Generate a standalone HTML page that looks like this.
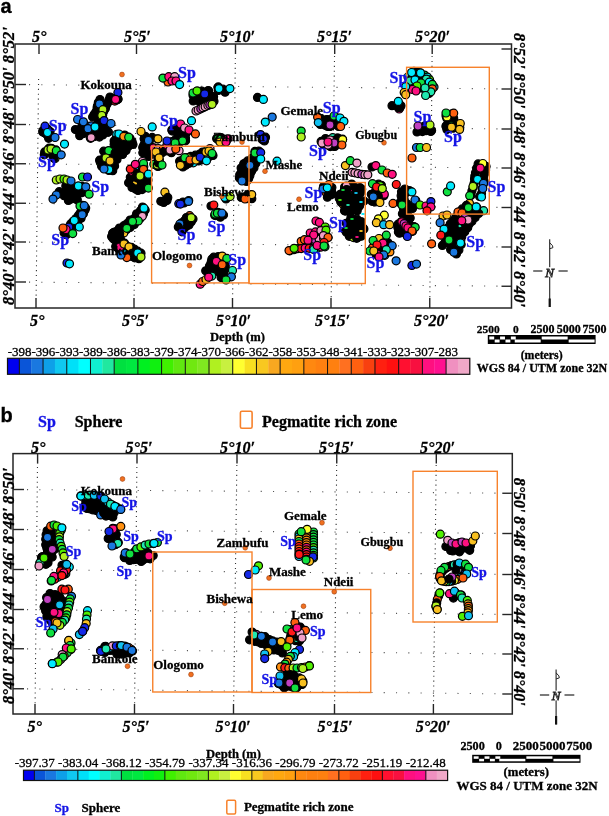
<!DOCTYPE html><html><head><meta charset="utf-8"><style>html,body{margin:0;padding:0;background:#fff;width:609px;height:816px;overflow:hidden}svg{display:block;filter:blur(0.35px)}</style></head><body><svg width="609" height="816" viewBox="0 0 609 816">
<rect width="609" height="816" fill="#fff"/>
<text x="0.5" y="13" font-family="'Liberation Sans', sans-serif" font-size="20" font-weight="bold" font-style="normal" fill="#000" stroke="#000" stroke-width="0.3" text-anchor="start" >a</text>
<line x1="38.60" y1="79" x2="36.11" y2="298" stroke="#333" stroke-width="1.1" stroke-dasharray="1.1 3.8"/>
<line x1="136.17" y1="79" x2="134.09" y2="298" stroke="#333" stroke-width="1.1" stroke-dasharray="1.1 3.8"/>
<line x1="235.34" y1="58" x2="232.61" y2="298" stroke="#333" stroke-width="1.1" stroke-dasharray="1.1 3.8"/>
<line x1="334.53" y1="56" x2="331.14" y2="298" stroke="#333" stroke-width="1.1" stroke-dasharray="1.1 3.8"/>
<line x1="432.09" y1="56" x2="429.84" y2="298" stroke="#333" stroke-width="1.1" stroke-dasharray="1.1 3.8"/>
<line x1="29" y1="84.63" x2="499.5" y2="88.89" stroke="#555" stroke-width="1.1" stroke-dasharray="1.1 11.2"/>
<line x1="29" y1="124.63" x2="499.5" y2="128.89" stroke="#555" stroke-width="1.1" stroke-dasharray="1.1 11.2"/>
<line x1="29" y1="163.87" x2="499.5" y2="167.90" stroke="#555" stroke-width="1.1" stroke-dasharray="1.1 11.2"/>
<line x1="29" y1="203.37" x2="499.5" y2="207.40" stroke="#555" stroke-width="1.1" stroke-dasharray="1.1 11.2"/>
<line x1="29" y1="242.14" x2="499.5" y2="246.88" stroke="#555" stroke-width="1.1" stroke-dasharray="1.1 11.2"/>
<line x1="29" y1="282.12" x2="499.5" y2="286.15" stroke="#555" stroke-width="1.1" stroke-dasharray="1.1 11.2"/>
<circle cx="113.0" cy="99.4" r="4.0" fill="#000000" stroke="#000" stroke-width="1.2"/>
<circle cx="117.9" cy="99.3" r="4.0" fill="#000000" stroke="#000" stroke-width="1.2"/>
<circle cx="118.0" cy="99.0" r="4.0" fill="#000000" stroke="#000" stroke-width="1.2"/>
<circle cx="112.6" cy="98.4" r="4.0" fill="#000000" stroke="#000" stroke-width="1.2"/>
<circle cx="109.1" cy="99.7" r="4.0" fill="#000000" stroke="#000" stroke-width="1.2"/>
<circle cx="114.8" cy="101.1" r="4.0" fill="#ff1818" stroke="#000" stroke-width="1.2"/>
<circle cx="116.7" cy="98.6" r="4.0" fill="#000000" stroke="#000" stroke-width="1.2"/>
<circle cx="116.6" cy="99.9" r="4.0" fill="#000000" stroke="#000" stroke-width="1.2"/>
<circle cx="107.8" cy="102.7" r="4.0" fill="#000000" stroke="#000" stroke-width="1.2"/>
<circle cx="106.5" cy="104.9" r="4.0" fill="#000000" stroke="#000" stroke-width="1.2"/>
<circle cx="105.4" cy="108.4" r="4.0" fill="#000000" stroke="#000" stroke-width="1.2"/>
<circle cx="103.8" cy="111.3" r="4.0" fill="#000000" stroke="#000" stroke-width="1.2"/>
<circle cx="102.7" cy="115.0" r="4.0" fill="#000000" stroke="#000" stroke-width="1.2"/>
<circle cx="101.3" cy="116.9" r="4.0" fill="#000000" stroke="#000" stroke-width="1.2"/>
<circle cx="100.1" cy="120.1" r="4.0" fill="#000000" stroke="#000" stroke-width="1.2"/>
<circle cx="100.0" cy="99.5" r="4.0" fill="#000000" stroke="#000" stroke-width="1.2"/>
<circle cx="98.3" cy="102.5" r="4.0" fill="#000000" stroke="#000" stroke-width="1.2"/>
<circle cx="97.4" cy="106.1" r="4.0" fill="#000000" stroke="#000" stroke-width="1.2"/>
<circle cx="97.1" cy="107.7" r="4.0" fill="#000000" stroke="#000" stroke-width="1.2"/>
<circle cx="95.8" cy="111.9" r="4.0" fill="#000000" stroke="#000" stroke-width="1.2"/>
<circle cx="94.1" cy="114.5" r="4.0" fill="#000000" stroke="#000" stroke-width="1.2"/>
<circle cx="92.6" cy="116.9" r="4.0" fill="#000000" stroke="#000" stroke-width="1.2"/>
<circle cx="90.2" cy="137.6" r="4.0" fill="#000000" stroke="#000" stroke-width="1.2"/>
<circle cx="90.9" cy="126.6" r="4.0" fill="#000000" stroke="#000" stroke-width="1.2"/>
<circle cx="87.2" cy="126.2" r="4.0" fill="#000000" stroke="#000" stroke-width="1.2"/>
<circle cx="99.6" cy="127.9" r="4.0" fill="#ff6010" stroke="#000" stroke-width="1.2"/>
<circle cx="94.9" cy="133.4" r="4.0" fill="#000000" stroke="#000" stroke-width="1.2"/>
<circle cx="92.7" cy="128.1" r="4.0" fill="#000000" stroke="#000" stroke-width="1.2"/>
<circle cx="79.7" cy="135.7" r="4.0" fill="#000000" stroke="#000" stroke-width="1.2"/>
<circle cx="80.0" cy="132.9" r="4.0" fill="#000000" stroke="#000" stroke-width="1.2"/>
<circle cx="98.7" cy="124.3" r="4.0" fill="#000000" stroke="#000" stroke-width="1.2"/>
<circle cx="83.2" cy="133.4" r="4.0" fill="#000000" stroke="#000" stroke-width="1.2"/>
<circle cx="98.4" cy="130.2" r="4.0" fill="#000000" stroke="#000" stroke-width="1.2"/>
<circle cx="92.9" cy="134.8" r="4.0" fill="#000000" stroke="#000" stroke-width="1.2"/>
<circle cx="84.6" cy="128.8" r="4.0" fill="#000000" stroke="#000" stroke-width="1.2"/>
<circle cx="83.0" cy="133.4" r="4.0" fill="#000000" stroke="#000" stroke-width="1.2"/>
<circle cx="105.5" cy="129.1" r="4.0" fill="#000000" stroke="#000" stroke-width="1.2"/>
<circle cx="81.7" cy="126.6" r="4.0" fill="#000000" stroke="#000" stroke-width="1.2"/>
<circle cx="104.1" cy="126.8" r="4.0" fill="#000000" stroke="#000" stroke-width="1.2"/>
<circle cx="95.2" cy="126.2" r="4.0" fill="#000000" stroke="#000" stroke-width="1.2"/>
<circle cx="102.8" cy="134.9" r="4.0" fill="#000000" stroke="#000" stroke-width="1.2"/>
<circle cx="99.1" cy="132.5" r="4.0" fill="#000000" stroke="#000" stroke-width="1.2"/>
<circle cx="89.9" cy="132.5" r="4.0" fill="#000000" stroke="#000" stroke-width="1.2"/>
<circle cx="95.1" cy="133.1" r="4.0" fill="#000000" stroke="#000" stroke-width="1.2"/>
<circle cx="107.7" cy="132.2" r="4.0" fill="#000000" stroke="#000" stroke-width="1.2"/>
<circle cx="97.1" cy="134.2" r="4.0" fill="#000000" stroke="#000" stroke-width="1.2"/>
<circle cx="88.1" cy="133.1" r="4.0" fill="#000000" stroke="#000" stroke-width="1.2"/>
<circle cx="103.6" cy="130.8" r="4.0" fill="#000000" stroke="#000" stroke-width="1.2"/>
<circle cx="96.7" cy="132.3" r="4.0" fill="#000000" stroke="#000" stroke-width="1.2"/>
<circle cx="90.6" cy="138.3" r="4.0" fill="#000000" stroke="#000" stroke-width="1.2"/>
<circle cx="108.4" cy="132.1" r="4.0" fill="#000000" stroke="#000" stroke-width="1.2"/>
<circle cx="99.6" cy="135.7" r="4.0" fill="#000000" stroke="#000" stroke-width="1.2"/>
<circle cx="75.4" cy="129.6" r="4.0" fill="#000000" stroke="#000" stroke-width="1.2"/>
<circle cx="89.1" cy="127.1" r="4.0" fill="#000000" stroke="#000" stroke-width="1.2"/>
<circle cx="99.4" cy="137.1" r="4.0" fill="#000000" stroke="#000" stroke-width="1.2"/>
<circle cx="93.8" cy="126.5" r="4.0" fill="#000000" stroke="#000" stroke-width="1.2"/>
<circle cx="98.4" cy="123.6" r="4.0" fill="#000000" stroke="#000" stroke-width="1.2"/>
<circle cx="97.3" cy="124.2" r="4.0" fill="#000000" stroke="#000" stroke-width="1.2"/>
<circle cx="93.8" cy="136.7" r="4.0" fill="#000000" stroke="#000" stroke-width="1.2"/>
<circle cx="94.8" cy="131.2" r="4.0" fill="#000000" stroke="#000" stroke-width="1.2"/>
<circle cx="91.2" cy="137.6" r="4.0" fill="#f0a0c8" stroke="#000" stroke-width="1.2"/>
<circle cx="97.2" cy="124.7" r="4.0" fill="#000000" stroke="#000" stroke-width="1.2"/>
<circle cx="96.8" cy="130.6" r="4.0" fill="#000000" stroke="#000" stroke-width="1.2"/>
<circle cx="82.3" cy="131.9" r="4.0" fill="#000000" stroke="#000" stroke-width="1.2"/>
<circle cx="110.0" cy="97.0" r="4.0" fill="#000000" stroke="#000" stroke-width="1.2"/>
<circle cx="117.9" cy="92.5" r="4.0" fill="#1428e8" stroke="#000" stroke-width="1.2"/>
<circle cx="115.6" cy="99.4" r="4.0" fill="#ff1080" stroke="#000" stroke-width="1.2"/>
<circle cx="99.5" cy="104.0" r="4.0" fill="#1a78e0" stroke="#000" stroke-width="1.2"/>
<circle cx="102.9" cy="109.7" r="4.0" fill="#b0f020" stroke="#000" stroke-width="1.2"/>
<circle cx="101.8" cy="115.5" r="4.0" fill="#b0f020" stroke="#000" stroke-width="1.2"/>
<circle cx="77.6" cy="119.5" r="4.0" fill="#1a78e0" stroke="#000" stroke-width="1.2"/>
<circle cx="83.4" cy="121.8" r="4.0" fill="#1a78e0" stroke="#000" stroke-width="1.2"/>
<circle cx="91.4" cy="125.8" r="4.0" fill="#1a78e0" stroke="#000" stroke-width="1.2"/>
<circle cx="88.0" cy="128.7" r="4.0" fill="#1a78e0" stroke="#000" stroke-width="1.2"/>
<circle cx="104.1" cy="120.6" r="4.0" fill="#1428e8" stroke="#000" stroke-width="1.2"/>
<circle cx="111.0" cy="123.5" r="4.0" fill="#1a78e0" stroke="#000" stroke-width="1.2"/>
<circle cx="95.0" cy="127.0" r="4.0" fill="#00eaff" stroke="#000" stroke-width="1.2"/>
<circle cx="129.8" cy="139.6" r="4.0" fill="#000000" stroke="#000" stroke-width="1.2"/>
<circle cx="126.9" cy="138.1" r="4.0" fill="#000000" stroke="#000" stroke-width="1.2"/>
<circle cx="123.8" cy="138.2" r="4.0" fill="#000000" stroke="#000" stroke-width="1.2"/>
<circle cx="120.9" cy="137.4" r="4.0" fill="#000000" stroke="#000" stroke-width="1.2"/>
<circle cx="114.7" cy="141.9" r="4.0" fill="#000000" stroke="#000" stroke-width="1.2"/>
<circle cx="130.0" cy="138.3" r="4.0" fill="#000000" stroke="#000" stroke-width="1.2"/>
<circle cx="121.9" cy="138.3" r="4.0" fill="#000000" stroke="#000" stroke-width="1.2"/>
<circle cx="123.7" cy="140.0" r="4.0" fill="#000000" stroke="#000" stroke-width="1.2"/>
<circle cx="114.1" cy="141.0" r="4.0" fill="#000000" stroke="#000" stroke-width="1.2"/>
<circle cx="116.3" cy="137.7" r="4.0" fill="#000000" stroke="#000" stroke-width="1.2"/>
<circle cx="126.1" cy="143.7" r="4.0" fill="#000000" stroke="#000" stroke-width="1.2"/>
<circle cx="124.6" cy="135.1" r="4.0" fill="#000000" stroke="#000" stroke-width="1.2"/>
<circle cx="122.0" cy="137.8" r="4.0" fill="#50f000" stroke="#000" stroke-width="1.2"/>
<circle cx="124.1" cy="137.6" r="4.0" fill="#000000" stroke="#000" stroke-width="1.2"/>
<circle cx="120.7" cy="142.8" r="4.0" fill="#000000" stroke="#000" stroke-width="1.2"/>
<circle cx="121.6" cy="143.9" r="4.0" fill="#000000" stroke="#000" stroke-width="1.2"/>
<circle cx="116.7" cy="134.4" r="4.0" fill="#00eaff" stroke="#000" stroke-width="1.2"/>
<circle cx="120.0" cy="135.5" r="4.0" fill="#10e040" stroke="#000" stroke-width="1.2"/>
<circle cx="123.6" cy="136.7" r="4.0" fill="#ff9010" stroke="#000" stroke-width="1.2"/>
<circle cx="128.2" cy="137.3" r="4.0" fill="#10e040" stroke="#000" stroke-width="1.2"/>
<circle cx="49.5" cy="131.8" r="4.0" fill="#000000" stroke="#000" stroke-width="1.2"/>
<circle cx="42.9" cy="130.7" r="4.0" fill="#000000" stroke="#000" stroke-width="1.2"/>
<circle cx="50.1" cy="131.5" r="4.0" fill="#000000" stroke="#000" stroke-width="1.2"/>
<circle cx="46.3" cy="133.9" r="4.0" fill="#000000" stroke="#000" stroke-width="1.2"/>
<circle cx="47.1" cy="134.4" r="4.0" fill="#000000" stroke="#000" stroke-width="1.2"/>
<circle cx="48.6" cy="138.3" r="4.0" fill="#000000" stroke="#000" stroke-width="1.2"/>
<circle cx="44.3" cy="132.6" r="4.0" fill="#000000" stroke="#000" stroke-width="1.2"/>
<circle cx="42.8" cy="131.9" r="4.0" fill="#000000" stroke="#000" stroke-width="1.2"/>
<circle cx="44.7" cy="132.7" r="4.0" fill="#000000" stroke="#000" stroke-width="1.2"/>
<circle cx="47.5" cy="129.1" r="4.0" fill="#000000" stroke="#000" stroke-width="1.2"/>
<circle cx="45.0" cy="126.2" r="4.0" fill="#1428e8" stroke="#000" stroke-width="1.2"/>
<circle cx="47.5" cy="132.5" r="4.0" fill="#00eaff" stroke="#000" stroke-width="1.2"/>
<circle cx="55.0" cy="137.5" r="4.0" fill="#1a78e0" stroke="#000" stroke-width="1.2"/>
<circle cx="64.5" cy="144.1" r="4.0" fill="#00eaff" stroke="#000" stroke-width="1.2"/>
<circle cx="51.4" cy="148.3" r="4.0" fill="#000000" stroke="#000" stroke-width="1.2"/>
<circle cx="47.2" cy="151.2" r="4.0" fill="#000000" stroke="#000" stroke-width="1.2"/>
<circle cx="49.3" cy="150.2" r="4.0" fill="#000000" stroke="#000" stroke-width="1.2"/>
<circle cx="44.3" cy="154.8" r="4.0" fill="#000000" stroke="#000" stroke-width="1.2"/>
<circle cx="55.9" cy="149.9" r="4.0" fill="#000000" stroke="#000" stroke-width="1.2"/>
<circle cx="44.7" cy="151.9" r="4.0" fill="#000000" stroke="#000" stroke-width="1.2"/>
<circle cx="52.6" cy="155.6" r="4.0" fill="#000000" stroke="#000" stroke-width="1.2"/>
<circle cx="54.1" cy="155.3" r="4.0" fill="#000000" stroke="#000" stroke-width="1.2"/>
<circle cx="48.0" cy="149.4" r="4.0" fill="#000000" stroke="#000" stroke-width="1.2"/>
<circle cx="54.3" cy="158.2" r="4.0" fill="#000000" stroke="#000" stroke-width="1.2"/>
<circle cx="55.1" cy="158.4" r="4.0" fill="#b0f020" stroke="#000" stroke-width="1.2"/>
<circle cx="51.0" cy="152.2" r="4.0" fill="#000000" stroke="#000" stroke-width="1.2"/>
<circle cx="54.0" cy="158.2" r="4.0" fill="#000000" stroke="#000" stroke-width="1.2"/>
<circle cx="49.1" cy="148.2" r="4.0" fill="#000000" stroke="#000" stroke-width="1.2"/>
<circle cx="48.0" cy="150.0" r="4.0" fill="#b0f020" stroke="#000" stroke-width="1.2"/>
<circle cx="51.0" cy="149.0" r="4.0" fill="#b0f020" stroke="#000" stroke-width="1.2"/>
<circle cx="56.3" cy="150.7" r="4.0" fill="#10e040" stroke="#000" stroke-width="1.2"/>
<circle cx="61.2" cy="154.8" r="4.0" fill="#1a78e0" stroke="#000" stroke-width="1.2"/>
<circle cx="65.2" cy="194.6" r="4.0" fill="#000000" stroke="#000" stroke-width="1.2"/>
<circle cx="67.0" cy="195.9" r="4.0" fill="#000000" stroke="#000" stroke-width="1.2"/>
<circle cx="69.7" cy="186.7" r="4.0" fill="#000000" stroke="#000" stroke-width="1.2"/>
<circle cx="68.4" cy="200.5" r="4.0" fill="#000000" stroke="#000" stroke-width="1.2"/>
<circle cx="77.4" cy="189.9" r="4.0" fill="#000000" stroke="#000" stroke-width="1.2"/>
<circle cx="77.9" cy="194.4" r="4.0" fill="#000000" stroke="#000" stroke-width="1.2"/>
<circle cx="76.7" cy="199.1" r="4.0" fill="#000000" stroke="#000" stroke-width="1.2"/>
<circle cx="78.3" cy="186.0" r="4.0" fill="#000000" stroke="#000" stroke-width="1.2"/>
<circle cx="64.1" cy="195.7" r="4.0" fill="#000000" stroke="#000" stroke-width="1.2"/>
<circle cx="64.6" cy="192.2" r="4.0" fill="#000000" stroke="#000" stroke-width="1.2"/>
<circle cx="73.7" cy="188.3" r="4.0" fill="#000000" stroke="#000" stroke-width="1.2"/>
<circle cx="71.8" cy="193.2" r="4.0" fill="#000000" stroke="#000" stroke-width="1.2"/>
<circle cx="71.3" cy="199.0" r="4.0" fill="#000000" stroke="#000" stroke-width="1.2"/>
<circle cx="71.6" cy="195.1" r="4.0" fill="#000000" stroke="#000" stroke-width="1.2"/>
<circle cx="80.4" cy="191.8" r="4.0" fill="#000000" stroke="#000" stroke-width="1.2"/>
<circle cx="70.1" cy="190.7" r="4.0" fill="#000000" stroke="#000" stroke-width="1.2"/>
<circle cx="83.8" cy="188.6" r="4.0" fill="#000000" stroke="#000" stroke-width="1.2"/>
<circle cx="77.3" cy="199.9" r="4.0" fill="#000000" stroke="#000" stroke-width="1.2"/>
<circle cx="66.2" cy="191.2" r="4.0" fill="#000000" stroke="#000" stroke-width="1.2"/>
<circle cx="68.8" cy="187.9" r="4.0" fill="#000000" stroke="#000" stroke-width="1.2"/>
<circle cx="74.5" cy="191.9" r="4.0" fill="#000000" stroke="#000" stroke-width="1.2"/>
<circle cx="59.2" cy="191.7" r="4.0" fill="#000000" stroke="#000" stroke-width="1.2"/>
<circle cx="72.2" cy="198.0" r="4.0" fill="#000000" stroke="#000" stroke-width="1.2"/>
<circle cx="65.8" cy="186.1" r="4.0" fill="#000000" stroke="#000" stroke-width="1.2"/>
<circle cx="81.8" cy="186.3" r="4.0" fill="#000000" stroke="#000" stroke-width="1.2"/>
<circle cx="73.4" cy="196.2" r="4.0" fill="#000000" stroke="#000" stroke-width="1.2"/>
<circle cx="80.2" cy="186.8" r="4.0" fill="#000000" stroke="#000" stroke-width="1.2"/>
<circle cx="84.9" cy="191.4" r="4.0" fill="#000000" stroke="#000" stroke-width="1.2"/>
<circle cx="82.2" cy="192.6" r="4.0" fill="#000000" stroke="#000" stroke-width="1.2"/>
<circle cx="69.2" cy="192.9" r="4.0" fill="#000000" stroke="#000" stroke-width="1.2"/>
<circle cx="56.3" cy="180.0" r="4.0" fill="#b0f020" stroke="#000" stroke-width="1.2"/>
<circle cx="60.0" cy="179.0" r="4.0" fill="#b0f020" stroke="#000" stroke-width="1.2"/>
<circle cx="64.0" cy="179.0" r="4.0" fill="#50f000" stroke="#000" stroke-width="1.2"/>
<circle cx="67.0" cy="180.0" r="4.0" fill="#b0f020" stroke="#000" stroke-width="1.2"/>
<circle cx="71.0" cy="181.0" r="4.0" fill="#1a78e0" stroke="#000" stroke-width="1.2"/>
<circle cx="78.4" cy="186.0" r="4.0" fill="#00eaff" stroke="#000" stroke-width="1.2"/>
<circle cx="82.5" cy="177.0" r="4.0" fill="#10e040" stroke="#000" stroke-width="1.2"/>
<circle cx="87.5" cy="177.0" r="4.0" fill="#1428e8" stroke="#000" stroke-width="1.2"/>
<circle cx="85.8" cy="186.8" r="4.0" fill="#1a78e0" stroke="#000" stroke-width="1.2"/>
<circle cx="89.1" cy="194.2" r="4.0" fill="#10e040" stroke="#000" stroke-width="1.2"/>
<circle cx="56.3" cy="195.0" r="4.0" fill="#1a78e0" stroke="#000" stroke-width="1.2"/>
<circle cx="53.0" cy="199.1" r="4.0" fill="#1a78e0" stroke="#000" stroke-width="1.2"/>
<circle cx="85.7" cy="207.9" r="4.0" fill="#000000" stroke="#000" stroke-width="1.2"/>
<circle cx="85.0" cy="210.1" r="4.0" fill="#000000" stroke="#000" stroke-width="1.2"/>
<circle cx="83.4" cy="213.8" r="4.0" fill="#000000" stroke="#000" stroke-width="1.2"/>
<circle cx="81.1" cy="218.2" r="4.0" fill="#000000" stroke="#000" stroke-width="1.2"/>
<circle cx="77.9" cy="220.8" r="4.0" fill="#000000" stroke="#000" stroke-width="1.2"/>
<circle cx="75.7" cy="222.8" r="4.0" fill="#000000" stroke="#000" stroke-width="1.2"/>
<circle cx="73.5" cy="226.4" r="4.0" fill="#000000" stroke="#000" stroke-width="1.2"/>
<circle cx="72.0" cy="228.6" r="4.0" fill="#000000" stroke="#000" stroke-width="1.2"/>
<circle cx="69.0" cy="231.4" r="4.0" fill="#20e8b0" stroke="#000" stroke-width="1.2"/>
<circle cx="66.3" cy="234.7" r="4.0" fill="#000000" stroke="#000" stroke-width="1.2"/>
<circle cx="82.4" cy="205.3" r="4.0" fill="#000000" stroke="#000" stroke-width="1.2"/>
<circle cx="81.8" cy="209.2" r="4.0" fill="#000000" stroke="#000" stroke-width="1.2"/>
<circle cx="80.2" cy="213.1" r="4.0" fill="#000000" stroke="#000" stroke-width="1.2"/>
<circle cx="78.4" cy="215.4" r="4.0" fill="#000000" stroke="#000" stroke-width="1.2"/>
<circle cx="75.9" cy="218.5" r="4.0" fill="#000000" stroke="#000" stroke-width="1.2"/>
<circle cx="73.2" cy="221.3" r="4.0" fill="#000000" stroke="#000" stroke-width="1.2"/>
<circle cx="70.6" cy="223.9" r="4.0" fill="#000000" stroke="#000" stroke-width="1.2"/>
<circle cx="68.8" cy="227.1" r="4.0" fill="#1428e8" stroke="#000" stroke-width="1.2"/>
<circle cx="65.1" cy="229.2" r="4.0" fill="#b0f020" stroke="#000" stroke-width="1.2"/>
<circle cx="64.1" cy="232.7" r="4.0" fill="#000000" stroke="#000" stroke-width="1.2"/>
<circle cx="80.0" cy="206.0" r="4.0" fill="#10e040" stroke="#000" stroke-width="1.2"/>
<circle cx="84.2" cy="205.7" r="4.0" fill="#1a78e0" stroke="#000" stroke-width="1.2"/>
<circle cx="82.2" cy="214.7" r="4.0" fill="#1a78e0" stroke="#000" stroke-width="1.2"/>
<circle cx="74.3" cy="220.5" r="4.0" fill="#00eaff" stroke="#000" stroke-width="1.2"/>
<circle cx="79.3" cy="227.0" r="4.0" fill="#00eaff" stroke="#000" stroke-width="1.2"/>
<circle cx="66.1" cy="229.5" r="4.0" fill="#ff1080" stroke="#000" stroke-width="1.2"/>
<circle cx="63.0" cy="228.0" r="4.0" fill="#ff6010" stroke="#000" stroke-width="1.2"/>
<circle cx="72.7" cy="233.6" r="4.0" fill="#10e040" stroke="#000" stroke-width="1.2"/>
<circle cx="106.1" cy="160.9" r="4.0" fill="#000000" stroke="#000" stroke-width="1.2"/>
<circle cx="103.6" cy="158.7" r="4.0" fill="#000000" stroke="#000" stroke-width="1.2"/>
<circle cx="105.7" cy="160.9" r="4.0" fill="#000000" stroke="#000" stroke-width="1.2"/>
<circle cx="110.2" cy="157.6" r="4.0" fill="#000000" stroke="#000" stroke-width="1.2"/>
<circle cx="107.8" cy="151.1" r="4.0" fill="#000000" stroke="#000" stroke-width="1.2"/>
<circle cx="110.5" cy="154.8" r="4.0" fill="#000000" stroke="#000" stroke-width="1.2"/>
<circle cx="108.9" cy="170.4" r="4.0" fill="#000000" stroke="#000" stroke-width="1.2"/>
<circle cx="109.4" cy="157.0" r="4.0" fill="#000000" stroke="#000" stroke-width="1.2"/>
<circle cx="107.5" cy="162.7" r="4.0" fill="#000000" stroke="#000" stroke-width="1.2"/>
<circle cx="110.2" cy="169.5" r="4.0" fill="#000000" stroke="#000" stroke-width="1.2"/>
<circle cx="103.7" cy="151.2" r="4.0" fill="#000000" stroke="#000" stroke-width="1.2"/>
<circle cx="112.2" cy="166.7" r="4.0" fill="#000000" stroke="#000" stroke-width="1.2"/>
<circle cx="110.8" cy="159.3" r="4.0" fill="#000000" stroke="#000" stroke-width="1.2"/>
<circle cx="100.4" cy="160.7" r="4.0" fill="#000000" stroke="#000" stroke-width="1.2"/>
<circle cx="100.3" cy="162.4" r="4.0" fill="#50f000" stroke="#000" stroke-width="1.2"/>
<circle cx="107.0" cy="163.5" r="4.0" fill="#000000" stroke="#000" stroke-width="1.2"/>
<circle cx="107.4" cy="163.5" r="4.0" fill="#000000" stroke="#000" stroke-width="1.2"/>
<circle cx="117.0" cy="159.6" r="4.0" fill="#000000" stroke="#000" stroke-width="1.2"/>
<circle cx="115.5" cy="153.7" r="4.0" fill="#000000" stroke="#000" stroke-width="1.2"/>
<circle cx="114.6" cy="166.0" r="4.0" fill="#000000" stroke="#000" stroke-width="1.2"/>
<circle cx="103.6" cy="167.8" r="4.0" fill="#000000" stroke="#000" stroke-width="1.2"/>
<circle cx="107.4" cy="164.3" r="4.0" fill="#000000" stroke="#000" stroke-width="1.2"/>
<circle cx="99.6" cy="160.2" r="4.0" fill="#000000" stroke="#000" stroke-width="1.2"/>
<circle cx="112.7" cy="170.7" r="4.0" fill="#000000" stroke="#000" stroke-width="1.2"/>
<circle cx="101.6" cy="166.2" r="4.0" fill="#000000" stroke="#000" stroke-width="1.2"/>
<circle cx="105.8" cy="163.2" r="4.0" fill="#000000" stroke="#000" stroke-width="1.2"/>
<circle cx="105.6" cy="166.7" r="4.0" fill="#000000" stroke="#000" stroke-width="1.2"/>
<circle cx="111.7" cy="157.9" r="4.0" fill="#000000" stroke="#000" stroke-width="1.2"/>
<circle cx="108.8" cy="150.7" r="4.0" fill="#10e040" stroke="#000" stroke-width="1.2"/>
<circle cx="106.0" cy="158.0" r="4.0" fill="#b0f020" stroke="#000" stroke-width="1.2"/>
<circle cx="110.0" cy="161.0" r="4.0" fill="#f8c020" stroke="#000" stroke-width="1.2"/>
<circle cx="108.8" cy="169.6" r="4.0" fill="#00eaff" stroke="#000" stroke-width="1.2"/>
<circle cx="104.0" cy="169.0" r="4.0" fill="#1a78e0" stroke="#000" stroke-width="1.2"/>
<circle cx="122.6" cy="142.0" r="4.0" fill="#000000" stroke="#000" stroke-width="1.2"/>
<circle cx="115.1" cy="152.9" r="4.0" fill="#000000" stroke="#000" stroke-width="1.2"/>
<circle cx="131.5" cy="143.1" r="4.0" fill="#000000" stroke="#000" stroke-width="1.2"/>
<circle cx="122.5" cy="149.2" r="4.0" fill="#000000" stroke="#000" stroke-width="1.2"/>
<circle cx="120.2" cy="144.1" r="4.0" fill="#ff1080" stroke="#000" stroke-width="1.2"/>
<circle cx="118.2" cy="146.7" r="4.0" fill="#000000" stroke="#000" stroke-width="1.2"/>
<circle cx="133.0" cy="144.4" r="4.0" fill="#000000" stroke="#000" stroke-width="1.2"/>
<circle cx="115.8" cy="140.0" r="4.0" fill="#000000" stroke="#000" stroke-width="1.2"/>
<circle cx="114.1" cy="144.4" r="4.0" fill="#000000" stroke="#000" stroke-width="1.2"/>
<circle cx="122.2" cy="140.3" r="4.0" fill="#000000" stroke="#000" stroke-width="1.2"/>
<circle cx="119.4" cy="142.8" r="4.0" fill="#000000" stroke="#000" stroke-width="1.2"/>
<circle cx="126.5" cy="145.4" r="4.0" fill="#000000" stroke="#000" stroke-width="1.2"/>
<circle cx="119.7" cy="151.5" r="4.0" fill="#000000" stroke="#000" stroke-width="1.2"/>
<circle cx="128.5" cy="146.2" r="4.0" fill="#000000" stroke="#000" stroke-width="1.2"/>
<circle cx="120.4" cy="154.1" r="4.0" fill="#000000" stroke="#000" stroke-width="1.2"/>
<circle cx="125.2" cy="150.5" r="4.0" fill="#000000" stroke="#000" stroke-width="1.2"/>
<circle cx="129.4" cy="143.1" r="4.0" fill="#000000" stroke="#000" stroke-width="1.2"/>
<circle cx="132.1" cy="141.5" r="4.0" fill="#000000" stroke="#000" stroke-width="1.2"/>
<circle cx="126.1" cy="150.4" r="4.0" fill="#000000" stroke="#000" stroke-width="1.2"/>
<circle cx="121.2" cy="149.5" r="4.0" fill="#000000" stroke="#000" stroke-width="1.2"/>
<circle cx="122.6" cy="154.5" r="4.0" fill="#000000" stroke="#000" stroke-width="1.2"/>
<circle cx="123.0" cy="140.6" r="4.0" fill="#000000" stroke="#000" stroke-width="1.2"/>
<circle cx="118.9" cy="134.0" r="4.0" fill="#00eaff" stroke="#000" stroke-width="1.2"/>
<circle cx="123.8" cy="136.4" r="4.0" fill="#ff9010" stroke="#000" stroke-width="1.2"/>
<circle cx="128.7" cy="137.2" r="4.0" fill="#10e040" stroke="#000" stroke-width="1.2"/>
<circle cx="143.8" cy="145.0" r="4.0" fill="#000000" stroke="#000" stroke-width="1.2"/>
<circle cx="151.4" cy="148.2" r="4.0" fill="#20e8b0" stroke="#000" stroke-width="1.2"/>
<circle cx="146.0" cy="138.6" r="4.0" fill="#000000" stroke="#000" stroke-width="1.2"/>
<circle cx="149.2" cy="143.3" r="4.0" fill="#000000" stroke="#000" stroke-width="1.2"/>
<circle cx="143.8" cy="151.9" r="4.0" fill="#000000" stroke="#000" stroke-width="1.2"/>
<circle cx="145.6" cy="155.2" r="4.0" fill="#20e8b0" stroke="#000" stroke-width="1.2"/>
<circle cx="153.8" cy="147.9" r="4.0" fill="#000000" stroke="#000" stroke-width="1.2"/>
<circle cx="142.7" cy="147.4" r="4.0" fill="#000000" stroke="#000" stroke-width="1.2"/>
<circle cx="142.8" cy="152.7" r="4.0" fill="#000000" stroke="#000" stroke-width="1.2"/>
<circle cx="152.2" cy="137.4" r="4.0" fill="#000000" stroke="#000" stroke-width="1.2"/>
<circle cx="150.1" cy="148.7" r="4.0" fill="#000000" stroke="#000" stroke-width="1.2"/>
<circle cx="145.2" cy="136.3" r="4.0" fill="#000000" stroke="#000" stroke-width="1.2"/>
<circle cx="144.3" cy="138.3" r="4.0" fill="#000000" stroke="#000" stroke-width="1.2"/>
<circle cx="146.7" cy="145.3" r="4.0" fill="#000000" stroke="#000" stroke-width="1.2"/>
<circle cx="148.7" cy="156.5" r="4.0" fill="#000000" stroke="#000" stroke-width="1.2"/>
<circle cx="147.2" cy="149.7" r="4.0" fill="#000000" stroke="#000" stroke-width="1.2"/>
<circle cx="144.2" cy="139.1" r="4.0" fill="#000000" stroke="#000" stroke-width="1.2"/>
<circle cx="152.6" cy="149.4" r="4.0" fill="#000000" stroke="#000" stroke-width="1.2"/>
<circle cx="141.0" cy="131.5" r="4.0" fill="#f8c020" stroke="#000" stroke-width="1.2"/>
<circle cx="152.2" cy="126.9" r="4.0" fill="#00eaff" stroke="#000" stroke-width="1.2"/>
<circle cx="157.5" cy="138.9" r="4.0" fill="#f8c020" stroke="#000" stroke-width="1.2"/>
<circle cx="148.4" cy="140.5" r="4.0" fill="#1a78e0" stroke="#000" stroke-width="1.2"/>
<circle cx="135.0" cy="184.8" r="4.0" fill="#000000" stroke="#000" stroke-width="1.2"/>
<circle cx="145.0" cy="182.3" r="4.0" fill="#000000" stroke="#000" stroke-width="1.2"/>
<circle cx="147.5" cy="180.2" r="4.0" fill="#000000" stroke="#000" stroke-width="1.2"/>
<circle cx="133.7" cy="182.7" r="4.0" fill="#000000" stroke="#000" stroke-width="1.2"/>
<circle cx="148.0" cy="180.1" r="4.0" fill="#000000" stroke="#000" stroke-width="1.2"/>
<circle cx="146.7" cy="182.9" r="4.0" fill="#000000" stroke="#000" stroke-width="1.2"/>
<circle cx="134.1" cy="184.2" r="4.0" fill="#000000" stroke="#000" stroke-width="1.2"/>
<circle cx="143.7" cy="180.1" r="4.0" fill="#000000" stroke="#000" stroke-width="1.2"/>
<circle cx="135.3" cy="187.0" r="4.0" fill="#000000" stroke="#000" stroke-width="1.2"/>
<circle cx="142.1" cy="189.6" r="4.0" fill="#000000" stroke="#000" stroke-width="1.2"/>
<circle cx="134.0" cy="181.9" r="4.0" fill="#f8c020" stroke="#000" stroke-width="1.2"/>
<circle cx="139.5" cy="178.1" r="4.0" fill="#000000" stroke="#000" stroke-width="1.2"/>
<circle cx="138.0" cy="190.4" r="4.0" fill="#000000" stroke="#000" stroke-width="1.2"/>
<circle cx="132.9" cy="177.1" r="4.0" fill="#000000" stroke="#000" stroke-width="1.2"/>
<circle cx="128.6" cy="182.8" r="4.0" fill="#000000" stroke="#000" stroke-width="1.2"/>
<circle cx="130.3" cy="177.2" r="4.0" fill="#000000" stroke="#000" stroke-width="1.2"/>
<circle cx="147.4" cy="183.0" r="4.0" fill="#000000" stroke="#000" stroke-width="1.2"/>
<circle cx="137.8" cy="178.3" r="4.0" fill="#000000" stroke="#000" stroke-width="1.2"/>
<circle cx="137.5" cy="177.1" r="4.0" fill="#000000" stroke="#000" stroke-width="1.2"/>
<circle cx="142.9" cy="183.8" r="4.0" fill="#000000" stroke="#000" stroke-width="1.2"/>
<circle cx="134.4" cy="176.7" r="4.0" fill="#000000" stroke="#000" stroke-width="1.2"/>
<circle cx="135.5" cy="189.1" r="4.0" fill="#000000" stroke="#000" stroke-width="1.2"/>
<circle cx="146.3" cy="181.4" r="4.0" fill="#000000" stroke="#000" stroke-width="1.2"/>
<circle cx="141.8" cy="183.2" r="4.0" fill="#000000" stroke="#000" stroke-width="1.2"/>
<circle cx="145.2" cy="177.5" r="4.0" fill="#000000" stroke="#000" stroke-width="1.2"/>
<circle cx="132.0" cy="187.4" r="4.0" fill="#000000" stroke="#000" stroke-width="1.2"/>
<circle cx="141.0" cy="166.0" r="4.0" fill="#f0a0c8" stroke="#000" stroke-width="1.2"/>
<circle cx="133.3" cy="172.8" r="4.0" fill="#000000" stroke="#000" stroke-width="1.2"/>
<circle cx="133.8" cy="173.0" r="4.0" fill="#000000" stroke="#000" stroke-width="1.2"/>
<circle cx="132.4" cy="171.4" r="4.0" fill="#ff1080" stroke="#000" stroke-width="1.2"/>
<circle cx="135.2" cy="171.4" r="4.0" fill="#ff1080" stroke="#000" stroke-width="1.2"/>
<circle cx="139.6" cy="174.0" r="4.0" fill="#ff6010" stroke="#000" stroke-width="1.2"/>
<circle cx="136.2" cy="171.1" r="4.0" fill="#ff1080" stroke="#000" stroke-width="1.2"/>
<circle cx="139.4" cy="173.9" r="4.0" fill="#000000" stroke="#000" stroke-width="1.2"/>
<circle cx="139.9" cy="168.4" r="4.0" fill="#00eaff" stroke="#000" stroke-width="1.2"/>
<circle cx="142.4" cy="167.4" r="4.0" fill="#ff1080" stroke="#000" stroke-width="1.2"/>
<circle cx="130.3" cy="169.1" r="4.0" fill="#ff1818" stroke="#000" stroke-width="1.2"/>
<circle cx="142.4" cy="161.5" r="4.0" fill="#f0a0c8" stroke="#000" stroke-width="1.2"/>
<circle cx="143.8" cy="166.7" r="4.0" fill="#00eaff" stroke="#000" stroke-width="1.2"/>
<circle cx="137.3" cy="173.5" r="4.0" fill="#000000" stroke="#000" stroke-width="1.2"/>
<circle cx="135.3" cy="164.3" r="4.0" fill="#ff1080" stroke="#000" stroke-width="1.2"/>
<circle cx="143.5" cy="163.5" r="4.0" fill="#10e040" stroke="#000" stroke-width="1.2"/>
<circle cx="143.5" cy="169.3" r="4.0" fill="#ff6010" stroke="#000" stroke-width="1.2"/>
<circle cx="148.4" cy="174.2" r="4.0" fill="#00eaff" stroke="#000" stroke-width="1.2"/>
<circle cx="140.0" cy="176.0" r="4.0" fill="#b0f020" stroke="#000" stroke-width="1.2"/>
<circle cx="148.4" cy="188.1" r="4.0" fill="#10e040" stroke="#000" stroke-width="1.2"/>
<circle cx="153.4" cy="148.0" r="4.0" fill="#ff1080" stroke="#000" stroke-width="1.2"/>
<circle cx="158.3" cy="148.6" r="4.0" fill="#f0a0c8" stroke="#000" stroke-width="1.2"/>
<circle cx="163.1" cy="149.1" r="4.0" fill="#ff6010" stroke="#000" stroke-width="1.2"/>
<circle cx="168.6" cy="149.8" r="4.0" fill="#ff1080" stroke="#000" stroke-width="1.2"/>
<circle cx="173.7" cy="150.0" r="4.0" fill="#ff1080" stroke="#000" stroke-width="1.2"/>
<circle cx="179.1" cy="150.7" r="4.0" fill="#f0a0c8" stroke="#000" stroke-width="1.2"/>
<circle cx="153.8" cy="164.3" r="4.0" fill="#10e040" stroke="#000" stroke-width="1.2"/>
<circle cx="159.4" cy="165.8" r="4.0" fill="#000000" stroke="#000" stroke-width="1.2"/>
<circle cx="156.6" cy="153.1" r="4.0" fill="#000000" stroke="#000" stroke-width="1.2"/>
<circle cx="157.9" cy="157.3" r="4.0" fill="#000000" stroke="#000" stroke-width="1.2"/>
<circle cx="157.8" cy="166.5" r="4.0" fill="#000000" stroke="#000" stroke-width="1.2"/>
<circle cx="158.8" cy="156.0" r="4.0" fill="#000000" stroke="#000" stroke-width="1.2"/>
<circle cx="159.1" cy="163.5" r="4.0" fill="#50f000" stroke="#000" stroke-width="1.2"/>
<circle cx="157.3" cy="165.0" r="4.0" fill="#b0f020" stroke="#000" stroke-width="1.2"/>
<circle cx="157.9" cy="157.7" r="4.0" fill="#000000" stroke="#000" stroke-width="1.2"/>
<circle cx="159.4" cy="160.1" r="4.0" fill="#b0f020" stroke="#000" stroke-width="1.2"/>
<circle cx="162.1" cy="152.7" r="4.0" fill="#000000" stroke="#000" stroke-width="1.2"/>
<circle cx="158.4" cy="163.0" r="4.0" fill="#000000" stroke="#000" stroke-width="1.2"/>
<circle cx="156.0" cy="152.0" r="4.0" fill="#f8c020" stroke="#000" stroke-width="1.2"/>
<circle cx="159.1" cy="157.8" r="4.0" fill="#f8c020" stroke="#000" stroke-width="1.2"/>
<circle cx="162.0" cy="165.0" r="4.0" fill="#10e040" stroke="#000" stroke-width="1.2"/>
<circle cx="164.9" cy="192.2" r="4.0" fill="#f8c020" stroke="#000" stroke-width="1.2"/>
<circle cx="167.8" cy="197.4" r="4.0" fill="#000000" stroke="#000" stroke-width="1.2"/>
<circle cx="160.8" cy="201.3" r="4.0" fill="#000000" stroke="#000" stroke-width="1.2"/>
<circle cx="163.7" cy="202.4" r="4.0" fill="#000000" stroke="#000" stroke-width="1.2"/>
<circle cx="167.0" cy="200.4" r="4.0" fill="#000000" stroke="#000" stroke-width="1.2"/>
<circle cx="164.6" cy="201.0" r="4.0" fill="#000000" stroke="#000" stroke-width="1.2"/>
<circle cx="164.7" cy="200.4" r="4.0" fill="#000000" stroke="#000" stroke-width="1.2"/>
<circle cx="178.8" cy="203.7" r="4.0" fill="#1428e8" stroke="#000" stroke-width="1.2"/>
<circle cx="183.0" cy="202.0" r="4.0" fill="#000000" stroke="#000" stroke-width="1.2"/>
<circle cx="188.7" cy="200.5" r="4.0" fill="#10c0f0" stroke="#000" stroke-width="1.2"/>
<circle cx="145.2" cy="210.1" r="4.0" fill="#000000" stroke="#000" stroke-width="1.2"/>
<circle cx="143.4" cy="214.0" r="4.0" fill="#000000" stroke="#000" stroke-width="1.2"/>
<circle cx="140.1" cy="218.6" r="4.0" fill="#000000" stroke="#000" stroke-width="1.2"/>
<circle cx="137.0" cy="221.0" r="4.0" fill="#000000" stroke="#000" stroke-width="1.2"/>
<circle cx="134.3" cy="224.6" r="4.0" fill="#000000" stroke="#000" stroke-width="1.2"/>
<circle cx="130.1" cy="227.4" r="4.0" fill="#000000" stroke="#000" stroke-width="1.2"/>
<circle cx="126.7" cy="229.4" r="4.0" fill="#000000" stroke="#000" stroke-width="1.2"/>
<circle cx="123.8" cy="232.9" r="4.0" fill="#f8c020" stroke="#000" stroke-width="1.2"/>
<circle cx="118.9" cy="235.3" r="4.0" fill="#000000" stroke="#000" stroke-width="1.2"/>
<circle cx="142.5" cy="207.0" r="4.0" fill="#000000" stroke="#000" stroke-width="1.2"/>
<circle cx="140.4" cy="210.7" r="4.0" fill="#000000" stroke="#000" stroke-width="1.2"/>
<circle cx="136.6" cy="213.8" r="4.0" fill="#000000" stroke="#000" stroke-width="1.2"/>
<circle cx="134.1" cy="218.4" r="4.0" fill="#000000" stroke="#000" stroke-width="1.2"/>
<circle cx="130.1" cy="220.1" r="4.0" fill="#000000" stroke="#000" stroke-width="1.2"/>
<circle cx="127.1" cy="223.5" r="4.0" fill="#000000" stroke="#000" stroke-width="1.2"/>
<circle cx="124.0" cy="225.5" r="4.0" fill="#000000" stroke="#000" stroke-width="1.2"/>
<circle cx="119.4" cy="228.1" r="4.0" fill="#000000" stroke="#000" stroke-width="1.2"/>
<circle cx="116.1" cy="231.6" r="4.0" fill="#000000" stroke="#000" stroke-width="1.2"/>
<circle cx="117.4" cy="231.7" r="4.0" fill="#000000" stroke="#000" stroke-width="1.2"/>
<circle cx="116.7" cy="235.1" r="4.0" fill="#000000" stroke="#000" stroke-width="1.2"/>
<circle cx="114.2" cy="239.6" r="4.0" fill="#000000" stroke="#000" stroke-width="1.2"/>
<circle cx="120.3" cy="238.2" r="4.0" fill="#000000" stroke="#000" stroke-width="1.2"/>
<circle cx="119.7" cy="233.5" r="4.0" fill="#000000" stroke="#000" stroke-width="1.2"/>
<circle cx="112.6" cy="233.3" r="4.0" fill="#000000" stroke="#000" stroke-width="1.2"/>
<circle cx="111.6" cy="236.6" r="4.0" fill="#000000" stroke="#000" stroke-width="1.2"/>
<circle cx="118.2" cy="235.3" r="4.0" fill="#000000" stroke="#000" stroke-width="1.2"/>
<circle cx="119.5" cy="240.0" r="4.0" fill="#000000" stroke="#000" stroke-width="1.2"/>
<circle cx="118.0" cy="240.4" r="4.0" fill="#000000" stroke="#000" stroke-width="1.2"/>
<circle cx="113.7" cy="232.4" r="4.0" fill="#000000" stroke="#000" stroke-width="1.2"/>
<circle cx="112.9" cy="238.2" r="4.0" fill="#000000" stroke="#000" stroke-width="1.2"/>
<circle cx="144.0" cy="208.2" r="4.0" fill="#00eaff" stroke="#000" stroke-width="1.2"/>
<circle cx="142.3" cy="216.3" r="4.0" fill="#f0a0c8" stroke="#000" stroke-width="1.2"/>
<circle cx="138.3" cy="220.9" r="4.0" fill="#10e040" stroke="#000" stroke-width="1.2"/>
<circle cx="132.5" cy="221.4" r="4.0" fill="#10e040" stroke="#000" stroke-width="1.2"/>
<circle cx="126.8" cy="228.3" r="4.0" fill="#10e040" stroke="#000" stroke-width="1.2"/>
<circle cx="119.0" cy="239.6" r="4.0" fill="#000000" stroke="#000" stroke-width="1.2"/>
<circle cx="121.7" cy="241.8" r="4.0" fill="#000000" stroke="#000" stroke-width="1.2"/>
<circle cx="124.6" cy="243.2" r="4.0" fill="#000000" stroke="#000" stroke-width="1.2"/>
<circle cx="127.9" cy="246.5" r="4.0" fill="#f0a0c8" stroke="#000" stroke-width="1.2"/>
<circle cx="131.5" cy="247.4" r="4.0" fill="#000000" stroke="#000" stroke-width="1.2"/>
<circle cx="134.3" cy="249.0" r="4.0" fill="#000000" stroke="#000" stroke-width="1.2"/>
<circle cx="137.7" cy="251.2" r="4.0" fill="#000000" stroke="#000" stroke-width="1.2"/>
<circle cx="141.0" cy="253.2" r="4.0" fill="#000000" stroke="#000" stroke-width="1.2"/>
<circle cx="115.7" cy="246.5" r="4.0" fill="#000000" stroke="#000" stroke-width="1.2"/>
<circle cx="117.8" cy="248.1" r="4.0" fill="#000000" stroke="#000" stroke-width="1.2"/>
<circle cx="122.4" cy="249.5" r="4.0" fill="#000000" stroke="#000" stroke-width="1.2"/>
<circle cx="124.4" cy="252.9" r="4.0" fill="#00eaff" stroke="#000" stroke-width="1.2"/>
<circle cx="128.9" cy="254.6" r="4.0" fill="#000000" stroke="#000" stroke-width="1.2"/>
<circle cx="132.0" cy="256.4" r="4.0" fill="#000000" stroke="#000" stroke-width="1.2"/>
<circle cx="134.7" cy="257.8" r="4.0" fill="#000000" stroke="#000" stroke-width="1.2"/>
<circle cx="138.9" cy="258.7" r="4.0" fill="#000000" stroke="#000" stroke-width="1.2"/>
<circle cx="120.0" cy="247.0" r="4.0" fill="#ff1080" stroke="#000" stroke-width="1.2"/>
<circle cx="124.0" cy="244.0" r="4.0" fill="#f8c020" stroke="#000" stroke-width="1.2"/>
<circle cx="129.0" cy="247.0" r="4.0" fill="#f8c020" stroke="#000" stroke-width="1.2"/>
<circle cx="126.8" cy="257.6" r="4.0" fill="#ff6010" stroke="#000" stroke-width="1.2"/>
<circle cx="121.0" cy="255.0" r="4.0" fill="#1a78e0" stroke="#000" stroke-width="1.2"/>
<circle cx="137.7" cy="253.0" r="4.0" fill="#00eaff" stroke="#000" stroke-width="1.2"/>
<circle cx="141.0" cy="257.0" r="4.0" fill="#b0f020" stroke="#000" stroke-width="1.2"/>
<circle cx="67.0" cy="263.0" r="4.0" fill="#1428e8" stroke="#000" stroke-width="1.2"/>
<circle cx="69.5" cy="263.8" r="4.0" fill="#00eaff" stroke="#000" stroke-width="1.2"/>
<circle cx="168.0" cy="82.0" r="4.0" fill="#ff6010" stroke="#000" stroke-width="1.2"/>
<circle cx="162.9" cy="78.1" r="4.0" fill="#10e040" stroke="#000" stroke-width="1.2"/>
<circle cx="168.8" cy="76.7" r="4.0" fill="#ff1080" stroke="#000" stroke-width="1.2"/>
<circle cx="174.7" cy="76.7" r="4.0" fill="#f0a0c8" stroke="#000" stroke-width="1.2"/>
<circle cx="172.0" cy="81.0" r="4.0" fill="#ff1080" stroke="#000" stroke-width="1.2"/>
<circle cx="176.0" cy="81.0" r="4.0" fill="#ff1080" stroke="#000" stroke-width="1.2"/>
<circle cx="179.6" cy="84.6" r="4.0" fill="#00eaff" stroke="#000" stroke-width="1.2"/>
<circle cx="205.1" cy="94.6" r="4.0" fill="#000000" stroke="#000" stroke-width="1.2"/>
<circle cx="208.6" cy="95.5" r="4.0" fill="#000000" stroke="#000" stroke-width="1.2"/>
<circle cx="195.1" cy="96.9" r="4.0" fill="#000000" stroke="#000" stroke-width="1.2"/>
<circle cx="205.3" cy="99.6" r="4.0" fill="#000000" stroke="#000" stroke-width="1.2"/>
<circle cx="197.3" cy="91.0" r="4.0" fill="#000000" stroke="#000" stroke-width="1.2"/>
<circle cx="204.0" cy="94.7" r="4.0" fill="#000000" stroke="#000" stroke-width="1.2"/>
<circle cx="197.5" cy="93.8" r="4.0" fill="#000000" stroke="#000" stroke-width="1.2"/>
<circle cx="193.0" cy="95.2" r="4.0" fill="#000000" stroke="#000" stroke-width="1.2"/>
<circle cx="214.0" cy="101.3" r="4.0" fill="#000000" stroke="#000" stroke-width="1.2"/>
<circle cx="193.2" cy="100.9" r="4.0" fill="#000000" stroke="#000" stroke-width="1.2"/>
<circle cx="213.6" cy="96.7" r="4.0" fill="#000000" stroke="#000" stroke-width="1.2"/>
<circle cx="203.9" cy="92.4" r="4.0" fill="#000000" stroke="#000" stroke-width="1.2"/>
<circle cx="202.9" cy="95.5" r="4.0" fill="#000000" stroke="#000" stroke-width="1.2"/>
<circle cx="202.7" cy="102.6" r="4.0" fill="#ff9010" stroke="#000" stroke-width="1.2"/>
<circle cx="201.7" cy="91.0" r="4.0" fill="#000000" stroke="#000" stroke-width="1.2"/>
<circle cx="200.2" cy="102.4" r="4.0" fill="#000000" stroke="#000" stroke-width="1.2"/>
<circle cx="201.0" cy="98.2" r="4.0" fill="#000000" stroke="#000" stroke-width="1.2"/>
<circle cx="200.7" cy="96.0" r="4.0" fill="#000000" stroke="#000" stroke-width="1.2"/>
<circle cx="196.0" cy="95.4" r="4.0" fill="#000000" stroke="#000" stroke-width="1.2"/>
<circle cx="194.2" cy="96.0" r="4.0" fill="#000000" stroke="#000" stroke-width="1.2"/>
<circle cx="208.7" cy="100.2" r="4.0" fill="#000000" stroke="#000" stroke-width="1.2"/>
<circle cx="203.9" cy="97.7" r="4.0" fill="#000000" stroke="#000" stroke-width="1.2"/>
<circle cx="200.5" cy="92.5" r="4.0" fill="#000000" stroke="#000" stroke-width="1.2"/>
<circle cx="210.0" cy="101.5" r="4.0" fill="#000000" stroke="#000" stroke-width="1.2"/>
<circle cx="208.2" cy="90.6" r="4.0" fill="#000000" stroke="#000" stroke-width="1.2"/>
<circle cx="208.7" cy="91.0" r="4.0" fill="#000000" stroke="#000" stroke-width="1.2"/>
<circle cx="217.9" cy="87.5" r="4.0" fill="#000000" stroke="#000" stroke-width="1.2"/>
<circle cx="219.6" cy="89.1" r="4.0" fill="#000000" stroke="#000" stroke-width="1.2"/>
<circle cx="222.9" cy="89.2" r="4.0" fill="#000000" stroke="#000" stroke-width="1.2"/>
<circle cx="225.1" cy="92.2" r="4.0" fill="#000000" stroke="#000" stroke-width="1.2"/>
<circle cx="218.3" cy="86.9" r="4.0" fill="#000000" stroke="#000" stroke-width="1.2"/>
<circle cx="218.3" cy="90.5" r="4.0" fill="#000000" stroke="#000" stroke-width="1.2"/>
<circle cx="193.0" cy="93.0" r="4.0" fill="#10e040" stroke="#000" stroke-width="1.2"/>
<circle cx="197.0" cy="91.0" r="4.0" fill="#50f000" stroke="#000" stroke-width="1.2"/>
<circle cx="204.7" cy="93.9" r="4.0" fill="#1428e8" stroke="#000" stroke-width="1.2"/>
<circle cx="219.0" cy="88.6" r="4.0" fill="#00eaff" stroke="#000" stroke-width="1.2"/>
<circle cx="229.9" cy="88.6" r="4.0" fill="#00eaff" stroke="#000" stroke-width="1.2"/>
<circle cx="196.0" cy="111.0" r="4.0" fill="#f0a0c8" stroke="#000" stroke-width="1.2"/>
<circle cx="198.2" cy="110.0" r="4.0" fill="#f0a0c8" stroke="#000" stroke-width="1.2"/>
<circle cx="200.8" cy="108.8" r="4.0" fill="#c040c0" stroke="#000" stroke-width="1.2"/>
<circle cx="203.0" cy="107.7" r="4.0" fill="#f0a0c8" stroke="#000" stroke-width="1.2"/>
<circle cx="205.2" cy="106.7" r="4.0" fill="#f0a0c8" stroke="#000" stroke-width="1.2"/>
<circle cx="207.9" cy="105.5" r="4.0" fill="#f0a0c8" stroke="#000" stroke-width="1.2"/>
<circle cx="209.8" cy="104.7" r="4.0" fill="#c040c0" stroke="#000" stroke-width="1.2"/>
<circle cx="212.1" cy="104.3" r="4.0" fill="#b0f020" stroke="#000" stroke-width="1.2"/>
<circle cx="257.5" cy="97.4" r="4.0" fill="#000000" stroke="#000" stroke-width="1.2"/>
<circle cx="263.4" cy="99.4" r="4.0" fill="#00eaff" stroke="#000" stroke-width="1.2"/>
<circle cx="272.2" cy="117.1" r="4.0" fill="#1a78e0" stroke="#000" stroke-width="1.2"/>
<circle cx="265.3" cy="122.1" r="4.0" fill="#00eaff" stroke="#000" stroke-width="1.2"/>
<circle cx="301.2" cy="131.1" r="4.0" fill="#10e040" stroke="#000" stroke-width="1.2"/>
<circle cx="301.2" cy="137.0" r="4.0" fill="#b0f020" stroke="#000" stroke-width="1.2"/>
<circle cx="186.7" cy="132.5" r="4.0" fill="#000000" stroke="#000" stroke-width="1.2"/>
<circle cx="185.5" cy="138.1" r="4.0" fill="#000000" stroke="#000" stroke-width="1.2"/>
<circle cx="174.2" cy="129.0" r="4.0" fill="#f8c020" stroke="#000" stroke-width="1.2"/>
<circle cx="171.8" cy="129.9" r="4.0" fill="#000000" stroke="#000" stroke-width="1.2"/>
<circle cx="178.9" cy="135.3" r="4.0" fill="#000000" stroke="#000" stroke-width="1.2"/>
<circle cx="178.8" cy="142.9" r="4.0" fill="#000000" stroke="#000" stroke-width="1.2"/>
<circle cx="177.9" cy="131.4" r="4.0" fill="#000000" stroke="#000" stroke-width="1.2"/>
<circle cx="175.7" cy="139.4" r="4.0" fill="#000000" stroke="#000" stroke-width="1.2"/>
<circle cx="172.3" cy="131.1" r="4.0" fill="#000000" stroke="#000" stroke-width="1.2"/>
<circle cx="184.8" cy="135.3" r="4.0" fill="#000000" stroke="#000" stroke-width="1.2"/>
<circle cx="175.0" cy="129.0" r="4.0" fill="#000000" stroke="#000" stroke-width="1.2"/>
<circle cx="176.8" cy="130.0" r="4.0" fill="#000000" stroke="#000" stroke-width="1.2"/>
<circle cx="179.9" cy="142.1" r="4.0" fill="#000000" stroke="#000" stroke-width="1.2"/>
<circle cx="181.2" cy="134.4" r="4.0" fill="#000000" stroke="#000" stroke-width="1.2"/>
<circle cx="185.6" cy="140.8" r="4.0" fill="#000000" stroke="#000" stroke-width="1.2"/>
<circle cx="179.1" cy="137.1" r="4.0" fill="#000000" stroke="#000" stroke-width="1.2"/>
<circle cx="175.2" cy="130.0" r="4.0" fill="#000000" stroke="#000" stroke-width="1.2"/>
<circle cx="177.8" cy="134.0" r="4.0" fill="#000000" stroke="#000" stroke-width="1.2"/>
<circle cx="172.1" cy="141.5" r="4.0" fill="#000000" stroke="#000" stroke-width="1.2"/>
<circle cx="180.0" cy="134.7" r="4.0" fill="#000000" stroke="#000" stroke-width="1.2"/>
<circle cx="186.3" cy="132.0" r="4.0" fill="#000000" stroke="#000" stroke-width="1.2"/>
<circle cx="178.9" cy="138.6" r="4.0" fill="#000000" stroke="#000" stroke-width="1.2"/>
<circle cx="183.2" cy="130.1" r="4.0" fill="#000000" stroke="#000" stroke-width="1.2"/>
<circle cx="181.6" cy="130.3" r="4.0" fill="#000000" stroke="#000" stroke-width="1.2"/>
<circle cx="180.5" cy="137.5" r="4.0" fill="#000000" stroke="#000" stroke-width="1.2"/>
<circle cx="179.6" cy="140.3" r="4.0" fill="#000000" stroke="#000" stroke-width="1.2"/>
<circle cx="191.5" cy="120.7" r="4.0" fill="#00eaff" stroke="#000" stroke-width="1.2"/>
<circle cx="180.6" cy="124.0" r="4.0" fill="#ff1080" stroke="#000" stroke-width="1.2"/>
<circle cx="184.6" cy="128.0" r="4.0" fill="#f0a0c8" stroke="#000" stroke-width="1.2"/>
<circle cx="189.0" cy="130.0" r="4.0" fill="#ff1080" stroke="#000" stroke-width="1.2"/>
<circle cx="195.4" cy="133.9" r="4.0" fill="#ff6010" stroke="#000" stroke-width="1.2"/>
<circle cx="182.6" cy="140.8" r="4.0" fill="#10e040" stroke="#000" stroke-width="1.2"/>
<circle cx="168.8" cy="142.8" r="4.0" fill="#1428e8" stroke="#000" stroke-width="1.2"/>
<circle cx="158.0" cy="138.8" r="4.0" fill="#f8c020" stroke="#000" stroke-width="1.2"/>
<circle cx="225.5" cy="140.3" r="4.0" fill="#000000" stroke="#000" stroke-width="1.2"/>
<circle cx="221.1" cy="137.6" r="4.0" fill="#000000" stroke="#000" stroke-width="1.2"/>
<circle cx="226.8" cy="139.4" r="4.0" fill="#1428e8" stroke="#000" stroke-width="1.2"/>
<circle cx="222.3" cy="139.3" r="4.0" fill="#000000" stroke="#000" stroke-width="1.2"/>
<circle cx="225.9" cy="141.6" r="4.0" fill="#000000" stroke="#000" stroke-width="1.2"/>
<circle cx="216.6" cy="138.6" r="4.0" fill="#000000" stroke="#000" stroke-width="1.2"/>
<circle cx="218.7" cy="139.0" r="4.0" fill="#000000" stroke="#000" stroke-width="1.2"/>
<circle cx="218.3" cy="139.7" r="4.0" fill="#000000" stroke="#000" stroke-width="1.2"/>
<circle cx="218.0" cy="138.8" r="4.0" fill="#10e040" stroke="#000" stroke-width="1.2"/>
<circle cx="224.0" cy="141.0" r="4.0" fill="#50f000" stroke="#000" stroke-width="1.2"/>
<circle cx="227.9" cy="138.8" r="4.0" fill="#ff1080" stroke="#000" stroke-width="1.2"/>
<circle cx="264.8" cy="138.8" r="4.0" fill="#000000" stroke="#000" stroke-width="1.2"/>
<circle cx="260.5" cy="134.6" r="4.0" fill="#1428e8" stroke="#000" stroke-width="1.2"/>
<circle cx="265.5" cy="137.2" r="4.0" fill="#000000" stroke="#000" stroke-width="1.2"/>
<circle cx="264.4" cy="141.0" r="4.0" fill="#000000" stroke="#000" stroke-width="1.2"/>
<circle cx="262.2" cy="139.6" r="4.0" fill="#000000" stroke="#000" stroke-width="1.2"/>
<circle cx="263.4" cy="138.8" r="4.0" fill="#1428e8" stroke="#000" stroke-width="1.2"/>
<circle cx="172.5" cy="142.8" r="4.0" fill="#00eaff" stroke="#000" stroke-width="1.2"/>
<circle cx="169.1" cy="144.4" r="4.0" fill="#000000" stroke="#000" stroke-width="1.2"/>
<circle cx="166.8" cy="150.5" r="4.0" fill="#000000" stroke="#000" stroke-width="1.2"/>
<circle cx="172.8" cy="146.4" r="4.0" fill="#000000" stroke="#000" stroke-width="1.2"/>
<circle cx="171.4" cy="152.7" r="4.0" fill="#000000" stroke="#000" stroke-width="1.2"/>
<circle cx="167.2" cy="150.9" r="4.0" fill="#000000" stroke="#000" stroke-width="1.2"/>
<circle cx="167.0" cy="148.1" r="4.0" fill="#1a78e0" stroke="#000" stroke-width="1.2"/>
<circle cx="169.7" cy="149.8" r="4.0" fill="#000000" stroke="#000" stroke-width="1.2"/>
<circle cx="175.1" cy="142.9" r="4.0" fill="#10e040" stroke="#000" stroke-width="1.2"/>
<circle cx="166.3" cy="148.1" r="4.0" fill="#000000" stroke="#000" stroke-width="1.2"/>
<circle cx="167.0" cy="145.0" r="4.0" fill="#ff1080" stroke="#000" stroke-width="1.2"/>
<circle cx="170.0" cy="150.0" r="4.0" fill="#f0a0c8" stroke="#000" stroke-width="1.2"/>
<circle cx="175.8" cy="149.0" r="4.0" fill="#ff6010" stroke="#000" stroke-width="1.2"/>
<circle cx="167.0" cy="141.0" r="4.0" fill="#1428e8" stroke="#000" stroke-width="1.2"/>
<circle cx="220.0" cy="142.0" r="4.0" fill="#f8c020" stroke="#000" stroke-width="1.2"/>
<circle cx="226.0" cy="142.0" r="4.0" fill="#ff1080" stroke="#000" stroke-width="1.2"/>
<circle cx="213.0" cy="155.5" r="4.0" fill="#000000" stroke="#000" stroke-width="1.2"/>
<circle cx="209.4" cy="156.5" r="4.0" fill="#000000" stroke="#000" stroke-width="1.2"/>
<circle cx="205.9" cy="159.2" r="4.0" fill="#20e8b0" stroke="#000" stroke-width="1.2"/>
<circle cx="201.9" cy="159.8" r="4.0" fill="#000000" stroke="#000" stroke-width="1.2"/>
<circle cx="198.5" cy="160.9" r="4.0" fill="#000000" stroke="#000" stroke-width="1.2"/>
<circle cx="193.3" cy="162.8" r="4.0" fill="#00eaff" stroke="#000" stroke-width="1.2"/>
<circle cx="189.3" cy="163.3" r="4.0" fill="#000000" stroke="#000" stroke-width="1.2"/>
<circle cx="185.7" cy="165.2" r="4.0" fill="#000000" stroke="#000" stroke-width="1.2"/>
<circle cx="182.9" cy="166.9" r="4.0" fill="#000000" stroke="#000" stroke-width="1.2"/>
<circle cx="210.0" cy="148.6" r="4.0" fill="#f0a0c8" stroke="#000" stroke-width="1.2"/>
<circle cx="206.9" cy="150.5" r="4.0" fill="#b0f020" stroke="#000" stroke-width="1.2"/>
<circle cx="202.5" cy="152.1" r="4.0" fill="#000000" stroke="#000" stroke-width="1.2"/>
<circle cx="199.6" cy="154.2" r="4.0" fill="#000000" stroke="#000" stroke-width="1.2"/>
<circle cx="195.4" cy="155.2" r="4.0" fill="#000000" stroke="#000" stroke-width="1.2"/>
<circle cx="190.8" cy="156.3" r="4.0" fill="#000000" stroke="#000" stroke-width="1.2"/>
<circle cx="187.6" cy="157.6" r="4.0" fill="#b0f020" stroke="#000" stroke-width="1.2"/>
<circle cx="183.2" cy="159.3" r="4.0" fill="#000000" stroke="#000" stroke-width="1.2"/>
<circle cx="179.6" cy="161.2" r="4.0" fill="#000000" stroke="#000" stroke-width="1.2"/>
<circle cx="184.9" cy="157.7" r="4.0" fill="#10e040" stroke="#000" stroke-width="1.2"/>
<circle cx="180.4" cy="165.3" r="4.0" fill="#f8c020" stroke="#000" stroke-width="1.2"/>
<circle cx="190.0" cy="160.0" r="4.0" fill="#ff6010" stroke="#000" stroke-width="1.2"/>
<circle cx="196.0" cy="160.0" r="4.0" fill="#f8c020" stroke="#000" stroke-width="1.2"/>
<circle cx="200.2" cy="157.2" r="4.0" fill="#1428e8" stroke="#000" stroke-width="1.2"/>
<circle cx="206.5" cy="160.8" r="4.0" fill="#00eaff" stroke="#000" stroke-width="1.2"/>
<circle cx="206.0" cy="152.0" r="4.0" fill="#f8c020" stroke="#000" stroke-width="1.2"/>
<circle cx="209.0" cy="151.0" r="4.0" fill="#f8c020" stroke="#000" stroke-width="1.2"/>
<circle cx="212.0" cy="153.5" r="4.0" fill="#10e040" stroke="#000" stroke-width="1.2"/>
<circle cx="254.9" cy="151.4" r="4.0" fill="#000000" stroke="#000" stroke-width="1.2"/>
<circle cx="252.4" cy="157.9" r="4.0" fill="#000000" stroke="#000" stroke-width="1.2"/>
<circle cx="251.8" cy="158.7" r="4.0" fill="#10e040" stroke="#000" stroke-width="1.2"/>
<circle cx="258.7" cy="153.9" r="4.0" fill="#000000" stroke="#000" stroke-width="1.2"/>
<circle cx="258.8" cy="151.0" r="4.0" fill="#000000" stroke="#000" stroke-width="1.2"/>
<circle cx="256.0" cy="158.8" r="4.0" fill="#000000" stroke="#000" stroke-width="1.2"/>
<circle cx="258.6" cy="155.2" r="4.0" fill="#000000" stroke="#000" stroke-width="1.2"/>
<circle cx="258.3" cy="152.7" r="4.0" fill="#000000" stroke="#000" stroke-width="1.2"/>
<circle cx="255.2" cy="156.1" r="4.0" fill="#000000" stroke="#000" stroke-width="1.2"/>
<circle cx="253.6" cy="158.6" r="4.0" fill="#000000" stroke="#000" stroke-width="1.2"/>
<circle cx="255.9" cy="163.3" r="4.0" fill="#000000" stroke="#000" stroke-width="1.2"/>
<circle cx="254.0" cy="167.7" r="4.0" fill="#000000" stroke="#000" stroke-width="1.2"/>
<circle cx="251.8" cy="170.5" r="4.0" fill="#000000" stroke="#000" stroke-width="1.2"/>
<circle cx="249.2" cy="173.8" r="4.0" fill="#000000" stroke="#000" stroke-width="1.2"/>
<circle cx="248.7" cy="178.4" r="4.0" fill="#000000" stroke="#000" stroke-width="1.2"/>
<circle cx="246.5" cy="181.5" r="4.0" fill="#000000" stroke="#000" stroke-width="1.2"/>
<circle cx="247.6" cy="160.9" r="4.0" fill="#000000" stroke="#000" stroke-width="1.2"/>
<circle cx="245.1" cy="163.2" r="4.0" fill="#ff1818" stroke="#000" stroke-width="1.2"/>
<circle cx="242.7" cy="167.7" r="4.0" fill="#000000" stroke="#000" stroke-width="1.2"/>
<circle cx="241.9" cy="171.1" r="4.0" fill="#000000" stroke="#000" stroke-width="1.2"/>
<circle cx="239.7" cy="174.7" r="4.0" fill="#000000" stroke="#000" stroke-width="1.2"/>
<circle cx="239.4" cy="178.0" r="4.0" fill="#000000" stroke="#000" stroke-width="1.2"/>
<circle cx="251.2" cy="171.8" r="4.0" fill="#000000" stroke="#000" stroke-width="1.2"/>
<circle cx="246.8" cy="165.9" r="4.0" fill="#000000" stroke="#000" stroke-width="1.2"/>
<circle cx="246.6" cy="179.5" r="4.0" fill="#000000" stroke="#000" stroke-width="1.2"/>
<circle cx="250.9" cy="171.2" r="4.0" fill="#000000" stroke="#000" stroke-width="1.2"/>
<circle cx="247.8" cy="164.4" r="4.0" fill="#000000" stroke="#000" stroke-width="1.2"/>
<circle cx="244.1" cy="167.8" r="4.0" fill="#000000" stroke="#000" stroke-width="1.2"/>
<circle cx="244.7" cy="170.2" r="4.0" fill="#000000" stroke="#000" stroke-width="1.2"/>
<circle cx="247.9" cy="176.1" r="4.0" fill="#000000" stroke="#000" stroke-width="1.2"/>
<circle cx="249.9" cy="175.5" r="4.0" fill="#000000" stroke="#000" stroke-width="1.2"/>
<circle cx="250.1" cy="169.7" r="4.0" fill="#000000" stroke="#000" stroke-width="1.2"/>
<circle cx="241.8" cy="168.4" r="4.0" fill="#000000" stroke="#000" stroke-width="1.2"/>
<circle cx="248.9" cy="174.1" r="4.0" fill="#000000" stroke="#000" stroke-width="1.2"/>
<circle cx="241.1" cy="168.1" r="4.0" fill="#000000" stroke="#000" stroke-width="1.2"/>
<circle cx="240.9" cy="174.4" r="4.0" fill="#000000" stroke="#000" stroke-width="1.2"/>
<circle cx="242.4" cy="175.8" r="4.0" fill="#000000" stroke="#000" stroke-width="1.2"/>
<circle cx="243.7" cy="163.8" r="4.0" fill="#000000" stroke="#000" stroke-width="1.2"/>
<circle cx="249.6" cy="168.1" r="4.0" fill="#000000" stroke="#000" stroke-width="1.2"/>
<circle cx="244.8" cy="178.1" r="4.0" fill="#000000" stroke="#000" stroke-width="1.2"/>
<circle cx="255.0" cy="153.0" r="4.0" fill="#10e040" stroke="#000" stroke-width="1.2"/>
<circle cx="260.7" cy="152.6" r="4.0" fill="#1428e8" stroke="#000" stroke-width="1.2"/>
<circle cx="260.7" cy="159.0" r="4.0" fill="#00eaff" stroke="#000" stroke-width="1.2"/>
<circle cx="249.9" cy="165.3" r="4.0" fill="#1a78e0" stroke="#000" stroke-width="1.2"/>
<circle cx="242.0" cy="181.0" r="4.0" fill="#1a78e0" stroke="#000" stroke-width="1.2"/>
<circle cx="277.0" cy="161.2" r="4.0" fill="#00eaff" stroke="#000" stroke-width="1.2"/>
<circle cx="226.0" cy="199.0" r="4.0" fill="#000000" stroke="#000" stroke-width="1.2"/>
<circle cx="224.8" cy="197.3" r="4.0" fill="#00eaff" stroke="#000" stroke-width="1.2"/>
<circle cx="230.1" cy="196.5" r="4.0" fill="#b0f020" stroke="#000" stroke-width="1.2"/>
<circle cx="251.8" cy="198.7" r="4.0" fill="#000000" stroke="#000" stroke-width="1.2"/>
<circle cx="248.5" cy="197.9" r="4.0" fill="#000000" stroke="#000" stroke-width="1.2"/>
<circle cx="248.9" cy="194.6" r="4.0" fill="#000000" stroke="#000" stroke-width="1.2"/>
<circle cx="241.3" cy="197.4" r="4.0" fill="#000000" stroke="#000" stroke-width="1.2"/>
<circle cx="247.1" cy="198.6" r="4.0" fill="#000000" stroke="#000" stroke-width="1.2"/>
<circle cx="246.8" cy="195.4" r="4.0" fill="#000000" stroke="#000" stroke-width="1.2"/>
<circle cx="245.0" cy="199.0" r="4.0" fill="#ff6010" stroke="#000" stroke-width="1.2"/>
<circle cx="251.7" cy="194.6" r="4.0" fill="#f8c020" stroke="#000" stroke-width="1.2"/>
<circle cx="184.0" cy="203.0" r="4.0" fill="#000000" stroke="#000" stroke-width="1.2"/>
<circle cx="180.4" cy="204.1" r="4.0" fill="#1428e8" stroke="#000" stroke-width="1.2"/>
<circle cx="188.5" cy="201.4" r="4.0" fill="#1a78e0" stroke="#000" stroke-width="1.2"/>
<circle cx="211.0" cy="206.0" r="4.0" fill="#000000" stroke="#000" stroke-width="1.2"/>
<circle cx="213.8" cy="205.0" r="4.0" fill="#ff1818" stroke="#000" stroke-width="1.2"/>
<circle cx="217.8" cy="212.3" r="4.0" fill="#000000" stroke="#000" stroke-width="1.2"/>
<circle cx="215.8" cy="215.6" r="4.0" fill="#10c0f0" stroke="#000" stroke-width="1.2"/>
<circle cx="220.3" cy="217.2" r="4.0" fill="#000000" stroke="#000" stroke-width="1.2"/>
<circle cx="220.1" cy="215.1" r="4.0" fill="#000000" stroke="#000" stroke-width="1.2"/>
<circle cx="223.5" cy="215.0" r="4.0" fill="#000000" stroke="#000" stroke-width="1.2"/>
<circle cx="214.7" cy="215.3" r="4.0" fill="#000000" stroke="#000" stroke-width="1.2"/>
<circle cx="215.0" cy="214.0" r="4.0" fill="#10e040" stroke="#000" stroke-width="1.2"/>
<circle cx="217.4" cy="213.2" r="4.0" fill="#10e040" stroke="#000" stroke-width="1.2"/>
<circle cx="221.9" cy="213.2" r="4.0" fill="#1a78e0" stroke="#000" stroke-width="1.2"/>
<circle cx="193.0" cy="219.0" r="4.0" fill="#000000" stroke="#000" stroke-width="1.2"/>
<circle cx="191.3" cy="221.7" r="4.0" fill="#000000" stroke="#000" stroke-width="1.2"/>
<circle cx="189.0" cy="224.9" r="4.0" fill="#000000" stroke="#000" stroke-width="1.2"/>
<circle cx="186.4" cy="226.2" r="4.0" fill="#000000" stroke="#000" stroke-width="1.2"/>
<circle cx="184.1" cy="228.6" r="4.0" fill="#000000" stroke="#000" stroke-width="1.2"/>
<circle cx="181.9" cy="231.8" r="4.0" fill="#000000" stroke="#000" stroke-width="1.2"/>
<circle cx="189.6" cy="215.7" r="4.0" fill="#ff6010" stroke="#000" stroke-width="1.2"/>
<circle cx="186.4" cy="217.5" r="4.0" fill="#000000" stroke="#000" stroke-width="1.2"/>
<circle cx="184.7" cy="220.4" r="4.0" fill="#000000" stroke="#000" stroke-width="1.2"/>
<circle cx="181.6" cy="222.8" r="4.0" fill="#000000" stroke="#000" stroke-width="1.2"/>
<circle cx="179.9" cy="224.0" r="4.0" fill="#1a78e0" stroke="#000" stroke-width="1.2"/>
<circle cx="178.3" cy="226.9" r="4.0" fill="#000000" stroke="#000" stroke-width="1.2"/>
<circle cx="191.2" cy="217.7" r="4.0" fill="#b0f020" stroke="#000" stroke-width="1.2"/>
<circle cx="216.3" cy="265.1" r="4.0" fill="#000000" stroke="#000" stroke-width="1.2"/>
<circle cx="209.5" cy="266.0" r="4.0" fill="#000000" stroke="#000" stroke-width="1.2"/>
<circle cx="211.8" cy="259.2" r="4.0" fill="#000000" stroke="#000" stroke-width="1.2"/>
<circle cx="217.9" cy="269.2" r="4.0" fill="#000000" stroke="#000" stroke-width="1.2"/>
<circle cx="212.8" cy="264.5" r="4.0" fill="#000000" stroke="#000" stroke-width="1.2"/>
<circle cx="220.9" cy="262.3" r="4.0" fill="#000000" stroke="#000" stroke-width="1.2"/>
<circle cx="217.2" cy="267.4" r="4.0" fill="#000000" stroke="#000" stroke-width="1.2"/>
<circle cx="219.9" cy="273.1" r="4.0" fill="#000000" stroke="#000" stroke-width="1.2"/>
<circle cx="219.1" cy="264.1" r="4.0" fill="#000000" stroke="#000" stroke-width="1.2"/>
<circle cx="224.2" cy="269.2" r="4.0" fill="#000000" stroke="#000" stroke-width="1.2"/>
<circle cx="222.7" cy="263.6" r="4.0" fill="#000000" stroke="#000" stroke-width="1.2"/>
<circle cx="220.4" cy="258.6" r="4.0" fill="#000000" stroke="#000" stroke-width="1.2"/>
<circle cx="213.7" cy="260.8" r="4.0" fill="#000000" stroke="#000" stroke-width="1.2"/>
<circle cx="212.4" cy="259.6" r="4.0" fill="#20e8b0" stroke="#000" stroke-width="1.2"/>
<circle cx="209.0" cy="269.2" r="4.0" fill="#000000" stroke="#000" stroke-width="1.2"/>
<circle cx="212.9" cy="263.6" r="4.0" fill="#000000" stroke="#000" stroke-width="1.2"/>
<circle cx="216.8" cy="268.1" r="4.0" fill="#000000" stroke="#000" stroke-width="1.2"/>
<circle cx="223.8" cy="276.2" r="4.0" fill="#000000" stroke="#000" stroke-width="1.2"/>
<circle cx="218.7" cy="264.9" r="4.0" fill="#000000" stroke="#000" stroke-width="1.2"/>
<circle cx="215.0" cy="262.2" r="4.0" fill="#000000" stroke="#000" stroke-width="1.2"/>
<circle cx="216.9" cy="270.5" r="4.0" fill="#000000" stroke="#000" stroke-width="1.2"/>
<circle cx="213.7" cy="257.2" r="4.0" fill="#000000" stroke="#000" stroke-width="1.2"/>
<circle cx="223.5" cy="272.8" r="4.0" fill="#000000" stroke="#000" stroke-width="1.2"/>
<circle cx="205.7" cy="270.8" r="4.0" fill="#000000" stroke="#000" stroke-width="1.2"/>
<circle cx="225.1" cy="265.7" r="4.0" fill="#000000" stroke="#000" stroke-width="1.2"/>
<circle cx="224.8" cy="268.9" r="4.0" fill="#000000" stroke="#000" stroke-width="1.2"/>
<circle cx="221.4" cy="271.2" r="4.0" fill="#000000" stroke="#000" stroke-width="1.2"/>
<circle cx="221.1" cy="277.6" r="4.0" fill="#000000" stroke="#000" stroke-width="1.2"/>
<circle cx="222.2" cy="270.7" r="4.0" fill="#000000" stroke="#000" stroke-width="1.2"/>
<circle cx="207.6" cy="271.7" r="4.0" fill="#000000" stroke="#000" stroke-width="1.2"/>
<circle cx="217.9" cy="261.1" r="4.0" fill="#000000" stroke="#000" stroke-width="1.2"/>
<circle cx="211.1" cy="262.4" r="4.0" fill="#000000" stroke="#000" stroke-width="1.2"/>
<circle cx="218.4" cy="256.6" r="4.0" fill="#000000" stroke="#000" stroke-width="1.2"/>
<circle cx="210.6" cy="265.4" r="4.0" fill="#000000" stroke="#000" stroke-width="1.2"/>
<circle cx="225.1" cy="266.4" r="4.0" fill="#000000" stroke="#000" stroke-width="1.2"/>
<circle cx="211.8" cy="276.1" r="4.0" fill="#20e8b0" stroke="#000" stroke-width="1.2"/>
<circle cx="211.1" cy="264.0" r="4.0" fill="#000000" stroke="#000" stroke-width="1.2"/>
<circle cx="221.2" cy="263.2" r="4.0" fill="#000000" stroke="#000" stroke-width="1.2"/>
<circle cx="200.2" cy="284.2" r="4.0" fill="#ff1080" stroke="#000" stroke-width="1.2"/>
<circle cx="202.7" cy="281.5" r="4.0" fill="#ff6010" stroke="#000" stroke-width="1.2"/>
<circle cx="206.0" cy="279.5" r="4.0" fill="#f8c020" stroke="#000" stroke-width="1.2"/>
<circle cx="208.7" cy="277.2" r="4.0" fill="#ff1080" stroke="#000" stroke-width="1.2"/>
<circle cx="222.2" cy="256.1" r="4.0" fill="#f8c020" stroke="#000" stroke-width="1.2"/>
<circle cx="226.8" cy="258.4" r="4.0" fill="#10e040" stroke="#000" stroke-width="1.2"/>
<circle cx="216.4" cy="261.3" r="4.0" fill="#ff1080" stroke="#000" stroke-width="1.2"/>
<circle cx="222.2" cy="264.7" r="4.0" fill="#ff6010" stroke="#000" stroke-width="1.2"/>
<circle cx="232.5" cy="270.5" r="4.0" fill="#20e8b0" stroke="#000" stroke-width="1.2"/>
<circle cx="231.4" cy="276.8" r="4.0" fill="#1a78e0" stroke="#000" stroke-width="1.2"/>
<circle cx="226.0" cy="280.0" r="4.0" fill="#10e040" stroke="#000" stroke-width="1.2"/>
<circle cx="316.0" cy="221.0" r="4.0" fill="#ff1080" stroke="#000" stroke-width="1.2"/>
<circle cx="319.4" cy="222.4" r="4.0" fill="#ff1080" stroke="#000" stroke-width="1.2"/>
<circle cx="325.2" cy="227.0" r="4.0" fill="#50f000" stroke="#000" stroke-width="1.2"/>
<circle cx="310.2" cy="233.0" r="4.0" fill="#ff1080" stroke="#000" stroke-width="1.2"/>
<circle cx="315.5" cy="231.9" r="4.0" fill="#ff1080" stroke="#000" stroke-width="1.2"/>
<circle cx="320.9" cy="230.6" r="4.0" fill="#f0a0c8" stroke="#000" stroke-width="1.2"/>
<circle cx="326.0" cy="230.2" r="4.0" fill="#50f000" stroke="#000" stroke-width="1.2"/>
<circle cx="301.2" cy="241.3" r="4.0" fill="#ff6010" stroke="#000" stroke-width="1.2"/>
<circle cx="305.6" cy="240.6" r="4.0" fill="#ff1080" stroke="#000" stroke-width="1.2"/>
<circle cx="309.9" cy="239.8" r="4.0" fill="#ff1080" stroke="#000" stroke-width="1.2"/>
<circle cx="314.7" cy="239.5" r="4.0" fill="#c040c0" stroke="#000" stroke-width="1.2"/>
<circle cx="319.2" cy="239.2" r="4.0" fill="#f0a0c8" stroke="#000" stroke-width="1.2"/>
<circle cx="323.6" cy="238.4" r="4.0" fill="#ff6010" stroke="#000" stroke-width="1.2"/>
<circle cx="328.0" cy="237.4" r="4.0" fill="#ff6010" stroke="#000" stroke-width="1.2"/>
<circle cx="313.7" cy="235.0" r="4.0" fill="#ff1080" stroke="#000" stroke-width="1.2"/>
<circle cx="323.4" cy="235.6" r="4.0" fill="#f0a0c8" stroke="#000" stroke-width="1.2"/>
<circle cx="328.0" cy="237.4" r="4.0" fill="#ff6010" stroke="#000" stroke-width="1.2"/>
<circle cx="324.0" cy="242.5" r="4.0" fill="#ff1818" stroke="#000" stroke-width="1.2"/>
<circle cx="289.8" cy="250.8" r="4.0" fill="#ff6010" stroke="#000" stroke-width="1.2"/>
<circle cx="293.9" cy="249.7" r="4.0" fill="#50f000" stroke="#000" stroke-width="1.2"/>
<circle cx="297.5" cy="248.7" r="4.0" fill="#ff1080" stroke="#000" stroke-width="1.2"/>
<circle cx="301.2" cy="248.6" r="4.0" fill="#ff1818" stroke="#000" stroke-width="1.2"/>
<circle cx="305.2" cy="248.1" r="4.0" fill="#ff1080" stroke="#000" stroke-width="1.2"/>
<circle cx="309.2" cy="248.3" r="4.0" fill="#ff1818" stroke="#000" stroke-width="1.2"/>
<circle cx="313.3" cy="248.2" r="4.0" fill="#ff1080" stroke="#000" stroke-width="1.2"/>
<circle cx="317.5" cy="248.1" r="4.0" fill="#20e8b0" stroke="#000" stroke-width="1.2"/>
<circle cx="321.1" cy="247.1" r="4.0" fill="#ff1080" stroke="#000" stroke-width="1.2"/>
<circle cx="325.0" cy="246.8" r="4.0" fill="#10e040" stroke="#000" stroke-width="1.2"/>
<circle cx="289.0" cy="250.6" r="4.0" fill="#ff6010" stroke="#000" stroke-width="1.2"/>
<circle cx="294.1" cy="248.3" r="4.0" fill="#50f000" stroke="#000" stroke-width="1.2"/>
<circle cx="304.5" cy="239.7" r="4.0" fill="#ff6010" stroke="#000" stroke-width="1.2"/>
<circle cx="308.0" cy="240.2" r="4.0" fill="#ff1080" stroke="#000" stroke-width="1.2"/>
<circle cx="313.7" cy="249.4" r="4.0" fill="#20e8b0" stroke="#000" stroke-width="1.2"/>
<circle cx="317.1" cy="245.4" r="4.0" fill="#ff1080" stroke="#000" stroke-width="1.2"/>
<circle cx="324.0" cy="246.0" r="4.0" fill="#10e040" stroke="#000" stroke-width="1.2"/>
<circle cx="413.9" cy="71.4" r="4.0" fill="#00eaff" stroke="#000" stroke-width="1.2"/>
<circle cx="416.6" cy="71.7" r="4.0" fill="#000000" stroke="#000" stroke-width="1.2"/>
<circle cx="420.3" cy="72.8" r="4.0" fill="#000000" stroke="#000" stroke-width="1.2"/>
<circle cx="424.5" cy="75.1" r="4.0" fill="#10e040" stroke="#000" stroke-width="1.2"/>
<circle cx="427.4" cy="77.1" r="4.0" fill="#00eaff" stroke="#000" stroke-width="1.2"/>
<circle cx="429.6" cy="79.8" r="4.0" fill="#50f000" stroke="#000" stroke-width="1.2"/>
<circle cx="431.3" cy="83.6" r="4.0" fill="#00eaff" stroke="#000" stroke-width="1.2"/>
<circle cx="434.0" cy="87.1" r="4.0" fill="#10c0f0" stroke="#000" stroke-width="1.2"/>
<circle cx="410.9" cy="73.6" r="4.0" fill="#00eaff" stroke="#000" stroke-width="1.2"/>
<circle cx="415.2" cy="74.9" r="4.0" fill="#10c0f0" stroke="#000" stroke-width="1.2"/>
<circle cx="418.0" cy="76.2" r="4.0" fill="#000000" stroke="#000" stroke-width="1.2"/>
<circle cx="422.0" cy="78.7" r="4.0" fill="#10e040" stroke="#000" stroke-width="1.2"/>
<circle cx="424.8" cy="81.0" r="4.0" fill="#000000" stroke="#000" stroke-width="1.2"/>
<circle cx="427.8" cy="82.8" r="4.0" fill="#50f000" stroke="#000" stroke-width="1.2"/>
<circle cx="429.4" cy="87.2" r="4.0" fill="#000000" stroke="#000" stroke-width="1.2"/>
<circle cx="430.8" cy="90.1" r="4.0" fill="#10c0f0" stroke="#000" stroke-width="1.2"/>
<circle cx="408.0" cy="76.9" r="4.0" fill="#00eaff" stroke="#000" stroke-width="1.2"/>
<circle cx="411.7" cy="78.3" r="4.0" fill="#000000" stroke="#000" stroke-width="1.2"/>
<circle cx="415.4" cy="79.1" r="4.0" fill="#000000" stroke="#000" stroke-width="1.2"/>
<circle cx="418.4" cy="81.7" r="4.0" fill="#10e040" stroke="#000" stroke-width="1.2"/>
<circle cx="421.4" cy="84.4" r="4.0" fill="#000000" stroke="#000" stroke-width="1.2"/>
<circle cx="425.2" cy="86.9" r="4.0" fill="#000000" stroke="#000" stroke-width="1.2"/>
<circle cx="426.2" cy="89.7" r="4.0" fill="#00eaff" stroke="#000" stroke-width="1.2"/>
<circle cx="429.0" cy="93.5" r="4.0" fill="#000000" stroke="#000" stroke-width="1.2"/>
<circle cx="415.7" cy="82.1" r="4.0" fill="#000000" stroke="#000" stroke-width="1.2"/>
<circle cx="421.1" cy="81.3" r="4.0" fill="#20e8b0" stroke="#000" stroke-width="1.2"/>
<circle cx="416.0" cy="89.5" r="4.0" fill="#000000" stroke="#000" stroke-width="1.2"/>
<circle cx="412.7" cy="86.7" r="4.0" fill="#000000" stroke="#000" stroke-width="1.2"/>
<circle cx="421.7" cy="88.1" r="4.0" fill="#000000" stroke="#000" stroke-width="1.2"/>
<circle cx="424.2" cy="85.7" r="4.0" fill="#000000" stroke="#000" stroke-width="1.2"/>
<circle cx="420.2" cy="82.1" r="4.0" fill="#000000" stroke="#000" stroke-width="1.2"/>
<circle cx="414.3" cy="86.1" r="4.0" fill="#000000" stroke="#000" stroke-width="1.2"/>
<circle cx="411.6" cy="72.5" r="4.0" fill="#00eaff" stroke="#000" stroke-width="1.2"/>
<circle cx="420.5" cy="73.0" r="4.0" fill="#00eaff" stroke="#000" stroke-width="1.2"/>
<circle cx="426.4" cy="79.2" r="4.0" fill="#20e8b0" stroke="#000" stroke-width="1.2"/>
<circle cx="429.3" cy="82.2" r="4.0" fill="#00eaff" stroke="#000" stroke-width="1.2"/>
<circle cx="432.3" cy="84.4" r="4.0" fill="#10e040" stroke="#000" stroke-width="1.2"/>
<circle cx="432.3" cy="88.8" r="4.0" fill="#ff6010" stroke="#000" stroke-width="1.2"/>
<circle cx="430.8" cy="91.8" r="4.0" fill="#20e8b0" stroke="#000" stroke-width="1.2"/>
<circle cx="410.0" cy="81.0" r="4.0" fill="#20e8b0" stroke="#000" stroke-width="1.2"/>
<circle cx="415.0" cy="80.0" r="4.0" fill="#00eaff" stroke="#000" stroke-width="1.2"/>
<circle cx="421.0" cy="83.0" r="4.0" fill="#10e040" stroke="#000" stroke-width="1.2"/>
<circle cx="417.0" cy="86.0" r="4.0" fill="#50f000" stroke="#000" stroke-width="1.2"/>
<circle cx="425.0" cy="88.0" r="4.0" fill="#20e8b0" stroke="#000" stroke-width="1.2"/>
<circle cx="412.3" cy="89.5" r="4.0" fill="#ff1080" stroke="#000" stroke-width="1.2"/>
<circle cx="416.0" cy="91.0" r="4.0" fill="#ff1080" stroke="#000" stroke-width="1.2"/>
<circle cx="405.7" cy="86.6" r="4.0" fill="#00eaff" stroke="#000" stroke-width="1.2"/>
<circle cx="404.2" cy="92.5" r="4.0" fill="#f8c020" stroke="#000" stroke-width="1.2"/>
<circle cx="405.7" cy="94.7" r="4.0" fill="#f8c020" stroke="#000" stroke-width="1.2"/>
<circle cx="425.6" cy="95.5" r="4.0" fill="#20e8b0" stroke="#000" stroke-width="1.2"/>
<circle cx="392.0" cy="105.7" r="4.0" fill="#000000" stroke="#000" stroke-width="1.2"/>
<circle cx="399.3" cy="104.3" r="4.0" fill="#000000" stroke="#000" stroke-width="1.2"/>
<circle cx="399.2" cy="109.0" r="4.0" fill="#ff1080" stroke="#000" stroke-width="1.2"/>
<circle cx="401.0" cy="105.7" r="4.0" fill="#000000" stroke="#000" stroke-width="1.2"/>
<circle cx="398.2" cy="107.5" r="4.0" fill="#000000" stroke="#000" stroke-width="1.2"/>
<circle cx="400.0" cy="107.5" r="4.0" fill="#000000" stroke="#000" stroke-width="1.2"/>
<circle cx="398.3" cy="101.4" r="4.0" fill="#00eaff" stroke="#000" stroke-width="1.2"/>
<circle cx="425.0" cy="129.9" r="4.0" fill="#000000" stroke="#000" stroke-width="1.2"/>
<circle cx="422.4" cy="131.6" r="4.0" fill="#000000" stroke="#000" stroke-width="1.2"/>
<circle cx="426.9" cy="126.8" r="4.0" fill="#000000" stroke="#000" stroke-width="1.2"/>
<circle cx="417.0" cy="131.9" r="4.0" fill="#000000" stroke="#000" stroke-width="1.2"/>
<circle cx="421.3" cy="129.2" r="4.0" fill="#000000" stroke="#000" stroke-width="1.2"/>
<circle cx="424.9" cy="125.8" r="4.0" fill="#000000" stroke="#000" stroke-width="1.2"/>
<circle cx="426.1" cy="130.7" r="4.0" fill="#000000" stroke="#000" stroke-width="1.2"/>
<circle cx="419.8" cy="130.1" r="4.0" fill="#000000" stroke="#000" stroke-width="1.2"/>
<circle cx="418.9" cy="127.3" r="4.0" fill="#000000" stroke="#000" stroke-width="1.2"/>
<circle cx="420.9" cy="128.9" r="4.0" fill="#000000" stroke="#000" stroke-width="1.2"/>
<circle cx="423.4" cy="126.8" r="4.0" fill="#000000" stroke="#000" stroke-width="1.2"/>
<circle cx="430.8" cy="131.5" r="4.0" fill="#000000" stroke="#000" stroke-width="1.2"/>
<circle cx="428.1" cy="126.1" r="4.0" fill="#000000" stroke="#000" stroke-width="1.2"/>
<circle cx="431.6" cy="130.5" r="4.0" fill="#000000" stroke="#000" stroke-width="1.2"/>
<circle cx="418.0" cy="126.0" r="4.0" fill="#c040c0" stroke="#000" stroke-width="1.2"/>
<circle cx="430.0" cy="125.0" r="4.0" fill="#b0f020" stroke="#000" stroke-width="1.2"/>
<circle cx="452.1" cy="114.5" r="4.0" fill="#000000" stroke="#000" stroke-width="1.2"/>
<circle cx="451.8" cy="113.9" r="4.0" fill="#000000" stroke="#000" stroke-width="1.2"/>
<circle cx="446.8" cy="118.2" r="4.0" fill="#000000" stroke="#000" stroke-width="1.2"/>
<circle cx="446.0" cy="115.7" r="4.0" fill="#000000" stroke="#000" stroke-width="1.2"/>
<circle cx="453.7" cy="118.3" r="4.0" fill="#000000" stroke="#000" stroke-width="1.2"/>
<circle cx="452.3" cy="114.3" r="4.0" fill="#000000" stroke="#000" stroke-width="1.2"/>
<circle cx="447.0" cy="116.9" r="4.0" fill="#ffff30" stroke="#000" stroke-width="1.2"/>
<circle cx="453.7" cy="113.2" r="4.0" fill="#ff6010" stroke="#000" stroke-width="1.2"/>
<circle cx="446.0" cy="113.0" r="4.0" fill="#10e040" stroke="#000" stroke-width="1.2"/>
<circle cx="446.9" cy="129.4" r="4.0" fill="#000000" stroke="#000" stroke-width="1.2"/>
<circle cx="457.4" cy="124.2" r="4.0" fill="#000000" stroke="#000" stroke-width="1.2"/>
<circle cx="446.2" cy="126.8" r="4.0" fill="#000000" stroke="#000" stroke-width="1.2"/>
<circle cx="459.8" cy="127.5" r="4.0" fill="#000000" stroke="#000" stroke-width="1.2"/>
<circle cx="453.1" cy="128.2" r="4.0" fill="#000000" stroke="#000" stroke-width="1.2"/>
<circle cx="452.6" cy="126.4" r="4.0" fill="#000000" stroke="#000" stroke-width="1.2"/>
<circle cx="450.9" cy="125.3" r="4.0" fill="#000000" stroke="#000" stroke-width="1.2"/>
<circle cx="447.1" cy="125.2" r="4.0" fill="#000000" stroke="#000" stroke-width="1.2"/>
<circle cx="451.2" cy="125.8" r="4.0" fill="#10e040" stroke="#000" stroke-width="1.2"/>
<circle cx="454.7" cy="127.4" r="4.0" fill="#000000" stroke="#000" stroke-width="1.2"/>
<circle cx="446.0" cy="126.0" r="4.0" fill="#000000" stroke="#000" stroke-width="1.2"/>
<circle cx="451.5" cy="127.2" r="4.0" fill="#f8c020" stroke="#000" stroke-width="1.2"/>
<circle cx="460.3" cy="123.5" r="4.0" fill="#f8c020" stroke="#000" stroke-width="1.2"/>
<circle cx="459.6" cy="129.4" r="4.0" fill="#f8c020" stroke="#000" stroke-width="1.2"/>
<circle cx="324.7" cy="122.0" r="4.0" fill="#000000" stroke="#000" stroke-width="1.2"/>
<circle cx="327.3" cy="123.2" r="4.0" fill="#000000" stroke="#000" stroke-width="1.2"/>
<circle cx="334.0" cy="120.2" r="4.0" fill="#000000" stroke="#000" stroke-width="1.2"/>
<circle cx="330.9" cy="119.6" r="4.0" fill="#000000" stroke="#000" stroke-width="1.2"/>
<circle cx="337.9" cy="120.6" r="4.0" fill="#000000" stroke="#000" stroke-width="1.2"/>
<circle cx="335.6" cy="118.3" r="4.0" fill="#000000" stroke="#000" stroke-width="1.2"/>
<circle cx="340.9" cy="120.1" r="4.0" fill="#000000" stroke="#000" stroke-width="1.2"/>
<circle cx="331.4" cy="125.5" r="4.0" fill="#000000" stroke="#000" stroke-width="1.2"/>
<circle cx="341.7" cy="121.4" r="4.0" fill="#000000" stroke="#000" stroke-width="1.2"/>
<circle cx="335.4" cy="116.9" r="4.0" fill="#000000" stroke="#000" stroke-width="1.2"/>
<circle cx="319.3" cy="121.4" r="4.0" fill="#000000" stroke="#000" stroke-width="1.2"/>
<circle cx="331.0" cy="125.9" r="4.0" fill="#000000" stroke="#000" stroke-width="1.2"/>
<circle cx="325.2" cy="125.3" r="4.0" fill="#000000" stroke="#000" stroke-width="1.2"/>
<circle cx="323.2" cy="123.7" r="4.0" fill="#000000" stroke="#000" stroke-width="1.2"/>
<circle cx="338.6" cy="126.5" r="4.0" fill="#000000" stroke="#000" stroke-width="1.2"/>
<circle cx="339.8" cy="120.2" r="4.0" fill="#000000" stroke="#000" stroke-width="1.2"/>
<circle cx="339.4" cy="118.3" r="4.0" fill="#000000" stroke="#000" stroke-width="1.2"/>
<circle cx="327.1" cy="119.6" r="4.0" fill="#000000" stroke="#000" stroke-width="1.2"/>
<circle cx="329.7" cy="126.4" r="4.0" fill="#000000" stroke="#000" stroke-width="1.2"/>
<circle cx="326.7" cy="119.9" r="4.0" fill="#000000" stroke="#000" stroke-width="1.2"/>
<circle cx="320.3" cy="124.4" r="4.0" fill="#000000" stroke="#000" stroke-width="1.2"/>
<circle cx="327.7" cy="126.5" r="4.0" fill="#000000" stroke="#000" stroke-width="1.2"/>
<circle cx="321.3" cy="118.7" r="4.0" fill="#000000" stroke="#000" stroke-width="1.2"/>
<circle cx="330.1" cy="126.1" r="4.0" fill="#000000" stroke="#000" stroke-width="1.2"/>
<circle cx="333.5" cy="123.7" r="4.0" fill="#000000" stroke="#000" stroke-width="1.2"/>
<circle cx="328.9" cy="125.7" r="4.0" fill="#000000" stroke="#000" stroke-width="1.2"/>
<circle cx="317.6" cy="117.1" r="4.0" fill="#ff6010" stroke="#000" stroke-width="1.2"/>
<circle cx="318.3" cy="122.6" r="4.0" fill="#10c0f0" stroke="#000" stroke-width="1.2"/>
<circle cx="334.0" cy="116.0" r="4.0" fill="#10e040" stroke="#000" stroke-width="1.2"/>
<circle cx="340.0" cy="118.0" r="4.0" fill="#00eaff" stroke="#000" stroke-width="1.2"/>
<circle cx="343.9" cy="121.3" r="4.0" fill="#00eaff" stroke="#000" stroke-width="1.2"/>
<circle cx="330.0" cy="125.0" r="4.0" fill="#c040c0" stroke="#000" stroke-width="1.2"/>
<circle cx="340.6" cy="126.5" r="4.0" fill="#ff6010" stroke="#000" stroke-width="1.2"/>
<circle cx="332.1" cy="143.8" r="4.0" fill="#000000" stroke="#000" stroke-width="1.2"/>
<circle cx="337.0" cy="138.0" r="4.0" fill="#000000" stroke="#000" stroke-width="1.2"/>
<circle cx="328.8" cy="139.8" r="4.0" fill="#000000" stroke="#000" stroke-width="1.2"/>
<circle cx="323.4" cy="143.1" r="4.0" fill="#000000" stroke="#000" stroke-width="1.2"/>
<circle cx="325.4" cy="142.6" r="4.0" fill="#000000" stroke="#000" stroke-width="1.2"/>
<circle cx="333.5" cy="146.2" r="4.0" fill="#000000" stroke="#000" stroke-width="1.2"/>
<circle cx="330.9" cy="141.7" r="4.0" fill="#000000" stroke="#000" stroke-width="1.2"/>
<circle cx="335.8" cy="139.8" r="4.0" fill="#000000" stroke="#000" stroke-width="1.2"/>
<circle cx="325.6" cy="142.2" r="4.0" fill="#f8c020" stroke="#000" stroke-width="1.2"/>
<circle cx="333.7" cy="142.3" r="4.0" fill="#000000" stroke="#000" stroke-width="1.2"/>
<circle cx="326.4" cy="139.8" r="4.0" fill="#000000" stroke="#000" stroke-width="1.2"/>
<circle cx="321.1" cy="141.4" r="4.0" fill="#000000" stroke="#000" stroke-width="1.2"/>
<circle cx="332.7" cy="137.7" r="4.0" fill="#20e8b0" stroke="#000" stroke-width="1.2"/>
<circle cx="323.5" cy="144.5" r="4.0" fill="#000000" stroke="#000" stroke-width="1.2"/>
<circle cx="334.8" cy="146.5" r="4.0" fill="#000000" stroke="#000" stroke-width="1.2"/>
<circle cx="334.0" cy="140.4" r="4.0" fill="#000000" stroke="#000" stroke-width="1.2"/>
<circle cx="342.6" cy="139.2" r="4.0" fill="#000000" stroke="#000" stroke-width="1.2"/>
<circle cx="325.5" cy="138.5" r="4.0" fill="#000000" stroke="#000" stroke-width="1.2"/>
<circle cx="328.7" cy="143.0" r="4.0" fill="#000000" stroke="#000" stroke-width="1.2"/>
<circle cx="328.1" cy="141.4" r="4.0" fill="#000000" stroke="#000" stroke-width="1.2"/>
<circle cx="336.6" cy="141.9" r="4.0" fill="#000000" stroke="#000" stroke-width="1.2"/>
<circle cx="330.3" cy="146.6" r="4.0" fill="#000000" stroke="#000" stroke-width="1.2"/>
<circle cx="338.0" cy="138.0" r="4.0" fill="#000000" stroke="#000" stroke-width="1.2"/>
<circle cx="327.7" cy="144.8" r="4.0" fill="#000000" stroke="#000" stroke-width="1.2"/>
<circle cx="330.0" cy="140.0" r="4.0" fill="#f0a0c8" stroke="#000" stroke-width="1.2"/>
<circle cx="334.0" cy="143.0" r="4.0" fill="#c040c0" stroke="#000" stroke-width="1.2"/>
<circle cx="328.0" cy="145.0" r="4.0" fill="#f0a0c8" stroke="#000" stroke-width="1.2"/>
<circle cx="342.6" cy="139.7" r="4.0" fill="#ffff30" stroke="#000" stroke-width="1.2"/>
<circle cx="341.9" cy="145.0" r="4.0" fill="#ff6010" stroke="#000" stroke-width="1.2"/>
<circle cx="322.0" cy="143.0" r="4.0" fill="#f0a0c8" stroke="#000" stroke-width="1.2"/>
<circle cx="328.0" cy="142.0" r="4.0" fill="#ff1080" stroke="#000" stroke-width="1.2"/>
<circle cx="343.4" cy="192.2" r="4.0" fill="#000000" stroke="#000" stroke-width="1.2"/>
<circle cx="351.7" cy="184.1" r="4.0" fill="#000000" stroke="#000" stroke-width="1.2"/>
<circle cx="349.1" cy="209.5" r="4.0" fill="#000000" stroke="#000" stroke-width="1.2"/>
<circle cx="344.7" cy="202.6" r="4.0" fill="#000000" stroke="#000" stroke-width="1.2"/>
<circle cx="355.2" cy="191.2" r="4.0" fill="#b0f020" stroke="#000" stroke-width="1.2"/>
<circle cx="357.7" cy="197.3" r="4.0" fill="#000000" stroke="#000" stroke-width="1.2"/>
<circle cx="353.1" cy="198.2" r="4.0" fill="#000000" stroke="#000" stroke-width="1.2"/>
<circle cx="343.6" cy="194.8" r="4.0" fill="#000000" stroke="#000" stroke-width="1.2"/>
<circle cx="353.4" cy="188.1" r="4.0" fill="#ff1080" stroke="#000" stroke-width="1.2"/>
<circle cx="346.0" cy="204.7" r="4.0" fill="#000000" stroke="#000" stroke-width="1.2"/>
<circle cx="344.5" cy="210.8" r="4.0" fill="#000000" stroke="#000" stroke-width="1.2"/>
<circle cx="348.0" cy="198.3" r="4.0" fill="#000000" stroke="#000" stroke-width="1.2"/>
<circle cx="344.1" cy="205.6" r="4.0" fill="#000000" stroke="#000" stroke-width="1.2"/>
<circle cx="361.3" cy="188.9" r="4.0" fill="#000000" stroke="#000" stroke-width="1.2"/>
<circle cx="342.4" cy="203.4" r="4.0" fill="#ff9010" stroke="#000" stroke-width="1.2"/>
<circle cx="348.0" cy="186.9" r="4.0" fill="#000000" stroke="#000" stroke-width="1.2"/>
<circle cx="346.9" cy="205.9" r="4.0" fill="#000000" stroke="#000" stroke-width="1.2"/>
<circle cx="350.0" cy="204.8" r="4.0" fill="#000000" stroke="#000" stroke-width="1.2"/>
<circle cx="349.9" cy="207.4" r="4.0" fill="#000000" stroke="#000" stroke-width="1.2"/>
<circle cx="339.2" cy="198.2" r="4.0" fill="#000000" stroke="#000" stroke-width="1.2"/>
<circle cx="340.4" cy="197.0" r="4.0" fill="#000000" stroke="#000" stroke-width="1.2"/>
<circle cx="358.5" cy="193.0" r="4.0" fill="#000000" stroke="#000" stroke-width="1.2"/>
<circle cx="348.1" cy="197.1" r="4.0" fill="#000000" stroke="#000" stroke-width="1.2"/>
<circle cx="344.5" cy="189.6" r="4.0" fill="#000000" stroke="#000" stroke-width="1.2"/>
<circle cx="352.7" cy="199.1" r="4.0" fill="#000000" stroke="#000" stroke-width="1.2"/>
<circle cx="340.2" cy="194.3" r="4.0" fill="#000000" stroke="#000" stroke-width="1.2"/>
<circle cx="353.3" cy="200.1" r="4.0" fill="#000000" stroke="#000" stroke-width="1.2"/>
<circle cx="357.2" cy="210.7" r="4.0" fill="#000000" stroke="#000" stroke-width="1.2"/>
<circle cx="360.5" cy="188.7" r="4.0" fill="#000000" stroke="#000" stroke-width="1.2"/>
<circle cx="355.6" cy="204.2" r="4.0" fill="#000000" stroke="#000" stroke-width="1.2"/>
<circle cx="357.7" cy="207.5" r="4.0" fill="#000000" stroke="#000" stroke-width="1.2"/>
<circle cx="355.5" cy="199.8" r="4.0" fill="#000000" stroke="#000" stroke-width="1.2"/>
<circle cx="343.1" cy="199.6" r="4.0" fill="#000000" stroke="#000" stroke-width="1.2"/>
<circle cx="355.3" cy="187.5" r="4.0" fill="#000000" stroke="#000" stroke-width="1.2"/>
<circle cx="347.7" cy="196.3" r="4.0" fill="#000000" stroke="#000" stroke-width="1.2"/>
<circle cx="351.6" cy="201.7" r="4.0" fill="#000000" stroke="#000" stroke-width="1.2"/>
<circle cx="360.0" cy="187.7" r="4.0" fill="#000000" stroke="#000" stroke-width="1.2"/>
<circle cx="355.7" cy="210.1" r="4.0" fill="#000000" stroke="#000" stroke-width="1.2"/>
<circle cx="353.5" cy="208.3" r="4.0" fill="#000000" stroke="#000" stroke-width="1.2"/>
<circle cx="354.9" cy="200.0" r="4.0" fill="#000000" stroke="#000" stroke-width="1.2"/>
<circle cx="352.9" cy="204.9" r="4.0" fill="#000000" stroke="#000" stroke-width="1.2"/>
<circle cx="352.5" cy="200.0" r="4.0" fill="#000000" stroke="#000" stroke-width="1.2"/>
<circle cx="343.9" cy="201.7" r="4.0" fill="#000000" stroke="#000" stroke-width="1.2"/>
<circle cx="361.7" cy="189.3" r="4.0" fill="#000000" stroke="#000" stroke-width="1.2"/>
<circle cx="347.3" cy="187.9" r="4.0" fill="#000000" stroke="#000" stroke-width="1.2"/>
<circle cx="345.0" cy="203.9" r="4.0" fill="#000000" stroke="#000" stroke-width="1.2"/>
<circle cx="364.0" cy="201.0" r="4.0" fill="#000000" stroke="#000" stroke-width="1.2"/>
<circle cx="355.9" cy="207.1" r="4.0" fill="#000000" stroke="#000" stroke-width="1.2"/>
<circle cx="358.0" cy="192.6" r="4.0" fill="#000000" stroke="#000" stroke-width="1.2"/>
<circle cx="345.8" cy="211.1" r="4.0" fill="#000000" stroke="#000" stroke-width="1.2"/>
<circle cx="344.6" cy="187.0" r="4.0" fill="#000000" stroke="#000" stroke-width="1.2"/>
<circle cx="360.3" cy="193.2" r="4.0" fill="#000000" stroke="#000" stroke-width="1.2"/>
<circle cx="344.5" cy="200.8" r="4.0" fill="#000000" stroke="#000" stroke-width="1.2"/>
<circle cx="351.6" cy="201.3" r="4.0" fill="#000000" stroke="#000" stroke-width="1.2"/>
<circle cx="352.2" cy="204.4" r="4.0" fill="#000000" stroke="#000" stroke-width="1.2"/>
<circle cx="340.9" cy="195.3" r="4.0" fill="#000000" stroke="#000" stroke-width="1.2"/>
<circle cx="340.7" cy="201.7" r="4.0" fill="#000000" stroke="#000" stroke-width="1.2"/>
<circle cx="347.9" cy="204.1" r="4.0" fill="#000000" stroke="#000" stroke-width="1.2"/>
<circle cx="345.2" cy="190.7" r="4.0" fill="#000000" stroke="#000" stroke-width="1.2"/>
<circle cx="346.2" cy="200.0" r="4.0" fill="#000000" stroke="#000" stroke-width="1.2"/>
<circle cx="346.3" cy="186.0" r="4.0" fill="#f0a0c8" stroke="#000" stroke-width="1.2"/>
<circle cx="345.3" cy="194.2" r="4.0" fill="#000000" stroke="#000" stroke-width="1.2"/>
<circle cx="347.3" cy="194.7" r="4.0" fill="#000000" stroke="#000" stroke-width="1.2"/>
<circle cx="358.7" cy="206.5" r="4.0" fill="#000000" stroke="#000" stroke-width="1.2"/>
<circle cx="350.5" cy="212.1" r="4.0" fill="#000000" stroke="#000" stroke-width="1.2"/>
<circle cx="346.6" cy="189.6" r="4.0" fill="#000000" stroke="#000" stroke-width="1.2"/>
<circle cx="349.1" cy="201.8" r="4.0" fill="#000000" stroke="#000" stroke-width="1.2"/>
<circle cx="356.4" cy="192.2" r="4.0" fill="#000000" stroke="#000" stroke-width="1.2"/>
<circle cx="359.5" cy="206.1" r="4.0" fill="#000000" stroke="#000" stroke-width="1.2"/>
<circle cx="344.9" cy="199.0" r="4.0" fill="#000000" stroke="#000" stroke-width="1.2"/>
<circle cx="352.2" cy="233.7" r="4.0" fill="#000000" stroke="#000" stroke-width="1.2"/>
<circle cx="352.9" cy="221.2" r="4.0" fill="#000000" stroke="#000" stroke-width="1.2"/>
<circle cx="361.4" cy="221.8" r="4.0" fill="#000000" stroke="#000" stroke-width="1.2"/>
<circle cx="356.3" cy="224.4" r="4.0" fill="#000000" stroke="#000" stroke-width="1.2"/>
<circle cx="362.1" cy="230.0" r="4.0" fill="#000000" stroke="#000" stroke-width="1.2"/>
<circle cx="350.2" cy="234.7" r="4.0" fill="#000000" stroke="#000" stroke-width="1.2"/>
<circle cx="352.4" cy="221.8" r="4.0" fill="#000000" stroke="#000" stroke-width="1.2"/>
<circle cx="349.3" cy="236.3" r="4.0" fill="#000000" stroke="#000" stroke-width="1.2"/>
<circle cx="361.2" cy="236.2" r="4.0" fill="#000000" stroke="#000" stroke-width="1.2"/>
<circle cx="353.5" cy="225.5" r="4.0" fill="#000000" stroke="#000" stroke-width="1.2"/>
<circle cx="356.3" cy="232.9" r="4.0" fill="#000000" stroke="#000" stroke-width="1.2"/>
<circle cx="352.5" cy="229.8" r="4.0" fill="#000000" stroke="#000" stroke-width="1.2"/>
<circle cx="351.3" cy="223.8" r="4.0" fill="#000000" stroke="#000" stroke-width="1.2"/>
<circle cx="346.3" cy="223.3" r="4.0" fill="#000000" stroke="#000" stroke-width="1.2"/>
<circle cx="346.4" cy="232.3" r="4.0" fill="#000000" stroke="#000" stroke-width="1.2"/>
<circle cx="363.1" cy="228.1" r="4.0" fill="#000000" stroke="#000" stroke-width="1.2"/>
<circle cx="353.5" cy="230.6" r="4.0" fill="#000000" stroke="#000" stroke-width="1.2"/>
<circle cx="352.3" cy="226.2" r="4.0" fill="#000000" stroke="#000" stroke-width="1.2"/>
<circle cx="360.8" cy="235.4" r="4.0" fill="#000000" stroke="#000" stroke-width="1.2"/>
<circle cx="361.4" cy="222.2" r="4.0" fill="#000000" stroke="#000" stroke-width="1.2"/>
<circle cx="351.9" cy="220.3" r="4.0" fill="#000000" stroke="#000" stroke-width="1.2"/>
<circle cx="356.5" cy="221.9" r="4.0" fill="#000000" stroke="#000" stroke-width="1.2"/>
<circle cx="360.1" cy="225.2" r="4.0" fill="#000000" stroke="#000" stroke-width="1.2"/>
<circle cx="350.9" cy="217.6" r="4.0" fill="#000000" stroke="#000" stroke-width="1.2"/>
<circle cx="349.3" cy="221.7" r="4.0" fill="#000000" stroke="#000" stroke-width="1.2"/>
<circle cx="351.9" cy="219.9" r="4.0" fill="#000000" stroke="#000" stroke-width="1.2"/>
<circle cx="357.2" cy="226.0" r="4.0" fill="#000000" stroke="#000" stroke-width="1.2"/>
<circle cx="362.1" cy="231.0" r="4.0" fill="#000000" stroke="#000" stroke-width="1.2"/>
<circle cx="353.5" cy="237.6" r="4.0" fill="#b0f020" stroke="#000" stroke-width="1.2"/>
<circle cx="349.2" cy="226.2" r="4.0" fill="#000000" stroke="#000" stroke-width="1.2"/>
<circle cx="350.0" cy="234.5" r="4.0" fill="#000000" stroke="#000" stroke-width="1.2"/>
<circle cx="352.6" cy="232.5" r="4.0" fill="#000000" stroke="#000" stroke-width="1.2"/>
<circle cx="351.7" cy="222.4" r="4.0" fill="#000000" stroke="#000" stroke-width="1.2"/>
<circle cx="347.4" cy="227.2" r="4.0" fill="#000000" stroke="#000" stroke-width="1.2"/>
<circle cx="350.7" cy="233.7" r="4.0" fill="#000000" stroke="#000" stroke-width="1.2"/>
<circle cx="358.7" cy="235.6" r="4.0" fill="#000000" stroke="#000" stroke-width="1.2"/>
<circle cx="357.0" cy="219.2" r="4.0" fill="#000000" stroke="#000" stroke-width="1.2"/>
<circle cx="358.0" cy="237.3" r="4.0" fill="#000000" stroke="#000" stroke-width="1.2"/>
<circle cx="345.5" cy="230.7" r="4.0" fill="#000000" stroke="#000" stroke-width="1.2"/>
<circle cx="358.0" cy="232.6" r="4.0" fill="#000000" stroke="#000" stroke-width="1.2"/>
<circle cx="354.7" cy="231.1" r="4.0" fill="#000000" stroke="#000" stroke-width="1.2"/>
<circle cx="356.7" cy="238.3" r="4.0" fill="#000000" stroke="#000" stroke-width="1.2"/>
<circle cx="358.3" cy="232.8" r="4.0" fill="#000000" stroke="#000" stroke-width="1.2"/>
<circle cx="351.3" cy="232.0" r="4.0" fill="#000000" stroke="#000" stroke-width="1.2"/>
<circle cx="363.9" cy="228.9" r="4.0" fill="#000000" stroke="#000" stroke-width="1.2"/>
<ellipse cx="343" cy="190" rx="1.9" ry="1.0" fill="#10e040"/>
<ellipse cx="348" cy="205" rx="1.9" ry="1.0" fill="#20e8b0"/>
<ellipse cx="361" cy="202" rx="1.9" ry="1.0" fill="#00eaff"/>
<ellipse cx="363" cy="214" rx="1.9" ry="1.0" fill="#00eaff"/>
<ellipse cx="346" cy="228" rx="1.9" ry="1.0" fill="#10e040"/>
<ellipse cx="357" cy="237" rx="1.9" ry="1.0" fill="#ff1080"/>
<ellipse cx="361" cy="231" rx="1.9" ry="1.0" fill="#f8c020"/>
<ellipse cx="352" cy="219" rx="1.9" ry="1.0" fill="#10e040"/>
<ellipse cx="340" cy="200" rx="1.9" ry="1.0" fill="#50f000"/>
<ellipse cx="356" cy="193" rx="1.9" ry="1.0" fill="#10c0f0"/>
<circle cx="352.1" cy="172.3" r="4.0" fill="#f0a0c8" stroke="#000" stroke-width="1.2"/>
<circle cx="354.9" cy="172.8" r="4.0" fill="#f0a0c8" stroke="#000" stroke-width="1.2"/>
<circle cx="358.1" cy="173.6" r="4.0" fill="#f0a0c8" stroke="#000" stroke-width="1.2"/>
<circle cx="361.8" cy="174.3" r="4.0" fill="#c040c0" stroke="#000" stroke-width="1.2"/>
<circle cx="365.0" cy="174.7" r="4.0" fill="#f0a0c8" stroke="#000" stroke-width="1.2"/>
<circle cx="367.8" cy="174.8" r="4.0" fill="#f0a0c8" stroke="#000" stroke-width="1.2"/>
<circle cx="345.4" cy="165.6" r="4.0" fill="#f8c020" stroke="#000" stroke-width="1.2"/>
<circle cx="350.3" cy="160.7" r="4.0" fill="#10e040" stroke="#000" stroke-width="1.2"/>
<circle cx="356.9" cy="163.1" r="4.0" fill="#f0a0c8" stroke="#000" stroke-width="1.2"/>
<circle cx="372.0" cy="167.0" r="4.0" fill="#000000" stroke="#000" stroke-width="1.2"/>
<circle cx="375.8" cy="165.6" r="4.0" fill="#ff1080" stroke="#000" stroke-width="1.2"/>
<circle cx="382.0" cy="170.0" r="4.0" fill="#10e040" stroke="#000" stroke-width="1.2"/>
<circle cx="387.2" cy="173.0" r="4.0" fill="#ff6010" stroke="#000" stroke-width="1.2"/>
<circle cx="392.2" cy="174.3" r="4.0" fill="#ff1080" stroke="#000" stroke-width="1.2"/>
<circle cx="383.9" cy="195.7" r="4.0" fill="#000000" stroke="#000" stroke-width="1.2"/>
<circle cx="376.0" cy="198.5" r="4.0" fill="#000000" stroke="#000" stroke-width="1.2"/>
<circle cx="381.4" cy="185.3" r="4.0" fill="#000000" stroke="#000" stroke-width="1.2"/>
<circle cx="378.6" cy="184.2" r="4.0" fill="#000000" stroke="#000" stroke-width="1.2"/>
<circle cx="375.4" cy="198.2" r="4.0" fill="#000000" stroke="#000" stroke-width="1.2"/>
<circle cx="374.9" cy="200.0" r="4.0" fill="#000000" stroke="#000" stroke-width="1.2"/>
<circle cx="372.0" cy="201.3" r="4.0" fill="#000000" stroke="#000" stroke-width="1.2"/>
<circle cx="382.8" cy="196.1" r="4.0" fill="#000000" stroke="#000" stroke-width="1.2"/>
<circle cx="379.9" cy="185.6" r="4.0" fill="#50f000" stroke="#000" stroke-width="1.2"/>
<circle cx="371.3" cy="194.3" r="4.0" fill="#000000" stroke="#000" stroke-width="1.2"/>
<circle cx="375.1" cy="202.0" r="4.0" fill="#000000" stroke="#000" stroke-width="1.2"/>
<circle cx="375.8" cy="189.9" r="4.0" fill="#000000" stroke="#000" stroke-width="1.2"/>
<circle cx="379.4" cy="193.4" r="4.0" fill="#000000" stroke="#000" stroke-width="1.2"/>
<circle cx="373.8" cy="195.8" r="4.0" fill="#000000" stroke="#000" stroke-width="1.2"/>
<circle cx="384.3" cy="194.2" r="4.0" fill="#ff1080" stroke="#000" stroke-width="1.2"/>
<circle cx="378.3" cy="196.3" r="4.0" fill="#000000" stroke="#000" stroke-width="1.2"/>
<circle cx="372.5" cy="183.7" r="4.0" fill="#10e040" stroke="#000" stroke-width="1.2"/>
<circle cx="376.6" cy="187.0" r="4.0" fill="#ff1818" stroke="#000" stroke-width="1.2"/>
<circle cx="382.3" cy="188.6" r="4.0" fill="#b0f020" stroke="#000" stroke-width="1.2"/>
<circle cx="373.3" cy="196.8" r="4.0" fill="#1a78e0" stroke="#000" stroke-width="1.2"/>
<circle cx="379.9" cy="202.5" r="4.0" fill="#f8c020" stroke="#000" stroke-width="1.2"/>
<circle cx="396.3" cy="184.5" r="4.0" fill="#ff1818" stroke="#000" stroke-width="1.2"/>
<circle cx="393.0" cy="203.4" r="4.0" fill="#ff6010" stroke="#000" stroke-width="1.2"/>
<circle cx="404.9" cy="189.0" r="4.0" fill="#000000" stroke="#000" stroke-width="1.2"/>
<circle cx="415.8" cy="200.6" r="4.0" fill="#000000" stroke="#000" stroke-width="1.2"/>
<circle cx="406.1" cy="192.7" r="4.0" fill="#000000" stroke="#000" stroke-width="1.2"/>
<circle cx="409.5" cy="190.7" r="4.0" fill="#000000" stroke="#000" stroke-width="1.2"/>
<circle cx="400.5" cy="201.7" r="4.0" fill="#000000" stroke="#000" stroke-width="1.2"/>
<circle cx="401.1" cy="203.8" r="4.0" fill="#000000" stroke="#000" stroke-width="1.2"/>
<circle cx="410.2" cy="206.3" r="4.0" fill="#000000" stroke="#000" stroke-width="1.2"/>
<circle cx="414.1" cy="205.3" r="4.0" fill="#000000" stroke="#000" stroke-width="1.2"/>
<circle cx="403.4" cy="208.5" r="4.0" fill="#000000" stroke="#000" stroke-width="1.2"/>
<circle cx="402.2" cy="203.5" r="4.0" fill="#000000" stroke="#000" stroke-width="1.2"/>
<circle cx="412.5" cy="208.5" r="4.0" fill="#000000" stroke="#000" stroke-width="1.2"/>
<circle cx="401.5" cy="191.8" r="4.0" fill="#000000" stroke="#000" stroke-width="1.2"/>
<circle cx="406.5" cy="190.0" r="4.0" fill="#000000" stroke="#000" stroke-width="1.2"/>
<circle cx="401.1" cy="195.7" r="4.0" fill="#000000" stroke="#000" stroke-width="1.2"/>
<circle cx="404.2" cy="204.5" r="4.0" fill="#000000" stroke="#000" stroke-width="1.2"/>
<circle cx="406.7" cy="205.7" r="4.0" fill="#50f000" stroke="#000" stroke-width="1.2"/>
<circle cx="404.1" cy="198.8" r="4.0" fill="#000000" stroke="#000" stroke-width="1.2"/>
<circle cx="406.9" cy="203.7" r="4.0" fill="#000000" stroke="#000" stroke-width="1.2"/>
<circle cx="406.9" cy="208.4" r="4.0" fill="#000000" stroke="#000" stroke-width="1.2"/>
<circle cx="408.0" cy="209.0" r="4.0" fill="#000000" stroke="#000" stroke-width="1.2"/>
<circle cx="402.0" cy="205.0" r="4.0" fill="#10e040" stroke="#000" stroke-width="1.2"/>
<circle cx="411.9" cy="191.9" r="4.0" fill="#00eaff" stroke="#000" stroke-width="1.2"/>
<circle cx="415.0" cy="200.0" r="4.0" fill="#1a78e0" stroke="#000" stroke-width="1.2"/>
<circle cx="420.0" cy="205.0" r="4.0" fill="#50f000" stroke="#000" stroke-width="1.2"/>
<circle cx="426.0" cy="206.0" r="4.0" fill="#ff1080" stroke="#000" stroke-width="1.2"/>
<circle cx="430.9" cy="201.6" r="4.0" fill="#1428e8" stroke="#000" stroke-width="1.2"/>
<circle cx="430.9" cy="206.9" r="4.0" fill="#ff1080" stroke="#000" stroke-width="1.2"/>
<circle cx="427.0" cy="210.8" r="4.0" fill="#ff1818" stroke="#000" stroke-width="1.2"/>
<circle cx="416.5" cy="147.5" r="4.0" fill="#1a78e0" stroke="#000" stroke-width="1.2"/>
<circle cx="420.2" cy="147.5" r="4.0" fill="#10e040" stroke="#000" stroke-width="1.2"/>
<circle cx="426.5" cy="147.5" r="4.0" fill="#f8c020" stroke="#000" stroke-width="1.2"/>
<circle cx="412.0" cy="158.0" r="4.0" fill="#ff6010" stroke="#000" stroke-width="1.2"/>
<circle cx="447.3" cy="191.8" r="4.0" fill="#10e040" stroke="#000" stroke-width="1.2"/>
<circle cx="450.6" cy="185.9" r="4.0" fill="#00eaff" stroke="#000" stroke-width="1.2"/>
<circle cx="384.3" cy="215.2" r="4.0" fill="#ffff30" stroke="#000" stroke-width="1.2"/>
<circle cx="378.4" cy="218.8" r="4.0" fill="#ffff30" stroke="#000" stroke-width="1.2"/>
<circle cx="376.4" cy="222.7" r="4.0" fill="#f8c020" stroke="#000" stroke-width="1.2"/>
<circle cx="383.7" cy="224.7" r="4.0" fill="#10c0f0" stroke="#000" stroke-width="1.2"/>
<circle cx="389.6" cy="224.7" r="4.0" fill="#f8c020" stroke="#000" stroke-width="1.2"/>
<circle cx="398.1" cy="224.2" r="4.0" fill="#000000" stroke="#000" stroke-width="1.2"/>
<circle cx="403.0" cy="226.8" r="4.0" fill="#000000" stroke="#000" stroke-width="1.2"/>
<circle cx="409.4" cy="218.3" r="4.0" fill="#000000" stroke="#000" stroke-width="1.2"/>
<circle cx="405.1" cy="220.9" r="4.0" fill="#00eaff" stroke="#000" stroke-width="1.2"/>
<circle cx="397.8" cy="227.5" r="4.0" fill="#000000" stroke="#000" stroke-width="1.2"/>
<circle cx="408.9" cy="223.9" r="4.0" fill="#000000" stroke="#000" stroke-width="1.2"/>
<circle cx="409.6" cy="229.0" r="4.0" fill="#000000" stroke="#000" stroke-width="1.2"/>
<circle cx="403.4" cy="226.5" r="4.0" fill="#000000" stroke="#000" stroke-width="1.2"/>
<circle cx="402.4" cy="213.8" r="4.0" fill="#000000" stroke="#000" stroke-width="1.2"/>
<circle cx="407.4" cy="228.0" r="4.0" fill="#000000" stroke="#000" stroke-width="1.2"/>
<circle cx="412.6" cy="231.2" r="4.0" fill="#000000" stroke="#000" stroke-width="1.2"/>
<circle cx="410.8" cy="231.8" r="4.0" fill="#000000" stroke="#000" stroke-width="1.2"/>
<circle cx="399.5" cy="233.2" r="4.0" fill="#000000" stroke="#000" stroke-width="1.2"/>
<circle cx="404.9" cy="223.7" r="4.0" fill="#000000" stroke="#000" stroke-width="1.2"/>
<circle cx="405.4" cy="233.6" r="4.0" fill="#000000" stroke="#000" stroke-width="1.2"/>
<circle cx="401.1" cy="231.6" r="4.0" fill="#000000" stroke="#000" stroke-width="1.2"/>
<circle cx="401.8" cy="230.7" r="4.0" fill="#000000" stroke="#000" stroke-width="1.2"/>
<circle cx="403.7" cy="223.7" r="4.0" fill="#000000" stroke="#000" stroke-width="1.2"/>
<circle cx="405.3" cy="232.1" r="4.0" fill="#000000" stroke="#000" stroke-width="1.2"/>
<circle cx="413.9" cy="226.6" r="4.0" fill="#000000" stroke="#000" stroke-width="1.2"/>
<circle cx="406.6" cy="216.9" r="4.0" fill="#000000" stroke="#000" stroke-width="1.2"/>
<circle cx="404.8" cy="229.6" r="4.0" fill="#000000" stroke="#000" stroke-width="1.2"/>
<circle cx="410.2" cy="218.0" r="4.0" fill="#000000" stroke="#000" stroke-width="1.2"/>
<circle cx="401.2" cy="221.8" r="4.0" fill="#ffff30" stroke="#000" stroke-width="1.2"/>
<circle cx="406.0" cy="224.6" r="4.0" fill="#000000" stroke="#000" stroke-width="1.2"/>
<circle cx="408.7" cy="231.9" r="4.0" fill="#000000" stroke="#000" stroke-width="1.2"/>
<circle cx="405.5" cy="222.9" r="4.0" fill="#000000" stroke="#000" stroke-width="1.2"/>
<circle cx="408.1" cy="216.0" r="4.0" fill="#000000" stroke="#000" stroke-width="1.2"/>
<circle cx="401.5" cy="225.7" r="4.0" fill="#000000" stroke="#000" stroke-width="1.2"/>
<circle cx="398.4" cy="232.0" r="4.0" fill="#000000" stroke="#000" stroke-width="1.2"/>
<circle cx="401.9" cy="221.8" r="4.0" fill="#ff1080" stroke="#000" stroke-width="1.2"/>
<circle cx="404.1" cy="223.7" r="4.0" fill="#c040c0" stroke="#000" stroke-width="1.2"/>
<circle cx="405.9" cy="226.0" r="4.0" fill="#ff1080" stroke="#000" stroke-width="1.2"/>
<circle cx="407.9" cy="227.9" r="4.0" fill="#ff1080" stroke="#000" stroke-width="1.2"/>
<circle cx="415.2" cy="227.3" r="4.0" fill="#10e040" stroke="#000" stroke-width="1.2"/>
<circle cx="412.0" cy="231.0" r="4.0" fill="#ff6010" stroke="#000" stroke-width="1.2"/>
<circle cx="407.3" cy="236.5" r="4.0" fill="#1428e8" stroke="#000" stroke-width="1.2"/>
<circle cx="331.6" cy="191.2" r="4.0" fill="#000000" stroke="#000" stroke-width="1.2"/>
<circle cx="331.0" cy="191.6" r="4.0" fill="#1a78e0" stroke="#000" stroke-width="1.2"/>
<circle cx="323.5" cy="186.6" r="4.0" fill="#000000" stroke="#000" stroke-width="1.2"/>
<circle cx="325.9" cy="192.2" r="4.0" fill="#ff6010" stroke="#000" stroke-width="1.2"/>
<circle cx="323.0" cy="188.9" r="4.0" fill="#1a78e0" stroke="#000" stroke-width="1.2"/>
<circle cx="331.9" cy="187.6" r="4.0" fill="#000000" stroke="#000" stroke-width="1.2"/>
<circle cx="328.2" cy="195.3" r="4.0" fill="#000000" stroke="#000" stroke-width="1.2"/>
<circle cx="331.3" cy="194.6" r="4.0" fill="#000000" stroke="#000" stroke-width="1.2"/>
<circle cx="327.4" cy="197.2" r="4.0" fill="#000000" stroke="#000" stroke-width="1.2"/>
<circle cx="332.3" cy="194.0" r="4.0" fill="#000000" stroke="#000" stroke-width="1.2"/>
<circle cx="329.0" cy="184.5" r="4.0" fill="#ff6010" stroke="#000" stroke-width="1.2"/>
<circle cx="327.3" cy="187.8" r="4.0" fill="#00eaff" stroke="#000" stroke-width="1.2"/>
<circle cx="376.0" cy="254.3" r="4.0" fill="#000000" stroke="#000" stroke-width="1.2"/>
<circle cx="387.9" cy="242.5" r="4.0" fill="#000000" stroke="#000" stroke-width="1.2"/>
<circle cx="379.7" cy="240.9" r="4.0" fill="#c040c0" stroke="#000" stroke-width="1.2"/>
<circle cx="372.5" cy="247.8" r="4.0" fill="#ff6010" stroke="#000" stroke-width="1.2"/>
<circle cx="384.6" cy="251.3" r="4.0" fill="#f0a0c8" stroke="#000" stroke-width="1.2"/>
<circle cx="376.8" cy="251.2" r="4.0" fill="#10e040" stroke="#000" stroke-width="1.2"/>
<circle cx="378.8" cy="246.2" r="4.0" fill="#000000" stroke="#000" stroke-width="1.2"/>
<circle cx="381.9" cy="254.8" r="4.0" fill="#000000" stroke="#000" stroke-width="1.2"/>
<circle cx="384.6" cy="247.5" r="4.0" fill="#000000" stroke="#000" stroke-width="1.2"/>
<circle cx="388.8" cy="244.9" r="4.0" fill="#000000" stroke="#000" stroke-width="1.2"/>
<circle cx="377.9" cy="252.9" r="4.0" fill="#ff1080" stroke="#000" stroke-width="1.2"/>
<circle cx="380.3" cy="239.5" r="4.0" fill="#ff9010" stroke="#000" stroke-width="1.2"/>
<circle cx="386.2" cy="245.2" r="4.0" fill="#000000" stroke="#000" stroke-width="1.2"/>
<circle cx="386.0" cy="248.5" r="4.0" fill="#000000" stroke="#000" stroke-width="1.2"/>
<circle cx="380.7" cy="244.0" r="4.0" fill="#000000" stroke="#000" stroke-width="1.2"/>
<circle cx="384.4" cy="254.7" r="4.0" fill="#00eaff" stroke="#000" stroke-width="1.2"/>
<circle cx="384.8" cy="255.3" r="4.0" fill="#1a78e0" stroke="#000" stroke-width="1.2"/>
<circle cx="389.9" cy="251.9" r="4.0" fill="#ff9010" stroke="#000" stroke-width="1.2"/>
<circle cx="381.9" cy="247.4" r="4.0" fill="#000000" stroke="#000" stroke-width="1.2"/>
<circle cx="381.2" cy="247.1" r="4.0" fill="#000000" stroke="#000" stroke-width="1.2"/>
<circle cx="386.3" cy="235.2" r="4.0" fill="#10e040" stroke="#000" stroke-width="1.2"/>
<circle cx="379.0" cy="238.5" r="4.0" fill="#f8c020" stroke="#000" stroke-width="1.2"/>
<circle cx="373.1" cy="240.5" r="4.0" fill="#10e040" stroke="#000" stroke-width="1.2"/>
<circle cx="383.0" cy="243.1" r="4.0" fill="#ff1080" stroke="#000" stroke-width="1.2"/>
<circle cx="377.0" cy="245.0" r="4.0" fill="#ff1818" stroke="#000" stroke-width="1.2"/>
<circle cx="392.2" cy="245.7" r="4.0" fill="#1a78e0" stroke="#000" stroke-width="1.2"/>
<circle cx="369.9" cy="251.0" r="4.0" fill="#10e040" stroke="#000" stroke-width="1.2"/>
<circle cx="373.8" cy="251.0" r="4.0" fill="#f8c020" stroke="#000" stroke-width="1.2"/>
<circle cx="386.3" cy="249.7" r="4.0" fill="#20e8b0" stroke="#000" stroke-width="1.2"/>
<circle cx="383.7" cy="254.9" r="4.0" fill="#1a78e0" stroke="#000" stroke-width="1.2"/>
<circle cx="379.0" cy="256.9" r="4.0" fill="#ff1080" stroke="#000" stroke-width="1.2"/>
<circle cx="396.1" cy="260.8" r="4.0" fill="#1a78e0" stroke="#000" stroke-width="1.2"/>
<circle cx="411.9" cy="265.4" r="4.0" fill="#1428e8" stroke="#000" stroke-width="1.2"/>
<circle cx="416.5" cy="264.1" r="4.0" fill="#1a78e0" stroke="#000" stroke-width="1.2"/>
<circle cx="431.6" cy="243.8" r="4.0" fill="#ff6010" stroke="#000" stroke-width="1.2"/>
<circle cx="486.1" cy="166.4" r="4.0" fill="#000000" stroke="#000" stroke-width="1.2"/>
<circle cx="485.6" cy="169.9" r="4.0" fill="#000000" stroke="#000" stroke-width="1.2"/>
<circle cx="484.3" cy="174.2" r="4.0" fill="#000000" stroke="#000" stroke-width="1.2"/>
<circle cx="483.4" cy="177.6" r="4.0" fill="#000000" stroke="#000" stroke-width="1.2"/>
<circle cx="484.1" cy="181.2" r="4.0" fill="#000000" stroke="#000" stroke-width="1.2"/>
<circle cx="483.2" cy="184.5" r="4.0" fill="#000000" stroke="#000" stroke-width="1.2"/>
<circle cx="482.1" cy="188.8" r="4.0" fill="#000000" stroke="#000" stroke-width="1.2"/>
<circle cx="481.5" cy="193.5" r="4.0" fill="#000000" stroke="#000" stroke-width="1.2"/>
<circle cx="479.6" cy="196.4" r="4.0" fill="#000000" stroke="#000" stroke-width="1.2"/>
<circle cx="478.1" cy="163.9" r="4.0" fill="#000000" stroke="#000" stroke-width="1.2"/>
<circle cx="476.6" cy="168.3" r="4.0" fill="#000000" stroke="#000" stroke-width="1.2"/>
<circle cx="475.5" cy="172.7" r="4.0" fill="#000000" stroke="#000" stroke-width="1.2"/>
<circle cx="474.8" cy="175.9" r="4.0" fill="#000000" stroke="#000" stroke-width="1.2"/>
<circle cx="474.5" cy="178.9" r="4.0" fill="#000000" stroke="#000" stroke-width="1.2"/>
<circle cx="474.0" cy="183.6" r="4.0" fill="#000000" stroke="#000" stroke-width="1.2"/>
<circle cx="473.1" cy="187.2" r="4.0" fill="#000000" stroke="#000" stroke-width="1.2"/>
<circle cx="471.9" cy="190.9" r="4.0" fill="#000000" stroke="#000" stroke-width="1.2"/>
<circle cx="470.9" cy="195.6" r="4.0" fill="#000000" stroke="#000" stroke-width="1.2"/>
<circle cx="482.8" cy="163.5" r="4.0" fill="#ffff30" stroke="#000" stroke-width="1.2"/>
<circle cx="480.2" cy="168.1" r="4.0" fill="#ff1080" stroke="#000" stroke-width="1.2"/>
<circle cx="477.6" cy="179.3" r="4.0" fill="#00eaff" stroke="#000" stroke-width="1.2"/>
<circle cx="483.5" cy="183.3" r="4.0" fill="#1a78e0" stroke="#000" stroke-width="1.2"/>
<circle cx="482.8" cy="188.5" r="4.0" fill="#1a78e0" stroke="#000" stroke-width="1.2"/>
<circle cx="473.0" cy="186.5" r="4.0" fill="#b0f020" stroke="#000" stroke-width="1.2"/>
<circle cx="469.7" cy="195.7" r="4.0" fill="#10e040" stroke="#000" stroke-width="1.2"/>
<circle cx="481.5" cy="197.0" r="4.0" fill="#00eaff" stroke="#000" stroke-width="1.2"/>
<circle cx="483.6" cy="210.7" r="4.0" fill="#20e8b0" stroke="#000" stroke-width="1.2"/>
<circle cx="478.7" cy="213.5" r="4.0" fill="#000000" stroke="#000" stroke-width="1.2"/>
<circle cx="475.2" cy="217.4" r="4.0" fill="#000000" stroke="#000" stroke-width="1.2"/>
<circle cx="472.0" cy="221.3" r="4.0" fill="#000000" stroke="#000" stroke-width="1.2"/>
<circle cx="469.2" cy="223.9" r="4.0" fill="#000000" stroke="#000" stroke-width="1.2"/>
<circle cx="467.7" cy="227.7" r="4.0" fill="#000000" stroke="#000" stroke-width="1.2"/>
<circle cx="464.8" cy="231.7" r="4.0" fill="#000000" stroke="#000" stroke-width="1.2"/>
<circle cx="461.8" cy="236.8" r="4.0" fill="#c040c0" stroke="#000" stroke-width="1.2"/>
<circle cx="460.8" cy="240.4" r="4.0" fill="#ff1818" stroke="#000" stroke-width="1.2"/>
<circle cx="459.8" cy="244.4" r="4.0" fill="#00eaff" stroke="#000" stroke-width="1.2"/>
<circle cx="458.9" cy="249.9" r="4.0" fill="#000000" stroke="#000" stroke-width="1.2"/>
<circle cx="456.4" cy="253.9" r="4.0" fill="#000000" stroke="#000" stroke-width="1.2"/>
<circle cx="476.7" cy="207.2" r="4.0" fill="#ff1818" stroke="#000" stroke-width="1.2"/>
<circle cx="472.1" cy="209.8" r="4.0" fill="#000000" stroke="#000" stroke-width="1.2"/>
<circle cx="468.6" cy="212.8" r="4.0" fill="#000000" stroke="#000" stroke-width="1.2"/>
<circle cx="465.9" cy="216.2" r="4.0" fill="#000000" stroke="#000" stroke-width="1.2"/>
<circle cx="463.7" cy="220.8" r="4.0" fill="#50f000" stroke="#000" stroke-width="1.2"/>
<circle cx="460.9" cy="224.5" r="4.0" fill="#000000" stroke="#000" stroke-width="1.2"/>
<circle cx="458.0" cy="227.6" r="4.0" fill="#20e8b0" stroke="#000" stroke-width="1.2"/>
<circle cx="455.4" cy="232.7" r="4.0" fill="#000000" stroke="#000" stroke-width="1.2"/>
<circle cx="454.3" cy="236.7" r="4.0" fill="#000000" stroke="#000" stroke-width="1.2"/>
<circle cx="452.8" cy="241.6" r="4.0" fill="#000000" stroke="#000" stroke-width="1.2"/>
<circle cx="452.0" cy="245.3" r="4.0" fill="#000000" stroke="#000" stroke-width="1.2"/>
<circle cx="450.6" cy="249.5" r="4.0" fill="#000000" stroke="#000" stroke-width="1.2"/>
<circle cx="469.5" cy="203.3" r="4.0" fill="#f8c020" stroke="#000" stroke-width="1.2"/>
<circle cx="466.3" cy="205.4" r="4.0" fill="#000000" stroke="#000" stroke-width="1.2"/>
<circle cx="462.2" cy="208.9" r="4.0" fill="#000000" stroke="#000" stroke-width="1.2"/>
<circle cx="458.7" cy="212.2" r="4.0" fill="#000000" stroke="#000" stroke-width="1.2"/>
<circle cx="456.3" cy="216.4" r="4.0" fill="#000000" stroke="#000" stroke-width="1.2"/>
<circle cx="453.1" cy="220.6" r="4.0" fill="#000000" stroke="#000" stroke-width="1.2"/>
<circle cx="450.2" cy="224.0" r="4.0" fill="#000000" stroke="#000" stroke-width="1.2"/>
<circle cx="448.0" cy="228.1" r="4.0" fill="#000000" stroke="#000" stroke-width="1.2"/>
<circle cx="447.5" cy="232.8" r="4.0" fill="#000000" stroke="#000" stroke-width="1.2"/>
<circle cx="446.5" cy="236.2" r="4.0" fill="#000000" stroke="#000" stroke-width="1.2"/>
<circle cx="445.2" cy="242.1" r="4.0" fill="#000000" stroke="#000" stroke-width="1.2"/>
<circle cx="442.4" cy="245.4" r="4.0" fill="#000000" stroke="#000" stroke-width="1.2"/>
<circle cx="448.1" cy="233.2" r="4.0" fill="#000000" stroke="#000" stroke-width="1.2"/>
<circle cx="461.5" cy="235.6" r="4.0" fill="#000000" stroke="#000" stroke-width="1.2"/>
<circle cx="457.4" cy="235.0" r="4.0" fill="#b0f020" stroke="#000" stroke-width="1.2"/>
<circle cx="454.5" cy="228.7" r="4.0" fill="#000000" stroke="#000" stroke-width="1.2"/>
<circle cx="454.8" cy="239.7" r="4.0" fill="#000000" stroke="#000" stroke-width="1.2"/>
<circle cx="449.3" cy="235.5" r="4.0" fill="#000000" stroke="#000" stroke-width="1.2"/>
<circle cx="454.4" cy="237.1" r="4.0" fill="#000000" stroke="#000" stroke-width="1.2"/>
<circle cx="451.2" cy="227.5" r="4.0" fill="#000000" stroke="#000" stroke-width="1.2"/>
<circle cx="451.7" cy="223.1" r="4.0" fill="#000000" stroke="#000" stroke-width="1.2"/>
<circle cx="453.9" cy="227.3" r="4.0" fill="#000000" stroke="#000" stroke-width="1.2"/>
<circle cx="447.2" cy="242.7" r="4.0" fill="#000000" stroke="#000" stroke-width="1.2"/>
<circle cx="450.7" cy="241.9" r="4.0" fill="#000000" stroke="#000" stroke-width="1.2"/>
<circle cx="455.7" cy="236.0" r="4.0" fill="#000000" stroke="#000" stroke-width="1.2"/>
<circle cx="459.1" cy="232.8" r="4.0" fill="#000000" stroke="#000" stroke-width="1.2"/>
<circle cx="451.8" cy="240.8" r="4.0" fill="#000000" stroke="#000" stroke-width="1.2"/>
<circle cx="461.2" cy="244.6" r="4.0" fill="#000000" stroke="#000" stroke-width="1.2"/>
<circle cx="456.7" cy="234.3" r="4.0" fill="#000000" stroke="#000" stroke-width="1.2"/>
<circle cx="451.7" cy="246.0" r="4.0" fill="#000000" stroke="#000" stroke-width="1.2"/>
<circle cx="451.4" cy="248.6" r="4.0" fill="#000000" stroke="#000" stroke-width="1.2"/>
<circle cx="454.8" cy="223.1" r="4.0" fill="#000000" stroke="#000" stroke-width="1.2"/>
<circle cx="447.5" cy="228.3" r="4.0" fill="#000000" stroke="#000" stroke-width="1.2"/>
<circle cx="449.7" cy="227.2" r="4.0" fill="#000000" stroke="#000" stroke-width="1.2"/>
<circle cx="453.7" cy="227.5" r="4.0" fill="#000000" stroke="#000" stroke-width="1.2"/>
<circle cx="449.4" cy="228.5" r="4.0" fill="#000000" stroke="#000" stroke-width="1.2"/>
<circle cx="450.4" cy="228.5" r="4.0" fill="#000000" stroke="#000" stroke-width="1.2"/>
<circle cx="451.5" cy="231.3" r="4.0" fill="#000000" stroke="#000" stroke-width="1.2"/>
<circle cx="447.5" cy="238.0" r="4.0" fill="#000000" stroke="#000" stroke-width="1.2"/>
<circle cx="450.8" cy="237.0" r="4.0" fill="#000000" stroke="#000" stroke-width="1.2"/>
<circle cx="460.9" cy="231.5" r="4.0" fill="#000000" stroke="#000" stroke-width="1.2"/>
<circle cx="447.0" cy="233.8" r="4.0" fill="#000000" stroke="#000" stroke-width="1.2"/>
<circle cx="468.4" cy="207.6" r="4.0" fill="#10e040" stroke="#000" stroke-width="1.2"/>
<circle cx="476.2" cy="206.9" r="4.0" fill="#00eaff" stroke="#000" stroke-width="1.2"/>
<circle cx="458.0" cy="212.0" r="4.0" fill="#ff6010" stroke="#000" stroke-width="1.2"/>
<circle cx="462.0" cy="213.0" r="4.0" fill="#ff6010" stroke="#000" stroke-width="1.2"/>
<circle cx="443.0" cy="216.0" r="4.0" fill="#f8c020" stroke="#000" stroke-width="1.2"/>
<circle cx="447.0" cy="215.0" r="4.0" fill="#f8c020" stroke="#000" stroke-width="1.2"/>
<circle cx="465.0" cy="218.0" r="4.0" fill="#c040c0" stroke="#000" stroke-width="1.2"/>
<circle cx="468.0" cy="220.0" r="4.0" fill="#f0a0c8" stroke="#000" stroke-width="1.2"/>
<circle cx="440.1" cy="222.7" r="4.0" fill="#1a78e0" stroke="#000" stroke-width="1.2"/>
<circle cx="461.8" cy="220.7" r="4.0" fill="#ff1080" stroke="#000" stroke-width="1.2"/>
<circle cx="444.0" cy="229.2" r="4.0" fill="#00eaff" stroke="#000" stroke-width="1.2"/>
<circle cx="440.8" cy="235.2" r="4.0" fill="#ff1818" stroke="#000" stroke-width="1.2"/>
<circle cx="449.0" cy="240.0" r="4.0" fill="#10e040" stroke="#000" stroke-width="1.2"/>
<circle cx="460.5" cy="243.0" r="4.0" fill="#00eaff" stroke="#000" stroke-width="1.2"/>
<circle cx="453.9" cy="252.2" r="4.0" fill="#1a78e0" stroke="#000" stroke-width="1.2"/>
<rect x="151.6" y="146.3" width="97.4" height="136.6" fill="none" stroke="#f7822c" stroke-width="1.4" />
<rect x="249" y="182.5" width="116.3" height="101" fill="none" stroke="#f7822c" stroke-width="1.4" />
<rect x="406.6" y="67.3" width="82.7" height="146.8" fill="none" stroke="#f7822c" stroke-width="1.4" />
<circle cx="122" cy="74.5" r="2.4" fill="#f07020" stroke="#a04010" stroke-width="0.6"/>
<circle cx="242" cy="142" r="2.4" fill="#f07020" stroke="#a04010" stroke-width="0.6"/>
<circle cx="384" cy="142.75" r="2.4" fill="#f07020" stroke="#a04010" stroke-width="0.6"/>
<circle cx="265" cy="171.25" r="2.4" fill="#f07020" stroke="#a04010" stroke-width="0.6"/>
<circle cx="222" cy="196.25" r="2.4" fill="#f07020" stroke="#a04010" stroke-width="0.6"/>
<circle cx="299" cy="199.25" r="2.4" fill="#f07020" stroke="#a04010" stroke-width="0.6"/>
<circle cx="189.5" cy="265.5" r="2.4" fill="#f07020" stroke="#a04010" stroke-width="0.6"/>
<text x="80.5" y="89" font-family="'Liberation Serif', serif" font-size="13" font-weight="bold" font-style="normal" fill="#000" stroke="#000" stroke-width="0.3" text-anchor="start" >Kokouna</text>
<text x="280.5" y="115.2" font-family="'Liberation Serif', serif" font-size="13" font-weight="bold" font-style="normal" fill="#000" stroke="#000" stroke-width="0.3" text-anchor="start" >Gemale</text>
<text x="213" y="140.5" font-family="'Liberation Serif', serif" font-size="13" font-weight="bold" font-style="normal" fill="#000" stroke="#000" stroke-width="0.3" text-anchor="start" >Zambufu</text>
<text x="355.2" y="138.5" font-family="'Liberation Serif', serif" font-size="12" font-weight="bold" font-style="normal" fill="#000" stroke="#000" stroke-width="0.3" text-anchor="start" >Gbugbu</text>
<text x="265.5" y="168.8" font-family="'Liberation Serif', serif" font-size="13" font-weight="bold" font-style="normal" fill="#000" stroke="#000" stroke-width="0.3" text-anchor="start" >Mashe</text>
<text x="319" y="180" font-family="'Liberation Serif', serif" font-size="13" font-weight="bold" font-style="normal" fill="#000" stroke="#000" stroke-width="0.3" text-anchor="start" >Ndeii</text>
<text x="204" y="196.2" font-family="'Liberation Serif', serif" font-size="13" font-weight="bold" font-style="normal" fill="#000" stroke="#000" stroke-width="0.3" text-anchor="start" >Bishewa</text>
<text x="287" y="211.2" font-family="'Liberation Serif', serif" font-size="13" font-weight="bold" font-style="normal" fill="#000" stroke="#000" stroke-width="0.3" text-anchor="start" >Lemo</text>
<text x="92" y="255" font-family="'Liberation Serif', serif" font-size="13" font-weight="bold" font-style="normal" fill="#000" stroke="#000" stroke-width="0.3" text-anchor="start" >Bankoe</text>
<text x="152" y="260" font-family="'Liberation Serif', serif" font-size="13" font-weight="bold" font-style="normal" fill="#000" stroke="#000" stroke-width="0.3" text-anchor="start" >Ologomo</text>
<text x="70.5" y="114" font-family="'Liberation Serif', serif" font-size="16" font-weight="bold" font-style="normal" fill="#1414e6" stroke="#1414e6" stroke-width="0.3" text-anchor="start" >Sp</text>
<text x="48.75" y="130.5" font-family="'Liberation Serif', serif" font-size="16" font-weight="bold" font-style="normal" fill="#1414e6" stroke="#1414e6" stroke-width="0.3" text-anchor="start" >Sp</text>
<text x="38" y="166.5" font-family="'Liberation Serif', serif" font-size="16" font-weight="bold" font-style="normal" fill="#1414e6" stroke="#1414e6" stroke-width="0.3" text-anchor="start" >Sp</text>
<text x="91.25" y="191.5" font-family="'Liberation Serif', serif" font-size="16" font-weight="bold" font-style="normal" fill="#1414e6" stroke="#1414e6" stroke-width="0.3" text-anchor="start" >Sp</text>
<text x="51.25" y="245" font-family="'Liberation Serif', serif" font-size="16" font-weight="bold" font-style="normal" fill="#1414e6" stroke="#1414e6" stroke-width="0.3" text-anchor="start" >Sp</text>
<text x="178" y="77.5" font-family="'Liberation Serif', serif" font-size="16" font-weight="bold" font-style="normal" fill="#1414e6" stroke="#1414e6" stroke-width="0.3" text-anchor="start" >Sp</text>
<text x="160" y="125.5" font-family="'Liberation Serif', serif" font-size="16" font-weight="bold" font-style="normal" fill="#1414e6" stroke="#1414e6" stroke-width="0.3" text-anchor="start" >Sp</text>
<text x="207.5" y="231.5" font-family="'Liberation Serif', serif" font-size="16" font-weight="bold" font-style="normal" fill="#1414e6" stroke="#1414e6" stroke-width="0.3" text-anchor="start" >Sp</text>
<text x="177.5" y="240" font-family="'Liberation Serif', serif" font-size="16" font-weight="bold" font-style="normal" fill="#1414e6" stroke="#1414e6" stroke-width="0.3" text-anchor="start" >Sp</text>
<text x="228.25" y="265" font-family="'Liberation Serif', serif" font-size="16" font-weight="bold" font-style="normal" fill="#1414e6" stroke="#1414e6" stroke-width="0.3" text-anchor="start" >Sp</text>
<text x="304.5" y="197.5" font-family="'Liberation Serif', serif" font-size="16" font-weight="bold" font-style="normal" fill="#1414e6" stroke="#1414e6" stroke-width="0.3" text-anchor="start" >Sp</text>
<text x="303.25" y="260" font-family="'Liberation Serif', serif" font-size="16" font-weight="bold" font-style="normal" fill="#1414e6" stroke="#1414e6" stroke-width="0.3" text-anchor="start" >Sp</text>
<text x="309" y="155.5" font-family="'Liberation Serif', serif" font-size="16" font-weight="bold" font-style="normal" fill="#1414e6" stroke="#1414e6" stroke-width="0.3" text-anchor="start" >Sp</text>
<text x="322.75" y="113" font-family="'Liberation Serif', serif" font-size="16" font-weight="bold" font-style="normal" fill="#1414e6" stroke="#1414e6" stroke-width="0.3" text-anchor="start" >Sp</text>
<text x="389.5" y="83" font-family="'Liberation Serif', serif" font-size="16" font-weight="bold" font-style="normal" fill="#1414e6" stroke="#1414e6" stroke-width="0.3" text-anchor="start" >Sp</text>
<text x="413.5" y="121.5" font-family="'Liberation Serif', serif" font-size="16" font-weight="bold" font-style="normal" fill="#1414e6" stroke="#1414e6" stroke-width="0.3" text-anchor="start" >Sp</text>
<text x="444" y="141.5" font-family="'Liberation Serif', serif" font-size="16" font-weight="bold" font-style="normal" fill="#1414e6" stroke="#1414e6" stroke-width="0.3" text-anchor="start" >Sp</text>
<text x="329" y="227.5" font-family="'Liberation Serif', serif" font-size="16" font-weight="bold" font-style="normal" fill="#1414e6" stroke="#1414e6" stroke-width="0.3" text-anchor="start" >Sp</text>
<text x="366.5" y="267.5" font-family="'Liberation Serif', serif" font-size="16" font-weight="bold" font-style="normal" fill="#1414e6" stroke="#1414e6" stroke-width="0.3" text-anchor="start" >Sp</text>
<text x="487.5" y="191.5" font-family="'Liberation Serif', serif" font-size="16" font-weight="bold" font-style="normal" fill="#1414e6" stroke="#1414e6" stroke-width="0.3" text-anchor="start" >Sp</text>
<text x="466.25" y="246.5" font-family="'Liberation Serif', serif" font-size="16" font-weight="bold" font-style="normal" fill="#1414e6" stroke="#1414e6" stroke-width="0.3" text-anchor="start" >Sp</text>
<rect x="15" y="44" width="496.5" height="264" fill="none" stroke="#262626" stroke-width="1.5" />
<line x1="39" y1="44" x2="39" y2="54" stroke="#262626" stroke-width="1.4" />
<line x1="136.5" y1="44" x2="136.5" y2="54" stroke="#262626" stroke-width="1.4" />
<line x1="235.5" y1="44" x2="235.5" y2="54" stroke="#262626" stroke-width="1.4" />
<line x1="334.7" y1="44" x2="334.7" y2="54" stroke="#262626" stroke-width="1.4" />
<line x1="432.2" y1="44" x2="432.2" y2="54" stroke="#262626" stroke-width="1.4" />
<line x1="36" y1="298" x2="36" y2="308" stroke="#262626" stroke-width="1.4" />
<line x1="134" y1="298" x2="134" y2="308" stroke="#262626" stroke-width="1.4" />
<line x1="232.5" y1="298" x2="232.5" y2="308" stroke="#262626" stroke-width="1.4" />
<line x1="331" y1="298" x2="331" y2="308" stroke="#262626" stroke-width="1.4" />
<line x1="429.75" y1="298" x2="429.75" y2="308" stroke="#262626" stroke-width="1.4" />
<line x1="15" y1="84.5" x2="26" y2="84.5" stroke="#262626" stroke-width="1.4" />
<line x1="15" y1="124.5" x2="26" y2="124.5" stroke="#262626" stroke-width="1.4" />
<line x1="15" y1="163.75" x2="26" y2="163.75" stroke="#262626" stroke-width="1.4" />
<line x1="15" y1="203.25" x2="26" y2="203.25" stroke="#262626" stroke-width="1.4" />
<line x1="15" y1="242" x2="26" y2="242" stroke="#262626" stroke-width="1.4" />
<line x1="15" y1="282" x2="26" y2="282" stroke="#262626" stroke-width="1.4" />
<line x1="501.5" y1="49" x2="511.5" y2="49" stroke="#262626" stroke-width="1.4" />
<line x1="501.5" y1="89" x2="511.5" y2="89" stroke="#262626" stroke-width="1.4" />
<line x1="501.5" y1="129" x2="511.5" y2="129" stroke="#262626" stroke-width="1.4" />
<line x1="501.5" y1="168" x2="511.5" y2="168" stroke="#262626" stroke-width="1.4" />
<line x1="501.5" y1="207.5" x2="511.5" y2="207.5" stroke="#262626" stroke-width="1.4" />
<line x1="501.5" y1="247" x2="511.5" y2="247" stroke="#262626" stroke-width="1.4" />
<line x1="501.5" y1="286.25" x2="511.5" y2="286.25" stroke="#262626" stroke-width="1.4" />
<text x="32" y="41.6" font-family="'Liberation Serif', serif" font-size="16" font-weight="bold" font-style="italic" fill="#000" stroke="#000" stroke-width="0.3" text-anchor="start" >5°</text>
<text x="123.9" y="41.6" font-family="'Liberation Serif', serif" font-size="16" font-weight="bold" font-style="italic" fill="#000" stroke="#000" stroke-width="0.3" text-anchor="start" >5°5′</text>
<text x="220" y="41.6" font-family="'Liberation Serif', serif" font-size="16" font-weight="bold" font-style="italic" fill="#000" stroke="#000" stroke-width="0.3" text-anchor="start" >5°10′</text>
<text x="317" y="41.6" font-family="'Liberation Serif', serif" font-size="16" font-weight="bold" font-style="italic" fill="#000" stroke="#000" stroke-width="0.3" text-anchor="start" >5°15′</text>
<text x="415" y="41.6" font-family="'Liberation Serif', serif" font-size="16" font-weight="bold" font-style="italic" fill="#000" stroke="#000" stroke-width="0.3" text-anchor="start" >5°20′</text>
<text x="30" y="325.5" font-family="'Liberation Serif', serif" font-size="16" font-weight="bold" font-style="italic" fill="#000" stroke="#000" stroke-width="0.3" text-anchor="start" >5°</text>
<text x="122" y="325.5" font-family="'Liberation Serif', serif" font-size="16" font-weight="bold" font-style="italic" fill="#000" stroke="#000" stroke-width="0.3" text-anchor="start" >5°5′</text>
<text x="216" y="325.5" font-family="'Liberation Serif', serif" font-size="16" font-weight="bold" font-style="italic" fill="#000" stroke="#000" stroke-width="0.3" text-anchor="start" >5°10′</text>
<text x="315" y="325.5" font-family="'Liberation Serif', serif" font-size="16" font-weight="bold" font-style="italic" fill="#000" stroke="#000" stroke-width="0.3" text-anchor="start" >5°15′</text>
<text x="414" y="325.5" font-family="'Liberation Serif', serif" font-size="16" font-weight="bold" font-style="italic" fill="#000" stroke="#000" stroke-width="0.3" text-anchor="start" >5°20′</text>
<text transform="translate(13.5,305) rotate(-90)" font-family="'Liberation Serif', serif" font-size="16" font-weight="bold" font-style="italic" stroke="#000" stroke-width="0.3" textLength="278" lengthAdjust="spacingAndGlyphs">8°40' 8°42' 8°44' 8°46' 8°48' 8°50' 8°52'</text>
<text transform="translate(514,33) rotate(90)" font-family="'Liberation Serif', serif" font-size="16" font-weight="bold" font-style="italic" stroke="#000" stroke-width="0.3" textLength="274" lengthAdjust="spacingAndGlyphs">8°52' 8°50' 8°48' 8°46' 8°44' 8°42' 8°40'</text>
<text x="210" y="341" font-family="'Liberation Serif', serif" font-size="12.6" font-weight="bold" font-style="normal" fill="#000" stroke="#000" stroke-width="0.3" text-anchor="start" >Depth (m)</text>
<rect x="7.50" y="358.3" width="12.15" height="16.0" fill="#0000f0"/>
<rect x="19.35" y="358.3" width="12.15" height="16.0" fill="#0a55d8"/>
<rect x="31.21" y="358.3" width="12.15" height="16.0" fill="#1a78e0"/>
<rect x="43.06" y="358.3" width="12.15" height="16.0" fill="#0ea0e8"/>
<rect x="54.92" y="358.3" width="12.15" height="16.0" fill="#10c8f0"/>
<rect x="66.77" y="358.3" width="12.15" height="16.0" fill="#00e0f8"/>
<rect x="78.62" y="358.3" width="12.15" height="16.0" fill="#00ffff"/>
<rect x="90.48" y="358.3" width="12.15" height="16.0" fill="#10f0d0"/>
<rect x="102.33" y="358.3" width="12.15" height="16.0" fill="#20e8a0"/>
<rect x="114.18" y="358.3" width="12.15" height="16.0" fill="#00e040"/>
<rect x="126.04" y="358.3" width="12.15" height="16.0" fill="#00e840"/>
<rect x="137.89" y="358.3" width="12.15" height="16.0" fill="#00f020"/>
<rect x="149.75" y="358.3" width="12.15" height="16.0" fill="#10f010"/>
<rect x="161.60" y="358.3" width="12.15" height="16.0" fill="#40f000"/>
<rect x="173.45" y="358.3" width="12.15" height="16.0" fill="#60e810"/>
<rect x="185.31" y="358.3" width="12.15" height="16.0" fill="#70e810"/>
<rect x="197.16" y="358.3" width="12.15" height="16.0" fill="#80e820"/>
<rect x="209.02" y="358.3" width="12.15" height="16.0" fill="#b0f020"/>
<rect x="220.87" y="358.3" width="12.15" height="16.0" fill="#c8f040"/>
<rect x="232.72" y="358.3" width="12.15" height="16.0" fill="#ffff30"/>
<rect x="244.58" y="358.3" width="12.15" height="16.0" fill="#f8e020"/>
<rect x="256.43" y="358.3" width="12.15" height="16.0" fill="#f8c820"/>
<rect x="268.28" y="358.3" width="12.15" height="16.0" fill="#f8a820"/>
<rect x="280.14" y="358.3" width="12.15" height="16.0" fill="#ffa810"/>
<rect x="291.99" y="358.3" width="12.15" height="16.0" fill="#ffa010"/>
<rect x="303.85" y="358.3" width="12.15" height="16.0" fill="#ff8810"/>
<rect x="315.70" y="358.3" width="12.15" height="16.0" fill="#ff8010"/>
<rect x="327.55" y="358.3" width="12.15" height="16.0" fill="#ff8010"/>
<rect x="339.41" y="358.3" width="12.15" height="16.0" fill="#ff7020"/>
<rect x="351.26" y="358.3" width="12.15" height="16.0" fill="#ff6010"/>
<rect x="363.12" y="358.3" width="12.15" height="16.0" fill="#f84010"/>
<rect x="374.97" y="358.3" width="12.15" height="16.0" fill="#ff2010"/>
<rect x="386.82" y="358.3" width="12.15" height="16.0" fill="#ff1010"/>
<rect x="398.68" y="358.3" width="12.15" height="16.0" fill="#ff1030"/>
<rect x="410.53" y="358.3" width="12.15" height="16.0" fill="#f81040"/>
<rect x="422.38" y="358.3" width="12.15" height="16.0" fill="#ff1080"/>
<rect x="434.24" y="358.3" width="12.15" height="16.0" fill="#ff1090"/>
<rect x="446.09" y="358.3" width="12.15" height="16.0" fill="#f090c0"/>
<rect x="457.95" y="358.3" width="12.15" height="16.0" fill="#f0a8c8"/>
<line x1="19.35" y1="358.3" x2="19.35" y2="374.3" stroke="#111" stroke-width="1" />
<line x1="43.06" y1="358.3" x2="43.06" y2="374.3" stroke="#111" stroke-width="1" />
<line x1="66.77" y1="358.3" x2="66.77" y2="374.3" stroke="#111" stroke-width="1" />
<line x1="90.48" y1="358.3" x2="90.48" y2="374.3" stroke="#111" stroke-width="1" />
<line x1="114.18" y1="358.3" x2="114.18" y2="374.3" stroke="#111" stroke-width="1" />
<line x1="137.89" y1="358.3" x2="137.89" y2="374.3" stroke="#111" stroke-width="1" />
<line x1="161.60" y1="358.3" x2="161.60" y2="374.3" stroke="#111" stroke-width="1" />
<line x1="185.31" y1="358.3" x2="185.31" y2="374.3" stroke="#111" stroke-width="1" />
<line x1="209.02" y1="358.3" x2="209.02" y2="374.3" stroke="#111" stroke-width="1" />
<line x1="232.72" y1="358.3" x2="232.72" y2="374.3" stroke="#111" stroke-width="1" />
<line x1="256.43" y1="358.3" x2="256.43" y2="374.3" stroke="#111" stroke-width="1" />
<line x1="280.14" y1="358.3" x2="280.14" y2="374.3" stroke="#111" stroke-width="1" />
<line x1="303.85" y1="358.3" x2="303.85" y2="374.3" stroke="#111" stroke-width="1" />
<line x1="327.55" y1="358.3" x2="327.55" y2="374.3" stroke="#111" stroke-width="1" />
<line x1="351.26" y1="358.3" x2="351.26" y2="374.3" stroke="#111" stroke-width="1" />
<line x1="374.97" y1="358.3" x2="374.97" y2="374.3" stroke="#111" stroke-width="1" />
<line x1="398.68" y1="358.3" x2="398.68" y2="374.3" stroke="#111" stroke-width="1" />
<line x1="422.38" y1="358.3" x2="422.38" y2="374.3" stroke="#111" stroke-width="1" />
<line x1="446.09" y1="358.3" x2="446.09" y2="374.3" stroke="#111" stroke-width="1" />
<rect x="7.5" y="358.3" width="462.3" height="16.0" fill="none" stroke="#111" stroke-width="1.2" />
<text x="19.7" y="355.8" font-family="'Liberation Serif', serif" font-size="13" font-weight="normal" font-style="normal" fill="#000" stroke="#000" stroke-width="0.3" text-anchor="middle" >-398</text>
<text x="43.4" y="355.8" font-family="'Liberation Serif', serif" font-size="13" font-weight="normal" font-style="normal" fill="#000" stroke="#000" stroke-width="0.3" text-anchor="middle" >-396</text>
<text x="67.1" y="355.8" font-family="'Liberation Serif', serif" font-size="13" font-weight="normal" font-style="normal" fill="#000" stroke="#000" stroke-width="0.3" text-anchor="middle" >-393</text>
<text x="90.8" y="355.8" font-family="'Liberation Serif', serif" font-size="13" font-weight="normal" font-style="normal" fill="#000" stroke="#000" stroke-width="0.3" text-anchor="middle" >-389</text>
<text x="114.5" y="355.8" font-family="'Liberation Serif', serif" font-size="13" font-weight="normal" font-style="normal" fill="#000" stroke="#000" stroke-width="0.3" text-anchor="middle" >-386</text>
<text x="138.1" y="355.8" font-family="'Liberation Serif', serif" font-size="13" font-weight="normal" font-style="normal" fill="#000" stroke="#000" stroke-width="0.3" text-anchor="middle" >-383</text>
<text x="161.8" y="355.8" font-family="'Liberation Serif', serif" font-size="13" font-weight="normal" font-style="normal" fill="#000" stroke="#000" stroke-width="0.3" text-anchor="middle" >-379</text>
<text x="185.5" y="355.8" font-family="'Liberation Serif', serif" font-size="13" font-weight="normal" font-style="normal" fill="#000" stroke="#000" stroke-width="0.3" text-anchor="middle" >-374</text>
<text x="209.2" y="355.8" font-family="'Liberation Serif', serif" font-size="13" font-weight="normal" font-style="normal" fill="#000" stroke="#000" stroke-width="0.3" text-anchor="middle" >-370</text>
<text x="232.9" y="355.8" font-family="'Liberation Serif', serif" font-size="13" font-weight="normal" font-style="normal" fill="#000" stroke="#000" stroke-width="0.3" text-anchor="middle" >-366</text>
<text x="256.6" y="355.8" font-family="'Liberation Serif', serif" font-size="13" font-weight="normal" font-style="normal" fill="#000" stroke="#000" stroke-width="0.3" text-anchor="middle" >-362</text>
<text x="280.3" y="355.8" font-family="'Liberation Serif', serif" font-size="13" font-weight="normal" font-style="normal" fill="#000" stroke="#000" stroke-width="0.3" text-anchor="middle" >-358</text>
<text x="304.0" y="355.8" font-family="'Liberation Serif', serif" font-size="13" font-weight="normal" font-style="normal" fill="#000" stroke="#000" stroke-width="0.3" text-anchor="middle" >-353</text>
<text x="327.7" y="355.8" font-family="'Liberation Serif', serif" font-size="13" font-weight="normal" font-style="normal" fill="#000" stroke="#000" stroke-width="0.3" text-anchor="middle" >-348</text>
<text x="351.4" y="355.8" font-family="'Liberation Serif', serif" font-size="13" font-weight="normal" font-style="normal" fill="#000" stroke="#000" stroke-width="0.3" text-anchor="middle" >-341</text>
<text x="375.0" y="355.8" font-family="'Liberation Serif', serif" font-size="13" font-weight="normal" font-style="normal" fill="#000" stroke="#000" stroke-width="0.3" text-anchor="middle" >-333</text>
<text x="398.7" y="355.8" font-family="'Liberation Serif', serif" font-size="13" font-weight="normal" font-style="normal" fill="#000" stroke="#000" stroke-width="0.3" text-anchor="middle" >-323</text>
<text x="422.4" y="355.8" font-family="'Liberation Serif', serif" font-size="13" font-weight="normal" font-style="normal" fill="#000" stroke="#000" stroke-width="0.3" text-anchor="middle" >-307</text>
<text x="446.1" y="355.8" font-family="'Liberation Serif', serif" font-size="13" font-weight="normal" font-style="normal" fill="#000" stroke="#000" stroke-width="0.3" text-anchor="middle" >-283</text>
<text x="476.8" y="333" font-family="'Liberation Serif', serif" font-size="11.4" font-weight="bold" font-style="normal" fill="#000" stroke="#000" stroke-width="0.3" text-anchor="start" >2500</text>
<text x="513" y="333" font-family="'Liberation Serif', serif" font-size="11.4" font-weight="bold" font-style="normal" fill="#000" stroke="#000" stroke-width="0.3" text-anchor="start" >0</text>
<text x="530.5" y="333" font-family="'Liberation Serif', serif" font-size="12" font-weight="bold" font-style="normal" fill="#000" stroke="#000" stroke-width="0.3" text-anchor="start" >2500</text>
<text x="556.8" y="333" font-family="'Liberation Serif', serif" font-size="12" font-weight="bold" font-style="normal" fill="#000" stroke="#000" stroke-width="0.3" text-anchor="start" >5000</text>
<text x="582.6" y="333" font-family="'Liberation Serif', serif" font-size="12" font-weight="bold" font-style="normal" fill="#000" stroke="#000" stroke-width="0.3" text-anchor="start" >7500</text>
<rect x="487.8" y="335" width="107.80000000000001" height="9" fill="#000"/>
<rect x="489.30" y="336.5" width="4.89" height="3.00" fill="#fff"/>
<rect x="494.69" y="339.50" width="4.89" height="3.00" fill="#fff"/>
<rect x="500.08" y="336.5" width="4.89" height="3.00" fill="#fff"/>
<rect x="505.47" y="339.50" width="4.89" height="3.00" fill="#fff"/>
<rect x="510.86" y="336.5" width="4.89" height="3.00" fill="#fff"/>
<rect x="514.75" y="339.50" width="25.95" height="3.00" fill="#fff"/>
<rect x="541.70" y="336.5" width="25.95" height="3.00" fill="#fff"/>
<rect x="568.65" y="339.50" width="25.95" height="3.00" fill="#fff"/>
<text x="520.7" y="359.2" font-family="'Liberation Serif', serif" font-size="11.8" font-weight="bold" font-style="normal" fill="#000" stroke="#000" stroke-width="0.3" text-anchor="start" >(meters)</text>
<text x="476.8" y="371.5" font-family="'Liberation Serif', serif" font-size="12" font-weight="bold" font-style="normal" fill="#000" stroke="#000" stroke-width="0.3" text-anchor="start" >WGS 84 / UTM zone 32N</text>
<line x1="549.7" y1="239.2" x2="549.7" y2="307" stroke="#222" stroke-width="1.1" />
<line x1="549.7" y1="298.5" x2="549.7" y2="307" stroke="#111" stroke-width="2.2" />
<path d="M549.7 242.7 Q553.7 246.2 552.9000000000001 247.7 L549.7 248.7" fill="none" stroke="#222" stroke-width="1"/>
<line x1="533.2" y1="271" x2="542.4" y2="271" stroke="#333" stroke-width="1.3" />
<line x1="558.5" y1="271" x2="567.7" y2="271" stroke="#333" stroke-width="1.3" />
<rect x="544.3" y="267.14" width="10.4" height="9.75" fill="#fff"/>
<text x="545.3" y="276.5" font-family="'Liberation Serif', serif" font-size="13" font-style="italic" fill="#fff" stroke="#222" stroke-width="0.8">N</text>
<text x="0.5" y="422" font-family="'Liberation Sans', sans-serif" font-size="20" font-weight="bold" font-style="normal" fill="#000" stroke="#000" stroke-width="0.3" text-anchor="start" >b</text>
<text x="38" y="426.5" font-family="'Liberation Serif', serif" font-size="16" font-weight="bold" font-style="normal" fill="#1414e6" stroke="#1414e6" stroke-width="0.3" text-anchor="start" >Sp</text>
<text x="74.7" y="426.5" font-family="'Liberation Serif', serif" font-size="16" font-weight="bold" font-style="normal" fill="#000" stroke="#000" stroke-width="0.3" text-anchor="start" >Sphere</text>
<rect x="240.4" y="411.2" width="11.7" height="17" rx="1.5" fill="none" stroke="#f7822c" stroke-width="1.6"/>
<text x="262" y="426.9" font-family="'Liberation Serif', serif" font-size="16" font-weight="bold" font-style="normal" fill="#000" stroke="#000" stroke-width="0.3" text-anchor="start" >Pegmatite rich zone</text>
<line x1="37.47" y1="467" x2="35.10" y2="704" stroke="#333" stroke-width="1.1" stroke-dasharray="1.1 3.8"/>
<line x1="136.87" y1="467" x2="134.60" y2="704" stroke="#333" stroke-width="1.1" stroke-dasharray="1.1 3.8"/>
<line x1="236.85" y1="465" x2="233.63" y2="704" stroke="#333" stroke-width="1.1" stroke-dasharray="1.1 3.8"/>
<line x1="336.65" y1="465" x2="334.59" y2="704" stroke="#333" stroke-width="1.1" stroke-dasharray="1.1 3.8"/>
<line x1="436.17" y1="465" x2="433.51" y2="704" stroke="#333" stroke-width="1.1" stroke-dasharray="1.1 3.8"/>
<line x1="27" y1="489.61" x2="500.29999999999995" y2="493.16" stroke="#555" stroke-width="1.1" stroke-dasharray="1.1 11.2"/>
<line x1="27" y1="529.61" x2="500.29999999999995" y2="533.40" stroke="#555" stroke-width="1.1" stroke-dasharray="1.1 11.2"/>
<line x1="27" y1="569.64" x2="500.29999999999995" y2="574.38" stroke="#555" stroke-width="1.1" stroke-dasharray="1.1 11.2"/>
<line x1="27" y1="609.64" x2="500.29999999999995" y2="614.38" stroke="#555" stroke-width="1.1" stroke-dasharray="1.1 11.2"/>
<line x1="27" y1="648.90" x2="500.29999999999995" y2="653.87" stroke="#555" stroke-width="1.1" stroke-dasharray="1.1 11.2"/>
<line x1="27" y1="688.90" x2="500.29999999999995" y2="693.87" stroke="#555" stroke-width="1.1" stroke-dasharray="1.1 11.2"/>

<circle cx="88.2" cy="497.2" r="4.0" fill="#000000" stroke="#000" stroke-width="1.2"/>
<circle cx="91.4" cy="498.9" r="4.0" fill="#000000" stroke="#000" stroke-width="1.2"/>
<circle cx="93.3" cy="499.0" r="4.0" fill="#000000" stroke="#000" stroke-width="1.2"/>
<circle cx="97.7" cy="499.5" r="4.0" fill="#000000" stroke="#000" stroke-width="1.2"/>
<circle cx="99.9" cy="500.7" r="4.0" fill="#000000" stroke="#000" stroke-width="1.2"/>
<circle cx="103.8" cy="502.6" r="4.0" fill="#000000" stroke="#000" stroke-width="1.2"/>
<circle cx="105.7" cy="503.6" r="4.0" fill="#000000" stroke="#000" stroke-width="1.2"/>
<circle cx="109.4" cy="504.9" r="4.0" fill="#00eaff" stroke="#000" stroke-width="1.2"/>
<circle cx="113.0" cy="505.6" r="4.0" fill="#000000" stroke="#000" stroke-width="1.2"/>
<circle cx="115.5" cy="507.3" r="4.0" fill="#000000" stroke="#000" stroke-width="1.2"/>
<circle cx="85.8" cy="501.7" r="4.0" fill="#000000" stroke="#000" stroke-width="1.2"/>
<circle cx="88.4" cy="502.5" r="4.0" fill="#000000" stroke="#000" stroke-width="1.2"/>
<circle cx="91.6" cy="503.4" r="4.0" fill="#000000" stroke="#000" stroke-width="1.2"/>
<circle cx="95.1" cy="504.6" r="4.0" fill="#000000" stroke="#000" stroke-width="1.2"/>
<circle cx="99.1" cy="505.4" r="4.0" fill="#000000" stroke="#000" stroke-width="1.2"/>
<circle cx="102.2" cy="506.8" r="4.0" fill="#000000" stroke="#000" stroke-width="1.2"/>
<circle cx="105.2" cy="508.7" r="4.0" fill="#000000" stroke="#000" stroke-width="1.2"/>
<circle cx="107.1" cy="509.6" r="4.0" fill="#000000" stroke="#000" stroke-width="1.2"/>
<circle cx="111.2" cy="510.5" r="4.0" fill="#000000" stroke="#000" stroke-width="1.2"/>
<circle cx="114.2" cy="512.5" r="4.0" fill="#000000" stroke="#000" stroke-width="1.2"/>
<circle cx="84.1" cy="506.8" r="4.0" fill="#000000" stroke="#000" stroke-width="1.2"/>
<circle cx="87.0" cy="508.4" r="4.0" fill="#000000" stroke="#000" stroke-width="1.2"/>
<circle cx="90.4" cy="508.9" r="4.0" fill="#000000" stroke="#000" stroke-width="1.2"/>
<circle cx="93.1" cy="510.0" r="4.0" fill="#000000" stroke="#000" stroke-width="1.2"/>
<circle cx="96.9" cy="510.7" r="4.0" fill="#000000" stroke="#000" stroke-width="1.2"/>
<circle cx="100.4" cy="511.2" r="4.0" fill="#000000" stroke="#000" stroke-width="1.2"/>
<circle cx="103.0" cy="513.1" r="4.0" fill="#000000" stroke="#000" stroke-width="1.2"/>
<circle cx="106.0" cy="514.3" r="4.0" fill="#000000" stroke="#000" stroke-width="1.2"/>
<circle cx="109.1" cy="515.5" r="4.0" fill="#000000" stroke="#000" stroke-width="1.2"/>
<circle cx="112.8" cy="517.0" r="4.0" fill="#000000" stroke="#000" stroke-width="1.2"/>
<circle cx="105.7" cy="509.8" r="4.0" fill="#000000" stroke="#000" stroke-width="1.2"/>
<circle cx="103.5" cy="509.6" r="4.0" fill="#000000" stroke="#000" stroke-width="1.2"/>
<circle cx="106.3" cy="511.3" r="4.0" fill="#000000" stroke="#000" stroke-width="1.2"/>
<circle cx="112.4" cy="515.1" r="4.0" fill="#000000" stroke="#000" stroke-width="1.2"/>
<circle cx="111.9" cy="515.3" r="4.0" fill="#000000" stroke="#000" stroke-width="1.2"/>
<circle cx="112.2" cy="514.4" r="4.0" fill="#000000" stroke="#000" stroke-width="1.2"/>
<circle cx="104.1" cy="513.1" r="4.0" fill="#000000" stroke="#000" stroke-width="1.2"/>
<circle cx="100.7" cy="514.9" r="4.0" fill="#1a78e0" stroke="#000" stroke-width="1.2"/>
<circle cx="108.1" cy="511.6" r="4.0" fill="#000000" stroke="#000" stroke-width="1.2"/>
<circle cx="105.4" cy="513.0" r="4.0" fill="#ffff30" stroke="#000" stroke-width="1.2"/>
<circle cx="103.7" cy="512.8" r="4.0" fill="#000000" stroke="#000" stroke-width="1.2"/>
<circle cx="103.7" cy="510.7" r="4.0" fill="#000000" stroke="#000" stroke-width="1.2"/>
<circle cx="111.0" cy="510.3" r="4.0" fill="#000000" stroke="#000" stroke-width="1.2"/>
<circle cx="106.0" cy="516.1" r="4.0" fill="#000000" stroke="#000" stroke-width="1.2"/>
<circle cx="80.9" cy="495.8" r="4.0" fill="#00eaff" stroke="#000" stroke-width="1.2"/>
<circle cx="86.0" cy="495.8" r="4.0" fill="#20e8b0" stroke="#000" stroke-width="1.2"/>
<circle cx="90.9" cy="495.1" r="4.0" fill="#10c0f0" stroke="#000" stroke-width="1.2"/>
<circle cx="95.5" cy="495.5" r="4.0" fill="#1428e8" stroke="#000" stroke-width="1.2"/>
<circle cx="100.6" cy="496.2" r="4.0" fill="#00eaff" stroke="#000" stroke-width="1.2"/>
<circle cx="104.2" cy="499.2" r="4.0" fill="#10e040" stroke="#000" stroke-width="1.2"/>
<circle cx="107.8" cy="502.0" r="4.0" fill="#00eaff" stroke="#000" stroke-width="1.2"/>
<circle cx="111.9" cy="504.8" r="4.0" fill="#1a78e0" stroke="#000" stroke-width="1.2"/>
<circle cx="116.5" cy="507.1" r="4.0" fill="#00eaff" stroke="#000" stroke-width="1.2"/>
<circle cx="120.6" cy="509.2" r="4.0" fill="#20e8b0" stroke="#000" stroke-width="1.2"/>
<circle cx="80.9" cy="496.1" r="4.0" fill="#00eaff" stroke="#000" stroke-width="1.2"/>
<circle cx="88.3" cy="495.3" r="4.0" fill="#20e8b0" stroke="#000" stroke-width="1.2"/>
<circle cx="94.2" cy="495.3" r="4.0" fill="#10c0f0" stroke="#000" stroke-width="1.2"/>
<circle cx="100.8" cy="496.1" r="4.0" fill="#1428e8" stroke="#000" stroke-width="1.2"/>
<circle cx="104.5" cy="499.0" r="4.0" fill="#10c0f0" stroke="#000" stroke-width="1.2"/>
<circle cx="110.5" cy="504.2" r="4.0" fill="#20e8b0" stroke="#000" stroke-width="1.2"/>
<circle cx="114.9" cy="506.4" r="4.0" fill="#00eaff" stroke="#000" stroke-width="1.2"/>
<circle cx="120.8" cy="509.4" r="4.0" fill="#1a78e0" stroke="#000" stroke-width="1.2"/>
<circle cx="116.8" cy="543.5" r="4.0" fill="#000000" stroke="#000" stroke-width="1.2"/>
<circle cx="118.3" cy="542.4" r="4.0" fill="#000000" stroke="#000" stroke-width="1.2"/>
<circle cx="113.2" cy="536.0" r="4.0" fill="#000000" stroke="#000" stroke-width="1.2"/>
<circle cx="113.8" cy="532.4" r="4.0" fill="#000000" stroke="#000" stroke-width="1.2"/>
<circle cx="112.9" cy="528.3" r="4.0" fill="#000000" stroke="#000" stroke-width="1.2"/>
<circle cx="111.3" cy="535.2" r="4.0" fill="#000000" stroke="#000" stroke-width="1.2"/>
<circle cx="112.9" cy="529.7" r="4.0" fill="#000000" stroke="#000" stroke-width="1.2"/>
<circle cx="114.6" cy="538.6" r="4.0" fill="#000000" stroke="#000" stroke-width="1.2"/>
<circle cx="115.0" cy="544.1" r="4.0" fill="#000000" stroke="#000" stroke-width="1.2"/>
<circle cx="109.7" cy="538.1" r="4.0" fill="#000000" stroke="#000" stroke-width="1.2"/>
<circle cx="116.3" cy="534.5" r="4.0" fill="#000000" stroke="#000" stroke-width="1.2"/>
<circle cx="108.2" cy="538.6" r="4.0" fill="#000000" stroke="#000" stroke-width="1.2"/>
<circle cx="115.7" cy="528.8" r="4.0" fill="#000000" stroke="#000" stroke-width="1.2"/>
<circle cx="112.7" cy="540.3" r="4.0" fill="#000000" stroke="#000" stroke-width="1.2"/>
<circle cx="115.5" cy="544.5" r="4.0" fill="#000000" stroke="#000" stroke-width="1.2"/>
<circle cx="114.8" cy="544.8" r="4.0" fill="#000000" stroke="#000" stroke-width="1.2"/>
<circle cx="116.1" cy="540.0" r="4.0" fill="#000000" stroke="#000" stroke-width="1.2"/>
<circle cx="112.9" cy="532.2" r="4.0" fill="#000000" stroke="#000" stroke-width="1.2"/>
<circle cx="120.8" cy="526.4" r="4.0" fill="#ff9010" stroke="#000" stroke-width="1.2"/>
<circle cx="113.0" cy="529.0" r="4.0" fill="#ff1080" stroke="#000" stroke-width="1.2"/>
<circle cx="109.0" cy="531.5" r="4.0" fill="#1428e8" stroke="#000" stroke-width="1.2"/>
<circle cx="117.8" cy="543.3" r="4.0" fill="#20e8b0" stroke="#000" stroke-width="1.2"/>
<circle cx="112.0" cy="546.0" r="4.0" fill="#1a78e0" stroke="#000" stroke-width="1.2"/>
<circle cx="141.7" cy="559.7" r="4.0" fill="#000000" stroke="#000" stroke-width="1.2"/>
<circle cx="147.2" cy="557.0" r="4.0" fill="#000000" stroke="#000" stroke-width="1.2"/>
<circle cx="141.2" cy="561.5" r="4.0" fill="#000000" stroke="#000" stroke-width="1.2"/>
<circle cx="148.0" cy="558.2" r="4.0" fill="#000000" stroke="#000" stroke-width="1.2"/>
<circle cx="141.0" cy="549.5" r="4.0" fill="#000000" stroke="#000" stroke-width="1.2"/>
<circle cx="140.6" cy="559.5" r="4.0" fill="#000000" stroke="#000" stroke-width="1.2"/>
<circle cx="126.0" cy="552.9" r="4.0" fill="#000000" stroke="#000" stroke-width="1.2"/>
<circle cx="124.2" cy="557.1" r="4.0" fill="#000000" stroke="#000" stroke-width="1.2"/>
<circle cx="148.0" cy="553.0" r="4.0" fill="#000000" stroke="#000" stroke-width="1.2"/>
<circle cx="133.6" cy="554.9" r="4.0" fill="#000000" stroke="#000" stroke-width="1.2"/>
<circle cx="140.1" cy="558.6" r="4.0" fill="#000000" stroke="#000" stroke-width="1.2"/>
<circle cx="142.5" cy="559.7" r="4.0" fill="#000000" stroke="#000" stroke-width="1.2"/>
<circle cx="133.4" cy="559.7" r="4.0" fill="#000000" stroke="#000" stroke-width="1.2"/>
<circle cx="145.1" cy="550.5" r="4.0" fill="#000000" stroke="#000" stroke-width="1.2"/>
<circle cx="124.7" cy="557.7" r="4.0" fill="#000000" stroke="#000" stroke-width="1.2"/>
<circle cx="143.3" cy="559.7" r="4.0" fill="#000000" stroke="#000" stroke-width="1.2"/>
<circle cx="149.8" cy="557.3" r="4.0" fill="#000000" stroke="#000" stroke-width="1.2"/>
<circle cx="134.6" cy="551.7" r="4.0" fill="#000000" stroke="#000" stroke-width="1.2"/>
<circle cx="150.1" cy="558.8" r="4.0" fill="#000000" stroke="#000" stroke-width="1.2"/>
<circle cx="129.7" cy="560.4" r="4.0" fill="#000000" stroke="#000" stroke-width="1.2"/>
<circle cx="150.8" cy="556.2" r="4.0" fill="#000000" stroke="#000" stroke-width="1.2"/>
<circle cx="135.3" cy="559.4" r="4.0" fill="#000000" stroke="#000" stroke-width="1.2"/>
<circle cx="138.4" cy="558.7" r="4.0" fill="#000000" stroke="#000" stroke-width="1.2"/>
<circle cx="129.2" cy="555.0" r="4.0" fill="#000000" stroke="#000" stroke-width="1.2"/>
<circle cx="135.0" cy="555.4" r="4.0" fill="#000000" stroke="#000" stroke-width="1.2"/>
<circle cx="146.1" cy="554.8" r="4.0" fill="#000000" stroke="#000" stroke-width="1.2"/>
<circle cx="153.2" cy="555.5" r="4.0" fill="#000000" stroke="#000" stroke-width="1.2"/>
<circle cx="130.4" cy="555.3" r="4.0" fill="#000000" stroke="#000" stroke-width="1.2"/>
<circle cx="140.9" cy="557.0" r="4.0" fill="#000000" stroke="#000" stroke-width="1.2"/>
<circle cx="135.8" cy="552.9" r="4.0" fill="#000000" stroke="#000" stroke-width="1.2"/>
<circle cx="136.7" cy="548.8" r="4.0" fill="#10e040" stroke="#000" stroke-width="1.2"/>
<circle cx="140.9" cy="546.9" r="4.0" fill="#50f000" stroke="#000" stroke-width="1.2"/>
<circle cx="145.1" cy="545.1" r="4.0" fill="#20e8b0" stroke="#000" stroke-width="1.2"/>
<circle cx="149.0" cy="544.0" r="4.0" fill="#10e040" stroke="#000" stroke-width="1.2"/>
<circle cx="153.5" cy="543.6" r="4.0" fill="#00eaff" stroke="#000" stroke-width="1.2"/>
<circle cx="157.4" cy="542.5" r="4.0" fill="#10e040" stroke="#000" stroke-width="1.2"/>
<circle cx="154.0" cy="543.3" r="4.0" fill="#00eaff" stroke="#000" stroke-width="1.2"/>
<circle cx="125.2" cy="553.0" r="4.0" fill="#1a78e0" stroke="#000" stroke-width="1.2"/>
<circle cx="130.0" cy="554.0" r="4.0" fill="#10e040" stroke="#000" stroke-width="1.2"/>
<circle cx="148.9" cy="555.9" r="4.0" fill="#ff1080" stroke="#000" stroke-width="1.2"/>
<circle cx="140.0" cy="560.0" r="4.0" fill="#000000" stroke="#000" stroke-width="1.2"/>
<circle cx="51.9" cy="551.1" r="4.0" fill="#000000" stroke="#000" stroke-width="1.2"/>
<circle cx="51.3" cy="555.3" r="4.0" fill="#000000" stroke="#000" stroke-width="1.2"/>
<circle cx="50.2" cy="531.4" r="4.0" fill="#000000" stroke="#000" stroke-width="1.2"/>
<circle cx="48.0" cy="562.7" r="4.0" fill="#000000" stroke="#000" stroke-width="1.2"/>
<circle cx="54.3" cy="549.4" r="4.0" fill="#000000" stroke="#000" stroke-width="1.2"/>
<circle cx="48.0" cy="545.4" r="4.0" fill="#000000" stroke="#000" stroke-width="1.2"/>
<circle cx="50.3" cy="537.5" r="4.0" fill="#000000" stroke="#000" stroke-width="1.2"/>
<circle cx="48.4" cy="531.3" r="4.0" fill="#000000" stroke="#000" stroke-width="1.2"/>
<circle cx="54.7" cy="546.3" r="4.0" fill="#000000" stroke="#000" stroke-width="1.2"/>
<circle cx="47.2" cy="544.3" r="4.0" fill="#000000" stroke="#000" stroke-width="1.2"/>
<circle cx="49.0" cy="543.1" r="4.0" fill="#000000" stroke="#000" stroke-width="1.2"/>
<circle cx="52.9" cy="549.6" r="4.0" fill="#000000" stroke="#000" stroke-width="1.2"/>
<circle cx="47.1" cy="530.8" r="4.0" fill="#000000" stroke="#000" stroke-width="1.2"/>
<circle cx="51.2" cy="533.4" r="4.0" fill="#000000" stroke="#000" stroke-width="1.2"/>
<circle cx="47.5" cy="546.2" r="4.0" fill="#000000" stroke="#000" stroke-width="1.2"/>
<circle cx="49.6" cy="550.1" r="4.0" fill="#000000" stroke="#000" stroke-width="1.2"/>
<circle cx="51.0" cy="530.8" r="4.0" fill="#000000" stroke="#000" stroke-width="1.2"/>
<circle cx="47.0" cy="556.0" r="4.0" fill="#000000" stroke="#000" stroke-width="1.2"/>
<circle cx="45.7" cy="544.7" r="4.0" fill="#000000" stroke="#000" stroke-width="1.2"/>
<circle cx="47.8" cy="533.5" r="4.0" fill="#000000" stroke="#000" stroke-width="1.2"/>
<circle cx="50.9" cy="529.3" r="4.0" fill="#000000" stroke="#000" stroke-width="1.2"/>
<circle cx="51.4" cy="538.4" r="4.0" fill="#000000" stroke="#000" stroke-width="1.2"/>
<circle cx="45.7" cy="539.3" r="4.0" fill="#000000" stroke="#000" stroke-width="1.2"/>
<circle cx="54.3" cy="538.7" r="4.0" fill="#000000" stroke="#000" stroke-width="1.2"/>
<circle cx="48.4" cy="535.8" r="4.0" fill="#000000" stroke="#000" stroke-width="1.2"/>
<circle cx="50.4" cy="535.0" r="4.0" fill="#000000" stroke="#000" stroke-width="1.2"/>
<circle cx="52.3" cy="543.1" r="4.0" fill="#000000" stroke="#000" stroke-width="1.2"/>
<circle cx="51.1" cy="531.1" r="4.0" fill="#000000" stroke="#000" stroke-width="1.2"/>
<circle cx="47.5" cy="550.7" r="4.0" fill="#000000" stroke="#000" stroke-width="1.2"/>
<circle cx="46.1" cy="534.8" r="4.0" fill="#000000" stroke="#000" stroke-width="1.2"/>
<circle cx="46.8" cy="547.9" r="4.0" fill="#000000" stroke="#000" stroke-width="1.2"/>
<circle cx="52.2" cy="557.1" r="4.0" fill="#000000" stroke="#000" stroke-width="1.2"/>
<circle cx="47.3" cy="554.0" r="4.0" fill="#000000" stroke="#000" stroke-width="1.2"/>
<circle cx="47.4" cy="562.2" r="4.0" fill="#000000" stroke="#000" stroke-width="1.2"/>
<circle cx="52.5" cy="538.2" r="4.0" fill="#000000" stroke="#000" stroke-width="1.2"/>
<circle cx="50.1" cy="554.8" r="4.0" fill="#000000" stroke="#000" stroke-width="1.2"/>
<circle cx="61.3" cy="529.9" r="4.0" fill="#10e040" stroke="#000" stroke-width="1.2"/>
<circle cx="59.8" cy="533.0" r="4.0" fill="#50f000" stroke="#000" stroke-width="1.2"/>
<circle cx="59.4" cy="536.8" r="4.0" fill="#b0f020" stroke="#000" stroke-width="1.2"/>
<circle cx="59.2" cy="539.7" r="4.0" fill="#10e040" stroke="#000" stroke-width="1.2"/>
<circle cx="60.1" cy="543.2" r="4.0" fill="#20e8b0" stroke="#000" stroke-width="1.2"/>
<circle cx="61.2" cy="546.3" r="4.0" fill="#50f000" stroke="#000" stroke-width="1.2"/>
<circle cx="62.1" cy="549.3" r="4.0" fill="#10e040" stroke="#000" stroke-width="1.2"/>
<circle cx="63.0" cy="552.9" r="4.0" fill="#50f000" stroke="#000" stroke-width="1.2"/>
<circle cx="64.1" cy="556.4" r="4.0" fill="#b0f020" stroke="#000" stroke-width="1.2"/>
<circle cx="50.7" cy="526.2" r="4.0" fill="#ff6010" stroke="#000" stroke-width="1.2"/>
<circle cx="54.0" cy="525.0" r="4.0" fill="#10e040" stroke="#000" stroke-width="1.2"/>
<circle cx="57.0" cy="526.0" r="4.0" fill="#50f000" stroke="#000" stroke-width="1.2"/>
<circle cx="61.9" cy="527.8" r="4.0" fill="#00eaff" stroke="#000" stroke-width="1.2"/>
<circle cx="47.5" cy="537.3" r="4.0" fill="#1a78e0" stroke="#000" stroke-width="1.2"/>
<circle cx="52.3" cy="549.3" r="4.0" fill="#c040c0" stroke="#000" stroke-width="1.2"/>
<circle cx="42.6" cy="556.7" r="4.0" fill="#000000" stroke="#000" stroke-width="1.2"/>
<circle cx="45.9" cy="564.3" r="4.0" fill="#000000" stroke="#000" stroke-width="1.2"/>
<circle cx="39.9" cy="562.8" r="4.0" fill="#000000" stroke="#000" stroke-width="1.2"/>
<circle cx="42.7" cy="563.7" r="4.0" fill="#000000" stroke="#000" stroke-width="1.2"/>
<circle cx="42.0" cy="557.0" r="4.0" fill="#1a78e0" stroke="#000" stroke-width="1.2"/>
<circle cx="45.9" cy="559.1" r="4.0" fill="#000000" stroke="#000" stroke-width="1.2"/>
<circle cx="44.2" cy="560.8" r="4.0" fill="#000000" stroke="#000" stroke-width="1.2"/>
<circle cx="41.5" cy="557.6" r="4.0" fill="#000000" stroke="#000" stroke-width="1.2"/>
<circle cx="40.0" cy="563.0" r="4.0" fill="#20e8b0" stroke="#000" stroke-width="1.2"/>
<circle cx="44.0" cy="558.0" r="4.0" fill="#50f000" stroke="#000" stroke-width="1.2"/>
<circle cx="39.0" cy="566.0" r="4.0" fill="#f0a0c8" stroke="#000" stroke-width="1.2"/>
<circle cx="62.0" cy="565.3" r="4.0" fill="#000000" stroke="#000" stroke-width="1.2"/>
<circle cx="62.0" cy="569.1" r="4.0" fill="#000000" stroke="#000" stroke-width="1.2"/>
<circle cx="65.8" cy="573.7" r="4.0" fill="#20e8b0" stroke="#000" stroke-width="1.2"/>
<circle cx="64.2" cy="574.4" r="4.0" fill="#000000" stroke="#000" stroke-width="1.2"/>
<circle cx="64.5" cy="570.0" r="4.0" fill="#000000" stroke="#000" stroke-width="1.2"/>
<circle cx="66.7" cy="569.6" r="4.0" fill="#000000" stroke="#000" stroke-width="1.2"/>
<circle cx="62.1" cy="569.2" r="4.0" fill="#000000" stroke="#000" stroke-width="1.2"/>
<circle cx="60.5" cy="570.8" r="4.0" fill="#ff1818" stroke="#000" stroke-width="1.2"/>
<circle cx="69.3" cy="566.9" r="4.0" fill="#00eaff" stroke="#000" stroke-width="1.2"/>
<circle cx="66.4" cy="570.1" r="4.0" fill="#ff1818" stroke="#000" stroke-width="1.2"/>
<circle cx="63.6" cy="572.8" r="4.0" fill="#ff1080" stroke="#000" stroke-width="1.2"/>
<circle cx="61.0" cy="575.6" r="4.0" fill="#10e040" stroke="#000" stroke-width="1.2"/>
<circle cx="57.7" cy="577.3" r="4.0" fill="#00eaff" stroke="#000" stroke-width="1.2"/>
<circle cx="54.6" cy="579.2" r="4.0" fill="#ff1818" stroke="#000" stroke-width="1.2"/>
<circle cx="51.2" cy="580.9" r="4.0" fill="#ff1080" stroke="#000" stroke-width="1.2"/>
<circle cx="66.7" cy="564.4" r="4.0" fill="#10c0f0" stroke="#000" stroke-width="1.2"/>
<circle cx="61.9" cy="575.6" r="4.0" fill="#ff1818" stroke="#000" stroke-width="1.2"/>
<circle cx="53.9" cy="576.4" r="4.0" fill="#ff1080" stroke="#000" stroke-width="1.2"/>
<circle cx="51.5" cy="580.4" r="4.0" fill="#10e040" stroke="#000" stroke-width="1.2"/>
<circle cx="52.2" cy="599.2" r="4.0" fill="#000000" stroke="#000" stroke-width="1.2"/>
<circle cx="46.2" cy="609.0" r="4.0" fill="#000000" stroke="#000" stroke-width="1.2"/>
<circle cx="47.2" cy="614.6" r="4.0" fill="#000000" stroke="#000" stroke-width="1.2"/>
<circle cx="50.2" cy="619.9" r="4.0" fill="#000000" stroke="#000" stroke-width="1.2"/>
<circle cx="61.3" cy="617.0" r="4.0" fill="#000000" stroke="#000" stroke-width="1.2"/>
<circle cx="47.6" cy="606.9" r="4.0" fill="#000000" stroke="#000" stroke-width="1.2"/>
<circle cx="55.6" cy="604.9" r="4.0" fill="#000000" stroke="#000" stroke-width="1.2"/>
<circle cx="46.1" cy="604.1" r="4.0" fill="#000000" stroke="#000" stroke-width="1.2"/>
<circle cx="51.6" cy="609.3" r="4.0" fill="#000000" stroke="#000" stroke-width="1.2"/>
<circle cx="52.7" cy="597.1" r="4.0" fill="#000000" stroke="#000" stroke-width="1.2"/>
<circle cx="56.1" cy="602.5" r="4.0" fill="#000000" stroke="#000" stroke-width="1.2"/>
<circle cx="61.3" cy="607.9" r="4.0" fill="#000000" stroke="#000" stroke-width="1.2"/>
<circle cx="51.3" cy="618.7" r="4.0" fill="#000000" stroke="#000" stroke-width="1.2"/>
<circle cx="63.3" cy="605.2" r="4.0" fill="#000000" stroke="#000" stroke-width="1.2"/>
<circle cx="60.4" cy="614.1" r="4.0" fill="#000000" stroke="#000" stroke-width="1.2"/>
<circle cx="58.3" cy="595.4" r="4.0" fill="#000000" stroke="#000" stroke-width="1.2"/>
<circle cx="56.1" cy="612.8" r="4.0" fill="#000000" stroke="#000" stroke-width="1.2"/>
<circle cx="53.8" cy="601.5" r="4.0" fill="#000000" stroke="#000" stroke-width="1.2"/>
<circle cx="58.8" cy="595.1" r="4.0" fill="#000000" stroke="#000" stroke-width="1.2"/>
<circle cx="48.3" cy="613.7" r="4.0" fill="#000000" stroke="#000" stroke-width="1.2"/>
<circle cx="59.6" cy="596.9" r="4.0" fill="#000000" stroke="#000" stroke-width="1.2"/>
<circle cx="53.4" cy="596.8" r="4.0" fill="#000000" stroke="#000" stroke-width="1.2"/>
<circle cx="52.9" cy="614.2" r="4.0" fill="#000000" stroke="#000" stroke-width="1.2"/>
<circle cx="56.3" cy="605.1" r="4.0" fill="#000000" stroke="#000" stroke-width="1.2"/>
<circle cx="49.7" cy="603.5" r="4.0" fill="#000000" stroke="#000" stroke-width="1.2"/>
<circle cx="55.9" cy="620.3" r="4.0" fill="#000000" stroke="#000" stroke-width="1.2"/>
<circle cx="50.0" cy="593.6" r="4.0" fill="#000000" stroke="#000" stroke-width="1.2"/>
<circle cx="55.6" cy="621.5" r="4.0" fill="#000000" stroke="#000" stroke-width="1.2"/>
<circle cx="57.8" cy="613.0" r="4.0" fill="#000000" stroke="#000" stroke-width="1.2"/>
<circle cx="63.5" cy="604.1" r="4.0" fill="#000000" stroke="#000" stroke-width="1.2"/>
<circle cx="52.1" cy="619.5" r="4.0" fill="#000000" stroke="#000" stroke-width="1.2"/>
<circle cx="46.9" cy="617.1" r="4.0" fill="#000000" stroke="#000" stroke-width="1.2"/>
<circle cx="55.0" cy="594.7" r="4.0" fill="#000000" stroke="#000" stroke-width="1.2"/>
<circle cx="46.6" cy="597.5" r="4.0" fill="#000000" stroke="#000" stroke-width="1.2"/>
<circle cx="49.2" cy="616.3" r="4.0" fill="#000000" stroke="#000" stroke-width="1.2"/>
<circle cx="55.3" cy="608.2" r="4.0" fill="#000000" stroke="#000" stroke-width="1.2"/>
<circle cx="61.0" cy="617.8" r="4.0" fill="#000000" stroke="#000" stroke-width="1.2"/>
<circle cx="45.6" cy="610.7" r="4.0" fill="#000000" stroke="#000" stroke-width="1.2"/>
<circle cx="44.1" cy="606.7" r="4.0" fill="#000000" stroke="#000" stroke-width="1.2"/>
<circle cx="52.5" cy="605.4" r="4.0" fill="#000000" stroke="#000" stroke-width="1.2"/>
<circle cx="47.2" cy="609.3" r="4.0" fill="#000000" stroke="#000" stroke-width="1.2"/>
<circle cx="63.0" cy="600.9" r="4.0" fill="#000000" stroke="#000" stroke-width="1.2"/>
<circle cx="54.9" cy="618.8" r="4.0" fill="#000000" stroke="#000" stroke-width="1.2"/>
<circle cx="52.0" cy="622.5" r="4.0" fill="#000000" stroke="#000" stroke-width="1.2"/>
<circle cx="52.9" cy="599.6" r="4.0" fill="#000000" stroke="#000" stroke-width="1.2"/>
<circle cx="55.9" cy="599.3" r="4.0" fill="#000000" stroke="#000" stroke-width="1.2"/>
<circle cx="59.0" cy="604.6" r="4.0" fill="#000000" stroke="#000" stroke-width="1.2"/>
<circle cx="58.8" cy="613.5" r="4.0" fill="#ff1080" stroke="#000" stroke-width="1.2"/>
<circle cx="55.4" cy="621.7" r="4.0" fill="#ff6010" stroke="#000" stroke-width="1.2"/>
<circle cx="59.6" cy="604.8" r="4.0" fill="#10c0f0" stroke="#000" stroke-width="1.2"/>
<circle cx="61.9" cy="589.2" r="4.0" fill="#ff1818" stroke="#000" stroke-width="1.2"/>
<circle cx="68.3" cy="589.2" r="4.0" fill="#ff6010" stroke="#000" stroke-width="1.2"/>
<circle cx="65.0" cy="590.0" r="4.0" fill="#ff1818" stroke="#000" stroke-width="1.2"/>
<circle cx="71.5" cy="596.3" r="4.0" fill="#1a78e0" stroke="#000" stroke-width="1.2"/>
<circle cx="70.1" cy="598.9" r="4.0" fill="#10e040" stroke="#000" stroke-width="1.2"/>
<circle cx="69.7" cy="602.2" r="4.0" fill="#50f000" stroke="#000" stroke-width="1.2"/>
<circle cx="69.0" cy="605.0" r="4.0" fill="#20e8b0" stroke="#000" stroke-width="1.2"/>
<circle cx="68.5" cy="608.1" r="4.0" fill="#10e040" stroke="#000" stroke-width="1.2"/>
<circle cx="67.2" cy="611.7" r="4.0" fill="#b0f020" stroke="#000" stroke-width="1.2"/>
<circle cx="66.8" cy="614.8" r="4.0" fill="#10e040" stroke="#000" stroke-width="1.2"/>
<circle cx="65.9" cy="617.9" r="4.0" fill="#50f000" stroke="#000" stroke-width="1.2"/>
<circle cx="64.7" cy="620.1" r="4.0" fill="#20e8b0" stroke="#000" stroke-width="1.2"/>
<circle cx="62.3" cy="622.4" r="4.0" fill="#10e040" stroke="#000" stroke-width="1.2"/>
<circle cx="59.9" cy="625.3" r="4.0" fill="#b0f020" stroke="#000" stroke-width="1.2"/>
<circle cx="47.5" cy="599.5" r="4.0" fill="#c040c0" stroke="#000" stroke-width="1.2"/>
<circle cx="54.0" cy="612.3" r="4.0" fill="#ff1080" stroke="#000" stroke-width="1.2"/>
<circle cx="57.0" cy="623.0" r="4.0" fill="#f8c020" stroke="#000" stroke-width="1.2"/>
<circle cx="53.1" cy="629.0" r="4.0" fill="#10c0f0" stroke="#000" stroke-width="1.2"/>
<circle cx="50.7" cy="633.0" r="4.0" fill="#10e040" stroke="#000" stroke-width="1.2"/>
<circle cx="87.5" cy="610.7" r="4.0" fill="#00eaff" stroke="#000" stroke-width="1.2"/>
<circle cx="87.0" cy="615.0" r="4.0" fill="#50f000" stroke="#000" stroke-width="1.2"/>
<circle cx="86.5" cy="619.1" r="4.0" fill="#20e8b0" stroke="#000" stroke-width="1.2"/>
<circle cx="86.2" cy="623.6" r="4.0" fill="#f8c020" stroke="#000" stroke-width="1.2"/>
<circle cx="84.7" cy="627.7" r="4.0" fill="#1428e8" stroke="#000" stroke-width="1.2"/>
<circle cx="82.7" cy="631.3" r="4.0" fill="#00eaff" stroke="#000" stroke-width="1.2"/>
<circle cx="79.4" cy="634.6" r="4.0" fill="#10c0f0" stroke="#000" stroke-width="1.2"/>
<circle cx="82.6" cy="631.4" r="4.0" fill="#1428e8" stroke="#000" stroke-width="1.2"/>
<circle cx="68.7" cy="640.7" r="4.0" fill="#f8c020" stroke="#000" stroke-width="1.2"/>
<circle cx="71.0" cy="643.0" r="4.0" fill="#10e040" stroke="#000" stroke-width="1.2"/>
<circle cx="68.7" cy="640.4" r="4.0" fill="#f8c020" stroke="#000" stroke-width="1.2"/>
<circle cx="70.0" cy="645.5" r="4.0" fill="#10e040" stroke="#000" stroke-width="1.2"/>
<circle cx="70.8" cy="649.6" r="4.0" fill="#ff1080" stroke="#000" stroke-width="1.2"/>
<circle cx="67.2" cy="652.8" r="4.0" fill="#10e040" stroke="#000" stroke-width="1.2"/>
<circle cx="64.1" cy="656.0" r="4.0" fill="#f8c020" stroke="#000" stroke-width="1.2"/>
<circle cx="60.7" cy="659.6" r="4.0" fill="#f0a0c8" stroke="#000" stroke-width="1.2"/>
<circle cx="57.0" cy="662.2" r="4.0" fill="#10e040" stroke="#000" stroke-width="1.2"/>
<circle cx="52.3" cy="663.5" r="4.0" fill="#50f000" stroke="#000" stroke-width="1.2"/>
<circle cx="66.3" cy="648.0" r="4.0" fill="#ff1080" stroke="#000" stroke-width="1.2"/>
<circle cx="71.2" cy="648.9" r="4.0" fill="#50f000" stroke="#000" stroke-width="1.2"/>
<circle cx="62.2" cy="654.6" r="4.0" fill="#f0a0c8" stroke="#000" stroke-width="1.2"/>
<circle cx="63.0" cy="657.1" r="4.0" fill="#10e040" stroke="#000" stroke-width="1.2"/>
<circle cx="58.1" cy="662.0" r="4.0" fill="#50f000" stroke="#000" stroke-width="1.2"/>
<circle cx="52.3" cy="663.7" r="4.0" fill="#00eaff" stroke="#000" stroke-width="1.2"/>
<circle cx="127.1" cy="652.7" r="4.0" fill="#000000" stroke="#000" stroke-width="1.2"/>
<circle cx="131.1" cy="650.8" r="4.0" fill="#10c0f0" stroke="#000" stroke-width="1.2"/>
<circle cx="112.6" cy="650.2" r="4.0" fill="#000000" stroke="#000" stroke-width="1.2"/>
<circle cx="111.6" cy="649.7" r="4.0" fill="#000000" stroke="#000" stroke-width="1.2"/>
<circle cx="104.7" cy="646.7" r="4.0" fill="#000000" stroke="#000" stroke-width="1.2"/>
<circle cx="111.1" cy="648.3" r="4.0" fill="#000000" stroke="#000" stroke-width="1.2"/>
<circle cx="124.7" cy="648.3" r="4.0" fill="#000000" stroke="#000" stroke-width="1.2"/>
<circle cx="110.9" cy="649.0" r="4.0" fill="#000000" stroke="#000" stroke-width="1.2"/>
<circle cx="103.5" cy="651.0" r="4.0" fill="#000000" stroke="#000" stroke-width="1.2"/>
<circle cx="113.0" cy="646.8" r="4.0" fill="#000000" stroke="#000" stroke-width="1.2"/>
<circle cx="115.4" cy="648.9" r="4.0" fill="#000000" stroke="#000" stroke-width="1.2"/>
<circle cx="104.7" cy="652.4" r="4.0" fill="#000000" stroke="#000" stroke-width="1.2"/>
<circle cx="116.9" cy="654.0" r="4.0" fill="#000000" stroke="#000" stroke-width="1.2"/>
<circle cx="109.7" cy="650.3" r="4.0" fill="#000000" stroke="#000" stroke-width="1.2"/>
<circle cx="112.5" cy="649.3" r="4.0" fill="#000000" stroke="#000" stroke-width="1.2"/>
<circle cx="124.1" cy="649.8" r="4.0" fill="#000000" stroke="#000" stroke-width="1.2"/>
<circle cx="119.7" cy="645.6" r="4.0" fill="#000000" stroke="#000" stroke-width="1.2"/>
<circle cx="115.8" cy="649.0" r="4.0" fill="#000000" stroke="#000" stroke-width="1.2"/>
<circle cx="131.1" cy="649.3" r="4.0" fill="#000000" stroke="#000" stroke-width="1.2"/>
<circle cx="123.9" cy="650.7" r="4.0" fill="#000000" stroke="#000" stroke-width="1.2"/>
<circle cx="118.6" cy="654.0" r="4.0" fill="#000000" stroke="#000" stroke-width="1.2"/>
<circle cx="105.5" cy="646.3" r="4.0" fill="#000000" stroke="#000" stroke-width="1.2"/>
<circle cx="117.3" cy="650.6" r="4.0" fill="#000000" stroke="#000" stroke-width="1.2"/>
<circle cx="129.3" cy="653.0" r="4.0" fill="#000000" stroke="#000" stroke-width="1.2"/>
<circle cx="121.9" cy="654.1" r="4.0" fill="#000000" stroke="#000" stroke-width="1.2"/>
<circle cx="110.5" cy="649.9" r="4.0" fill="#000000" stroke="#000" stroke-width="1.2"/>
<circle cx="100.5" cy="650.4" r="4.0" fill="#1428e8" stroke="#000" stroke-width="1.2"/>
<circle cx="104.8" cy="649.5" r="4.0" fill="#10c0f0" stroke="#000" stroke-width="1.2"/>
<circle cx="108.9" cy="648.0" r="4.0" fill="#10c0f0" stroke="#000" stroke-width="1.2"/>
<circle cx="112.4" cy="645.9" r="4.0" fill="#f0a0c8" stroke="#000" stroke-width="1.2"/>
<circle cx="116.3" cy="645.9" r="4.0" fill="#1428e8" stroke="#000" stroke-width="1.2"/>
<circle cx="120.3" cy="645.8" r="4.0" fill="#50f000" stroke="#000" stroke-width="1.2"/>
<circle cx="124.7" cy="646.1" r="4.0" fill="#000000" stroke="#000" stroke-width="1.2"/>
<circle cx="128.8" cy="647.7" r="4.0" fill="#ff6010" stroke="#000" stroke-width="1.2"/>
<circle cx="132.5" cy="651.1" r="4.0" fill="#000000" stroke="#000" stroke-width="1.2"/>
<circle cx="100.8" cy="651.3" r="4.0" fill="#1428e8" stroke="#000" stroke-width="1.2"/>
<circle cx="106.0" cy="649.0" r="4.0" fill="#20e8b0" stroke="#000" stroke-width="1.2"/>
<circle cx="121.3" cy="645.6" r="4.0" fill="#10c0f0" stroke="#000" stroke-width="1.2"/>
<circle cx="127.0" cy="647.2" r="4.0" fill="#1a78e0" stroke="#000" stroke-width="1.2"/>
<circle cx="132.0" cy="650.5" r="4.0" fill="#1a78e0" stroke="#000" stroke-width="1.2"/>
<circle cx="313.5" cy="532.0" r="4.0" fill="#10e040" stroke="#000" stroke-width="1.2"/>
<circle cx="313.5" cy="534.6" r="4.0" fill="#10e040" stroke="#000" stroke-width="1.2"/>
<circle cx="313.5" cy="537.2" r="4.0" fill="#10e040" stroke="#000" stroke-width="1.2"/>
<circle cx="313.5" cy="539.8" r="4.0" fill="#10e040" stroke="#000" stroke-width="1.2"/>
<circle cx="313.5" cy="542.4" r="4.0" fill="#10e040" stroke="#000" stroke-width="1.2"/>
<circle cx="313.5" cy="545.0" r="4.0" fill="#10e040" stroke="#000" stroke-width="1.2"/>
<circle cx="313.5" cy="547.6" r="4.0" fill="#50f000" stroke="#000" stroke-width="1.2"/>
<circle cx="313.5" cy="550.2" r="4.0" fill="#20e8b0" stroke="#000" stroke-width="1.2"/>
<circle cx="313.5" cy="552.8" r="4.0" fill="#10e040" stroke="#000" stroke-width="1.2"/>
<circle cx="313.5" cy="555.4" r="4.0" fill="#50f000" stroke="#000" stroke-width="1.2"/>
<circle cx="313.5" cy="558.0" r="4.0" fill="#10e040" stroke="#000" stroke-width="1.2"/>
<circle cx="299.0" cy="534.0" r="4.0" fill="#10e040" stroke="#000" stroke-width="1.2"/>
<circle cx="299.0" cy="536.5" r="4.0" fill="#10c0f0" stroke="#000" stroke-width="1.2"/>
<circle cx="299.0" cy="539.0" r="4.0" fill="#f8c020" stroke="#000" stroke-width="1.2"/>
<circle cx="299.0" cy="541.5" r="4.0" fill="#10e040" stroke="#000" stroke-width="1.2"/>
<circle cx="299.0" cy="544.0" r="4.0" fill="#ff6010" stroke="#000" stroke-width="1.2"/>
<circle cx="299.0" cy="546.5" r="4.0" fill="#ff1818" stroke="#000" stroke-width="1.2"/>
<circle cx="299.0" cy="549.0" r="4.0" fill="#ff6010" stroke="#000" stroke-width="1.2"/>
<circle cx="299.0" cy="551.5" r="4.0" fill="#ff1818" stroke="#000" stroke-width="1.2"/>
<circle cx="299.0" cy="554.0" r="4.0" fill="#10e040" stroke="#000" stroke-width="1.2"/>
<circle cx="299.0" cy="556.5" r="4.0" fill="#10c0f0" stroke="#000" stroke-width="1.2"/>
<circle cx="306.5" cy="533.0" r="4.0" fill="#ff9010" stroke="#000" stroke-width="1.2"/>
<circle cx="306.5" cy="535.4" r="4.0" fill="#ff9010" stroke="#000" stroke-width="1.2"/>
<circle cx="306.5" cy="537.8" r="4.0" fill="#ff9010" stroke="#000" stroke-width="1.2"/>
<circle cx="306.5" cy="540.2" r="4.0" fill="#ff9010" stroke="#000" stroke-width="1.2"/>
<circle cx="306.5" cy="542.6" r="4.0" fill="#ff9010" stroke="#000" stroke-width="1.2"/>
<circle cx="306.5" cy="545.0" r="4.0" fill="#ff9010" stroke="#000" stroke-width="1.2"/>
<circle cx="306.5" cy="547.4" r="4.0" fill="#ff1080" stroke="#000" stroke-width="1.2"/>
<circle cx="306.5" cy="549.8" r="4.0" fill="#ff6010" stroke="#000" stroke-width="1.2"/>
<circle cx="306.5" cy="552.2" r="4.0" fill="#ff1080" stroke="#000" stroke-width="1.2"/>
<circle cx="306.5" cy="554.6" r="4.0" fill="#ff1818" stroke="#000" stroke-width="1.2"/>
<circle cx="306.5" cy="557.0" r="4.0" fill="#ff1818" stroke="#000" stroke-width="1.2"/>
<circle cx="306.5" cy="559.4" r="4.0" fill="#ff1818" stroke="#000" stroke-width="1.2"/>
<circle cx="307.1" cy="529.3" r="4.0" fill="#ffff30" stroke="#000" stroke-width="1.2"/>
<circle cx="301.2" cy="531.7" r="4.0" fill="#10e040" stroke="#000" stroke-width="1.2"/>
<circle cx="313.0" cy="556.9" r="4.0" fill="#1428e8" stroke="#000" stroke-width="1.2"/>
<circle cx="309.5" cy="561.3" r="4.0" fill="#f8c020" stroke="#000" stroke-width="1.2"/>
<circle cx="306.0" cy="560.0" r="4.0" fill="#10e040" stroke="#000" stroke-width="1.2"/>
<circle cx="299.2" cy="554.4" r="4.0" fill="#ff1818" stroke="#000" stroke-width="1.2"/>
<circle cx="258.5" cy="565.8" r="4.0" fill="#50f000" stroke="#000" stroke-width="1.2"/>
<circle cx="255.2" cy="570.0" r="4.0" fill="#00eaff" stroke="#000" stroke-width="1.2"/>
<circle cx="248.5" cy="574.5" r="4.0" fill="#1428e8" stroke="#000" stroke-width="1.2"/>
<circle cx="469.1" cy="545.3" r="4.0" fill="#000000" stroke="#000" stroke-width="1.2"/>
<circle cx="459.7" cy="542.7" r="4.0" fill="#000000" stroke="#000" stroke-width="1.2"/>
<circle cx="462.6" cy="547.2" r="4.0" fill="#000000" stroke="#000" stroke-width="1.2"/>
<circle cx="456.3" cy="545.4" r="4.0" fill="#000000" stroke="#000" stroke-width="1.2"/>
<circle cx="460.1" cy="545.9" r="4.0" fill="#000000" stroke="#000" stroke-width="1.2"/>
<circle cx="457.0" cy="549.4" r="4.0" fill="#000000" stroke="#000" stroke-width="1.2"/>
<circle cx="462.2" cy="542.5" r="4.0" fill="#000000" stroke="#000" stroke-width="1.2"/>
<circle cx="454.5" cy="548.4" r="4.0" fill="#000000" stroke="#000" stroke-width="1.2"/>
<circle cx="470.5" cy="545.7" r="4.0" fill="#000000" stroke="#000" stroke-width="1.2"/>
<circle cx="449.7" cy="544.0" r="4.0" fill="#000000" stroke="#000" stroke-width="1.2"/>
<circle cx="452.8" cy="551.0" r="4.0" fill="#000000" stroke="#000" stroke-width="1.2"/>
<circle cx="450.5" cy="546.3" r="4.0" fill="#000000" stroke="#000" stroke-width="1.2"/>
<circle cx="450.6" cy="550.5" r="4.0" fill="#000000" stroke="#000" stroke-width="1.2"/>
<circle cx="460.0" cy="544.6" r="4.0" fill="#000000" stroke="#000" stroke-width="1.2"/>
<circle cx="464.3" cy="548.0" r="4.0" fill="#000000" stroke="#000" stroke-width="1.2"/>
<circle cx="464.8" cy="544.4" r="4.0" fill="#000000" stroke="#000" stroke-width="1.2"/>
<circle cx="463.8" cy="547.7" r="4.0" fill="#000000" stroke="#000" stroke-width="1.2"/>
<circle cx="459.8" cy="548.1" r="4.0" fill="#000000" stroke="#000" stroke-width="1.2"/>
<circle cx="459.5" cy="551.8" r="4.0" fill="#000000" stroke="#000" stroke-width="1.2"/>
<circle cx="445.9" cy="546.5" r="4.0" fill="#000000" stroke="#000" stroke-width="1.2"/>
<circle cx="454.8" cy="545.1" r="4.0" fill="#000000" stroke="#000" stroke-width="1.2"/>
<circle cx="468.5" cy="544.2" r="4.0" fill="#000000" stroke="#000" stroke-width="1.2"/>
<circle cx="469.7" cy="550.3" r="4.0" fill="#000000" stroke="#000" stroke-width="1.2"/>
<circle cx="454.4" cy="545.7" r="4.0" fill="#000000" stroke="#000" stroke-width="1.2"/>
<circle cx="457.0" cy="550.1" r="4.0" fill="#000000" stroke="#000" stroke-width="1.2"/>
<circle cx="463.4" cy="546.6" r="4.0" fill="#000000" stroke="#000" stroke-width="1.2"/>
<circle cx="451.5" cy="544.0" r="4.0" fill="#000000" stroke="#000" stroke-width="1.2"/>
<circle cx="458.7" cy="545.1" r="4.0" fill="#000000" stroke="#000" stroke-width="1.2"/>
<circle cx="467.5" cy="548.3" r="4.0" fill="#000000" stroke="#000" stroke-width="1.2"/>
<circle cx="457.6" cy="543.4" r="4.0" fill="#000000" stroke="#000" stroke-width="1.2"/>
<circle cx="469.0" cy="548.7" r="4.0" fill="#000000" stroke="#000" stroke-width="1.2"/>
<circle cx="452.6" cy="544.1" r="4.0" fill="#000000" stroke="#000" stroke-width="1.2"/>
<circle cx="467.8" cy="545.4" r="4.0" fill="#000000" stroke="#000" stroke-width="1.2"/>
<circle cx="458.7" cy="550.1" r="4.0" fill="#000000" stroke="#000" stroke-width="1.2"/>
<circle cx="440.3" cy="534.2" r="4.0" fill="#50f000" stroke="#000" stroke-width="1.2"/>
<circle cx="447.7" cy="540.3" r="4.0" fill="#f0a0c8" stroke="#000" stroke-width="1.2"/>
<circle cx="452.0" cy="543.0" r="4.0" fill="#c040c0" stroke="#000" stroke-width="1.2"/>
<circle cx="456.0" cy="544.0" r="4.0" fill="#ff1080" stroke="#000" stroke-width="1.2"/>
<circle cx="462.0" cy="542.0" r="4.0" fill="#c040c0" stroke="#000" stroke-width="1.2"/>
<circle cx="466.0" cy="543.0" r="4.0" fill="#ff1080" stroke="#000" stroke-width="1.2"/>
<circle cx="472.8" cy="541.0" r="4.0" fill="#f8c020" stroke="#000" stroke-width="1.2"/>
<circle cx="475.3" cy="536.0" r="4.0" fill="#f8c020" stroke="#000" stroke-width="1.2"/>
<circle cx="466.0" cy="567.8" r="4.0" fill="#000000" stroke="#000" stroke-width="1.2"/>
<circle cx="466.3" cy="569.3" r="4.0" fill="#00eaff" stroke="#000" stroke-width="1.2"/>
<circle cx="466.0" cy="571.0" r="4.0" fill="#f0a0c8" stroke="#000" stroke-width="1.2"/>
<circle cx="465.2" cy="572.8" r="4.0" fill="#000000" stroke="#000" stroke-width="1.2"/>
<circle cx="463.8" cy="574.7" r="4.0" fill="#1428e8" stroke="#000" stroke-width="1.2"/>
<circle cx="461.9" cy="576.4" r="4.0" fill="#000000" stroke="#000" stroke-width="1.2"/>
<circle cx="459.7" cy="578.0" r="4.0" fill="#00eaff" stroke="#000" stroke-width="1.2"/>
<circle cx="457.2" cy="579.4" r="4.0" fill="#ff6010" stroke="#000" stroke-width="1.2"/>
<circle cx="454.4" cy="580.5" r="4.0" fill="#ffff30" stroke="#000" stroke-width="1.2"/>
<circle cx="451.7" cy="581.2" r="4.0" fill="#000000" stroke="#000" stroke-width="1.2"/>
<circle cx="448.9" cy="581.6" r="4.0" fill="#10c0f0" stroke="#000" stroke-width="1.2"/>
<circle cx="446.4" cy="581.7" r="4.0" fill="#10e040" stroke="#000" stroke-width="1.2"/>
<circle cx="444.1" cy="581.3" r="4.0" fill="#f8c020" stroke="#000" stroke-width="1.2"/>
<circle cx="442.3" cy="580.6" r="4.0" fill="#10e040" stroke="#000" stroke-width="1.2"/>
<circle cx="440.9" cy="579.6" r="4.0" fill="#000000" stroke="#000" stroke-width="1.2"/>
<circle cx="440.0" cy="578.2" r="4.0" fill="#000000" stroke="#000" stroke-width="1.2"/>
<circle cx="439.7" cy="576.7" r="4.0" fill="#1a78e0" stroke="#000" stroke-width="1.2"/>
<circle cx="440.0" cy="575.0" r="4.0" fill="#000000" stroke="#000" stroke-width="1.2"/>
<circle cx="440.8" cy="573.2" r="4.0" fill="#b0f020" stroke="#000" stroke-width="1.2"/>
<circle cx="442.2" cy="571.3" r="4.0" fill="#000000" stroke="#000" stroke-width="1.2"/>
<circle cx="444.1" cy="569.6" r="4.0" fill="#000000" stroke="#000" stroke-width="1.2"/>
<circle cx="446.3" cy="568.0" r="4.0" fill="#000000" stroke="#000" stroke-width="1.2"/>
<circle cx="448.8" cy="566.6" r="4.0" fill="#ff6010" stroke="#000" stroke-width="1.2"/>
<circle cx="451.6" cy="565.5" r="4.0" fill="#000000" stroke="#000" stroke-width="1.2"/>
<circle cx="454.3" cy="564.8" r="4.0" fill="#20e8b0" stroke="#000" stroke-width="1.2"/>
<circle cx="457.1" cy="564.4" r="4.0" fill="#000000" stroke="#000" stroke-width="1.2"/>
<circle cx="459.6" cy="564.3" r="4.0" fill="#ff6010" stroke="#000" stroke-width="1.2"/>
<circle cx="461.9" cy="564.7" r="4.0" fill="#000000" stroke="#000" stroke-width="1.2"/>
<circle cx="463.7" cy="565.4" r="4.0" fill="#000000" stroke="#000" stroke-width="1.2"/>
<circle cx="465.1" cy="566.4" r="4.0" fill="#000000" stroke="#000" stroke-width="1.2"/>
<circle cx="444.6" cy="567.3" r="4.0" fill="#10e040" stroke="#000" stroke-width="1.2"/>
<circle cx="441.0" cy="570.4" r="4.0" fill="#10e040" stroke="#000" stroke-width="1.2"/>
<circle cx="439.7" cy="576.5" r="4.0" fill="#ff6010" stroke="#000" stroke-width="1.2"/>
<circle cx="441.5" cy="580.8" r="4.0" fill="#f8c020" stroke="#000" stroke-width="1.2"/>
<circle cx="459.3" cy="563.0" r="4.0" fill="#10c0f0" stroke="#000" stroke-width="1.2"/>
<circle cx="465.5" cy="564.2" r="4.0" fill="#10e040" stroke="#000" stroke-width="1.2"/>
<circle cx="468.5" cy="567.3" r="4.0" fill="#10e040" stroke="#000" stroke-width="1.2"/>
<circle cx="466.7" cy="574.0" r="4.0" fill="#10c0f0" stroke="#000" stroke-width="1.2"/>
<circle cx="463.0" cy="578.0" r="4.0" fill="#ff6010" stroke="#000" stroke-width="1.2"/>
<circle cx="452.0" cy="577.0" r="4.0" fill="#c040c0" stroke="#000" stroke-width="1.2"/>
<circle cx="449.0" cy="579.0" r="4.0" fill="#000000" stroke="#000" stroke-width="1.2"/>
<circle cx="456.0" cy="570.0" r="4.0" fill="#000000" stroke="#000" stroke-width="1.2"/>
<circle cx="439.9" cy="592.9" r="4.0" fill="#10e040" stroke="#000" stroke-width="1.2"/>
<circle cx="438.7" cy="596.1" r="4.0" fill="#000000" stroke="#000" stroke-width="1.2"/>
<circle cx="437.3" cy="599.5" r="4.0" fill="#ff6010" stroke="#000" stroke-width="1.2"/>
<circle cx="436.7" cy="602.9" r="4.0" fill="#000000" stroke="#000" stroke-width="1.2"/>
<circle cx="435.9" cy="606.4" r="4.0" fill="#f8c020" stroke="#000" stroke-width="1.2"/>
<circle cx="437.1" cy="609.3" r="4.0" fill="#f8c020" stroke="#000" stroke-width="1.2"/>
<circle cx="439.7" cy="593.0" r="4.0" fill="#50f000" stroke="#000" stroke-width="1.2"/>
<circle cx="436.0" cy="605.9" r="4.0" fill="#b0f020" stroke="#000" stroke-width="1.2"/>
<circle cx="437.3" cy="609.6" r="4.0" fill="#f8c020" stroke="#000" stroke-width="1.2"/>
<circle cx="454.1" cy="596.5" r="4.0" fill="#000000" stroke="#000" stroke-width="1.2"/>
<circle cx="455.6" cy="594.8" r="4.0" fill="#000000" stroke="#000" stroke-width="1.2"/>
<circle cx="453.5" cy="596.2" r="4.0" fill="#000000" stroke="#000" stroke-width="1.2"/>
<circle cx="454.1" cy="596.5" r="4.0" fill="#000000" stroke="#000" stroke-width="1.2"/>
<circle cx="453.4" cy="598.1" r="4.0" fill="#000000" stroke="#000" stroke-width="1.2"/>
<circle cx="454.5" cy="595.6" r="4.0" fill="#000000" stroke="#000" stroke-width="1.2"/>
<circle cx="455.8" cy="593.0" r="4.0" fill="#000000" stroke="#000" stroke-width="1.2"/>
<circle cx="461.4" cy="595.1" r="4.0" fill="#000000" stroke="#000" stroke-width="1.2"/>
<circle cx="449.5" cy="593.7" r="4.0" fill="#ff1080" stroke="#000" stroke-width="1.2"/>
<circle cx="454.4" cy="591.2" r="4.0" fill="#10c0f0" stroke="#000" stroke-width="1.2"/>
<circle cx="460.5" cy="594.9" r="4.0" fill="#10e040" stroke="#000" stroke-width="1.2"/>
<circle cx="462.0" cy="598.0" r="4.0" fill="#20e8b0" stroke="#000" stroke-width="1.2"/>
<circle cx="467.3" cy="600.4" r="4.0" fill="#50f000" stroke="#000" stroke-width="1.2"/>
<circle cx="468.0" cy="603.9" r="4.0" fill="#f8c020" stroke="#000" stroke-width="1.2"/>
<circle cx="468.4" cy="606.1" r="4.0" fill="#ff6010" stroke="#000" stroke-width="1.2"/>
<circle cx="468.4" cy="608.7" r="4.0" fill="#f8c020" stroke="#000" stroke-width="1.2"/>
<circle cx="468.4" cy="610.6" r="4.0" fill="#ff9010" stroke="#000" stroke-width="1.2"/>
<circle cx="467.9" cy="612.9" r="4.0" fill="#f8c020" stroke="#000" stroke-width="1.2"/>
<circle cx="462.4" cy="616.3" r="4.0" fill="#50f000" stroke="#000" stroke-width="1.2"/>
<circle cx="468.5" cy="615.7" r="4.0" fill="#10c0f0" stroke="#000" stroke-width="1.2"/>
<circle cx="252.1" cy="632.1" r="4.0" fill="#000000" stroke="#000" stroke-width="1.2"/>
<circle cx="256.1" cy="634.3" r="4.0" fill="#c040c0" stroke="#000" stroke-width="1.2"/>
<circle cx="261.1" cy="636.4" r="4.0" fill="#000000" stroke="#000" stroke-width="1.2"/>
<circle cx="265.0" cy="636.7" r="4.0" fill="#000000" stroke="#000" stroke-width="1.2"/>
<circle cx="269.2" cy="639.5" r="4.0" fill="#000000" stroke="#000" stroke-width="1.2"/>
<circle cx="272.6" cy="640.9" r="4.0" fill="#000000" stroke="#000" stroke-width="1.2"/>
<circle cx="276.7" cy="642.0" r="4.0" fill="#000000" stroke="#000" stroke-width="1.2"/>
<circle cx="281.4" cy="644.5" r="4.0" fill="#000000" stroke="#000" stroke-width="1.2"/>
<circle cx="284.5" cy="645.7" r="4.0" fill="#000000" stroke="#000" stroke-width="1.2"/>
<circle cx="249.6" cy="639.8" r="4.0" fill="#000000" stroke="#000" stroke-width="1.2"/>
<circle cx="254.6" cy="641.3" r="4.0" fill="#000000" stroke="#000" stroke-width="1.2"/>
<circle cx="257.8" cy="641.8" r="4.0" fill="#000000" stroke="#000" stroke-width="1.2"/>
<circle cx="261.4" cy="643.4" r="4.0" fill="#000000" stroke="#000" stroke-width="1.2"/>
<circle cx="266.2" cy="645.1" r="4.0" fill="#000000" stroke="#000" stroke-width="1.2"/>
<circle cx="270.8" cy="648.0" r="4.0" fill="#000000" stroke="#000" stroke-width="1.2"/>
<circle cx="273.9" cy="649.9" r="4.0" fill="#000000" stroke="#000" stroke-width="1.2"/>
<circle cx="278.5" cy="650.4" r="4.0" fill="#000000" stroke="#000" stroke-width="1.2"/>
<circle cx="282.4" cy="653.0" r="4.0" fill="#000000" stroke="#000" stroke-width="1.2"/>
<circle cx="254.0" cy="635.0" r="4.0" fill="#20e8b0" stroke="#000" stroke-width="1.2"/>
<circle cx="261.4" cy="636.3" r="4.0" fill="#1a78e0" stroke="#000" stroke-width="1.2"/>
<circle cx="272.6" cy="642.0" r="4.0" fill="#1a78e0" stroke="#000" stroke-width="1.2"/>
<circle cx="281.1" cy="641.6" r="4.0" fill="#f8c020" stroke="#000" stroke-width="1.2"/>
<circle cx="296.0" cy="632.4" r="4.0" fill="#000000" stroke="#000" stroke-width="1.2"/>
<circle cx="291.0" cy="637.9" r="4.0" fill="#000000" stroke="#000" stroke-width="1.2"/>
<circle cx="296.4" cy="629.6" r="4.0" fill="#000000" stroke="#000" stroke-width="1.2"/>
<circle cx="299.6" cy="640.7" r="4.0" fill="#000000" stroke="#000" stroke-width="1.2"/>
<circle cx="290.9" cy="635.0" r="4.0" fill="#000000" stroke="#000" stroke-width="1.2"/>
<circle cx="295.6" cy="640.7" r="4.0" fill="#000000" stroke="#000" stroke-width="1.2"/>
<circle cx="290.2" cy="638.3" r="4.0" fill="#20e8b0" stroke="#000" stroke-width="1.2"/>
<circle cx="290.3" cy="629.9" r="4.0" fill="#000000" stroke="#000" stroke-width="1.2"/>
<circle cx="296.3" cy="637.7" r="4.0" fill="#000000" stroke="#000" stroke-width="1.2"/>
<circle cx="291.7" cy="635.7" r="4.0" fill="#b0f020" stroke="#000" stroke-width="1.2"/>
<circle cx="300.4" cy="627.2" r="4.0" fill="#000000" stroke="#000" stroke-width="1.2"/>
<circle cx="300.2" cy="632.0" r="4.0" fill="#000000" stroke="#000" stroke-width="1.2"/>
<circle cx="297.9" cy="632.5" r="4.0" fill="#000000" stroke="#000" stroke-width="1.2"/>
<circle cx="295.1" cy="638.7" r="4.0" fill="#20e8b0" stroke="#000" stroke-width="1.2"/>
<circle cx="291.5" cy="637.2" r="4.0" fill="#000000" stroke="#000" stroke-width="1.2"/>
<circle cx="298.0" cy="627.2" r="4.0" fill="#000000" stroke="#000" stroke-width="1.2"/>
<circle cx="298.6" cy="637.0" r="4.0" fill="#000000" stroke="#000" stroke-width="1.2"/>
<circle cx="290.6" cy="629.8" r="4.0" fill="#50f000" stroke="#000" stroke-width="1.2"/>
<circle cx="291.0" cy="636.7" r="4.0" fill="#000000" stroke="#000" stroke-width="1.2"/>
<circle cx="291.2" cy="639.6" r="4.0" fill="#b0f020" stroke="#000" stroke-width="1.2"/>
<circle cx="290.2" cy="638.6" r="4.0" fill="#000000" stroke="#000" stroke-width="1.2"/>
<circle cx="298.6" cy="627.2" r="4.0" fill="#000000" stroke="#000" stroke-width="1.2"/>
<circle cx="294.7" cy="630.2" r="4.0" fill="#000000" stroke="#000" stroke-width="1.2"/>
<circle cx="300.1" cy="631.1" r="4.0" fill="#000000" stroke="#000" stroke-width="1.2"/>
<circle cx="294.9" cy="622.5" r="4.0" fill="#ff6010" stroke="#000" stroke-width="1.2"/>
<circle cx="287.0" cy="629.0" r="4.0" fill="#10e040" stroke="#000" stroke-width="1.2"/>
<circle cx="292.0" cy="632.0" r="4.0" fill="#ff1818" stroke="#000" stroke-width="1.2"/>
<circle cx="289.7" cy="640.2" r="4.0" fill="#ff6010" stroke="#000" stroke-width="1.2"/>
<circle cx="305.4" cy="630.4" r="4.0" fill="#ff6010" stroke="#000" stroke-width="1.2"/>
<circle cx="300.0" cy="633.0" r="4.0" fill="#f0a0c8" stroke="#000" stroke-width="1.2"/>
<circle cx="302.0" cy="638.0" r="4.0" fill="#f0a0c8" stroke="#000" stroke-width="1.2"/>
<circle cx="297.0" cy="628.0" r="4.0" fill="#ff1080" stroke="#000" stroke-width="1.2"/>
<circle cx="287.0" cy="646.8" r="4.0" fill="#50f000" stroke="#000" stroke-width="1.2"/>
<circle cx="299.5" cy="649.4" r="4.0" fill="#1428e8" stroke="#000" stroke-width="1.2"/>
<circle cx="295.0" cy="652.7" r="4.0" fill="#00eaff" stroke="#000" stroke-width="1.2"/>
<circle cx="293.6" cy="656.7" r="4.0" fill="#10c0f0" stroke="#000" stroke-width="1.2"/>
<circle cx="268.0" cy="651.4" r="4.0" fill="#f8c020" stroke="#000" stroke-width="1.2"/>
<circle cx="264.7" cy="654.0" r="4.0" fill="#10c0f0" stroke="#000" stroke-width="1.2"/>
<circle cx="264.7" cy="658.6" r="4.0" fill="#1428e8" stroke="#000" stroke-width="1.2"/>
<circle cx="290.4" cy="656.3" r="4.0" fill="#10e040" stroke="#000" stroke-width="1.2"/>
<circle cx="288.4" cy="659.3" r="4.0" fill="#f8c020" stroke="#000" stroke-width="1.2"/>
<circle cx="286.7" cy="662.2" r="4.0" fill="#ff9010" stroke="#000" stroke-width="1.2"/>
<circle cx="285.0" cy="664.1" r="4.0" fill="#10e040" stroke="#000" stroke-width="1.2"/>
<circle cx="282.9" cy="667.2" r="4.0" fill="#f8c020" stroke="#000" stroke-width="1.2"/>
<circle cx="280.5" cy="666.9" r="4.0" fill="#ff9010" stroke="#000" stroke-width="1.2"/>
<circle cx="284.8" cy="667.7" r="4.0" fill="#ff1818" stroke="#000" stroke-width="1.2"/>
<circle cx="288.8" cy="668.2" r="4.0" fill="#ff6010" stroke="#000" stroke-width="1.2"/>
<circle cx="293.1" cy="668.0" r="4.0" fill="#b0f020" stroke="#000" stroke-width="1.2"/>
<circle cx="297.0" cy="668.0" r="4.0" fill="#10e040" stroke="#000" stroke-width="1.2"/>
<circle cx="301.5" cy="667.6" r="4.0" fill="#50f000" stroke="#000" stroke-width="1.2"/>
<circle cx="305.5" cy="667.0" r="4.0" fill="#ff9010" stroke="#000" stroke-width="1.2"/>
<circle cx="309.3" cy="665.7" r="4.0" fill="#ff1818" stroke="#000" stroke-width="1.2"/>
<circle cx="309.4" cy="665.9" r="4.0" fill="#50f000" stroke="#000" stroke-width="1.2"/>
<circle cx="302.8" cy="668.5" r="4.0" fill="#b0f020" stroke="#000" stroke-width="1.2"/>
<circle cx="285.2" cy="678.9" r="4.0" fill="#000000" stroke="#000" stroke-width="1.2"/>
<circle cx="291.8" cy="685.8" r="4.0" fill="#000000" stroke="#000" stroke-width="1.2"/>
<circle cx="290.9" cy="677.2" r="4.0" fill="#000000" stroke="#000" stroke-width="1.2"/>
<circle cx="286.9" cy="679.4" r="4.0" fill="#000000" stroke="#000" stroke-width="1.2"/>
<circle cx="279.8" cy="683.8" r="4.0" fill="#000000" stroke="#000" stroke-width="1.2"/>
<circle cx="301.8" cy="684.1" r="4.0" fill="#000000" stroke="#000" stroke-width="1.2"/>
<circle cx="281.7" cy="685.1" r="4.0" fill="#000000" stroke="#000" stroke-width="1.2"/>
<circle cx="293.6" cy="675.0" r="4.0" fill="#000000" stroke="#000" stroke-width="1.2"/>
<circle cx="290.0" cy="685.3" r="4.0" fill="#000000" stroke="#000" stroke-width="1.2"/>
<circle cx="299.3" cy="677.9" r="4.0" fill="#000000" stroke="#000" stroke-width="1.2"/>
<circle cx="293.7" cy="682.3" r="4.0" fill="#000000" stroke="#000" stroke-width="1.2"/>
<circle cx="292.8" cy="687.2" r="4.0" fill="#000000" stroke="#000" stroke-width="1.2"/>
<circle cx="285.9" cy="685.5" r="4.0" fill="#000000" stroke="#000" stroke-width="1.2"/>
<circle cx="295.3" cy="678.7" r="4.0" fill="#000000" stroke="#000" stroke-width="1.2"/>
<circle cx="289.4" cy="686.1" r="4.0" fill="#000000" stroke="#000" stroke-width="1.2"/>
<circle cx="302.1" cy="684.5" r="4.0" fill="#000000" stroke="#000" stroke-width="1.2"/>
<circle cx="295.0" cy="678.6" r="4.0" fill="#000000" stroke="#000" stroke-width="1.2"/>
<circle cx="296.4" cy="686.8" r="4.0" fill="#1a78e0" stroke="#000" stroke-width="1.2"/>
<circle cx="290.1" cy="674.7" r="4.0" fill="#000000" stroke="#000" stroke-width="1.2"/>
<circle cx="289.5" cy="683.0" r="4.0" fill="#000000" stroke="#000" stroke-width="1.2"/>
<circle cx="298.0" cy="684.4" r="4.0" fill="#000000" stroke="#000" stroke-width="1.2"/>
<circle cx="296.7" cy="687.8" r="4.0" fill="#000000" stroke="#000" stroke-width="1.2"/>
<circle cx="278.5" cy="683.4" r="4.0" fill="#000000" stroke="#000" stroke-width="1.2"/>
<circle cx="294.0" cy="677.1" r="4.0" fill="#000000" stroke="#000" stroke-width="1.2"/>
<circle cx="302.5" cy="682.6" r="4.0" fill="#000000" stroke="#000" stroke-width="1.2"/>
<circle cx="294.7" cy="677.4" r="4.0" fill="#000000" stroke="#000" stroke-width="1.2"/>
<circle cx="280.6" cy="682.0" r="4.0" fill="#000000" stroke="#000" stroke-width="1.2"/>
<circle cx="295.8" cy="683.3" r="4.0" fill="#000000" stroke="#000" stroke-width="1.2"/>
<circle cx="284.0" cy="681.7" r="4.0" fill="#000000" stroke="#000" stroke-width="1.2"/>
<circle cx="284.5" cy="683.0" r="4.0" fill="#000000" stroke="#000" stroke-width="1.2"/>
<circle cx="302.9" cy="681.3" r="4.0" fill="#000000" stroke="#000" stroke-width="1.2"/>
<circle cx="292.2" cy="683.5" r="4.0" fill="#000000" stroke="#000" stroke-width="1.2"/>
<circle cx="284.2" cy="687.7" r="4.0" fill="#000000" stroke="#000" stroke-width="1.2"/>
<circle cx="286.5" cy="675.1" r="4.0" fill="#000000" stroke="#000" stroke-width="1.2"/>
<circle cx="282.9" cy="681.4" r="4.0" fill="#000000" stroke="#000" stroke-width="1.2"/>
<circle cx="287.2" cy="686.0" r="4.0" fill="#000000" stroke="#000" stroke-width="1.2"/>
<circle cx="290.5" cy="685.3" r="4.0" fill="#000000" stroke="#000" stroke-width="1.2"/>
<circle cx="290.1" cy="683.4" r="4.0" fill="#000000" stroke="#000" stroke-width="1.2"/>
<circle cx="292.4" cy="675.4" r="4.0" fill="#000000" stroke="#000" stroke-width="1.2"/>
<circle cx="286.5" cy="676.9" r="4.0" fill="#000000" stroke="#000" stroke-width="1.2"/>
<circle cx="280.0" cy="676.0" r="4.0" fill="#10c0f0" stroke="#000" stroke-width="1.2"/>
<circle cx="279.0" cy="683.0" r="4.0" fill="#1a78e0" stroke="#000" stroke-width="1.2"/>
<circle cx="289.7" cy="683.0" r="4.0" fill="#c040c0" stroke="#000" stroke-width="1.2"/>
<circle cx="301.5" cy="679.0" r="4.0" fill="#f8c020" stroke="#000" stroke-width="1.2"/>
<circle cx="303.0" cy="683.0" r="4.0" fill="#f8c020" stroke="#000" stroke-width="1.2"/>
<circle cx="295.0" cy="688.0" r="4.0" fill="#10e040" stroke="#000" stroke-width="1.2"/>
<rect x="152.75" y="552" width="99.25" height="140" fill="none" stroke="#f7822c" stroke-width="1.4" />
<rect x="252" y="589.5" width="118.75" height="103" fill="none" stroke="#f7822c" stroke-width="1.4" />
<rect x="413" y="471.3" width="84.3" height="150.7" fill="none" stroke="#f7822c" stroke-width="1.4" />
<circle cx="122.5" cy="479" r="2.4" fill="#f07020" stroke="#a04010" stroke-width="0.6"/>
<circle cx="245.25" cy="547.75" r="2.4" fill="#f07020" stroke="#a04010" stroke-width="0.6"/>
<circle cx="322" cy="522.75" r="2.4" fill="#f07020" stroke="#a04010" stroke-width="0.6"/>
<circle cx="390" cy="548.25" r="2.4" fill="#f07020" stroke="#a04010" stroke-width="0.6"/>
<circle cx="269" cy="578" r="2.4" fill="#f07020" stroke="#a04010" stroke-width="0.6"/>
<circle cx="224.75" cy="603.25" r="2.4" fill="#f07020" stroke="#a04010" stroke-width="0.6"/>
<circle cx="303.5" cy="606.25" r="2.4" fill="#f07020" stroke="#a04010" stroke-width="0.6"/>
<circle cx="334.25" cy="591.75" r="2.4" fill="#f07020" stroke="#a04010" stroke-width="0.6"/>
<circle cx="127.5" cy="666.25" r="2.4" fill="#f07020" stroke="#a04010" stroke-width="0.6"/>
<circle cx="191" cy="674.5" r="2.4" fill="#f07020" stroke="#a04010" stroke-width="0.6"/>
<text x="80.75" y="494.5" font-family="'Liberation Serif', serif" font-size="13" font-weight="bold" font-style="normal" fill="#000" stroke="#000" stroke-width="0.3" text-anchor="start" >Kokouna</text>
<text x="284" y="519.5" font-family="'Liberation Serif', serif" font-size="13" font-weight="bold" font-style="normal" fill="#000" stroke="#000" stroke-width="0.3" text-anchor="start" >Gemale</text>
<text x="216.5" y="547" font-family="'Liberation Serif', serif" font-size="13" font-weight="bold" font-style="normal" fill="#000" stroke="#000" stroke-width="0.3" text-anchor="start" >Zambufu</text>
<text x="360.5" y="545.5" font-family="'Liberation Serif', serif" font-size="12.2" font-weight="bold" font-style="normal" fill="#000" stroke="#000" stroke-width="0.3" text-anchor="start" >Gbugbu</text>
<text x="269" y="576.2" font-family="'Liberation Serif', serif" font-size="13" font-weight="bold" font-style="normal" fill="#000" stroke="#000" stroke-width="0.3" text-anchor="start" >Mashe</text>
<text x="323.75" y="586.2" font-family="'Liberation Serif', serif" font-size="13" font-weight="bold" font-style="normal" fill="#000" stroke="#000" stroke-width="0.3" text-anchor="start" >Ndeii</text>
<text x="206.5" y="602.5" font-family="'Liberation Serif', serif" font-size="13" font-weight="bold" font-style="normal" fill="#000" stroke="#000" stroke-width="0.3" text-anchor="start" >Bishewa</text>
<text x="291.25" y="618.7" font-family="'Liberation Serif', serif" font-size="13" font-weight="bold" font-style="normal" fill="#000" stroke="#000" stroke-width="0.3" text-anchor="start" >Lemo</text>
<text x="92" y="663" font-family="'Liberation Serif', serif" font-size="13" font-weight="bold" font-style="normal" fill="#000" stroke="#000" stroke-width="0.3" text-anchor="start" >Bankole</text>
<text x="153.25" y="668.5" font-family="'Liberation Serif', serif" font-size="13" font-weight="bold" font-style="normal" fill="#000" stroke="#000" stroke-width="0.3" text-anchor="start" >Ologomo</text>
<text x="71.25" y="511" font-family="'Liberation Serif', serif" font-size="14" font-weight="bold" font-style="normal" fill="#1414e6" stroke="#1414e6" stroke-width="0.3" text-anchor="start" >Sp</text>
<text x="121.5" y="507" font-family="'Liberation Serif', serif" font-size="14" font-weight="bold" font-style="normal" fill="#1414e6" stroke="#1414e6" stroke-width="0.3" text-anchor="start" >Sp</text>
<text x="65.75" y="556" font-family="'Liberation Serif', serif" font-size="14" font-weight="bold" font-style="normal" fill="#1414e6" stroke="#1414e6" stroke-width="0.3" text-anchor="start" >Sp</text>
<text x="123.25" y="541" font-family="'Liberation Serif', serif" font-size="14" font-weight="bold" font-style="normal" fill="#1414e6" stroke="#1414e6" stroke-width="0.3" text-anchor="start" >Sp</text>
<text x="157" y="540.5" font-family="'Liberation Serif', serif" font-size="14" font-weight="bold" font-style="normal" fill="#1414e6" stroke="#1414e6" stroke-width="0.3" text-anchor="start" >Sp</text>
<text x="116.5" y="575.5" font-family="'Liberation Serif', serif" font-size="14" font-weight="bold" font-style="normal" fill="#1414e6" stroke="#1414e6" stroke-width="0.3" text-anchor="start" >Sp</text>
<text x="35.75" y="626.5" font-family="'Liberation Serif', serif" font-size="14" font-weight="bold" font-style="normal" fill="#1414e6" stroke="#1414e6" stroke-width="0.3" text-anchor="start" >Sp</text>
<text x="280.25" y="546" font-family="'Liberation Serif', serif" font-size="14" font-weight="bold" font-style="normal" fill="#1414e6" stroke="#1414e6" stroke-width="0.3" text-anchor="start" >Sp</text>
<text x="471.25" y="576.5" font-family="'Liberation Serif', serif" font-size="14" font-weight="bold" font-style="normal" fill="#1414e6" stroke="#1414e6" stroke-width="0.3" text-anchor="start" >Sp</text>
<text x="261.5" y="684" font-family="'Liberation Serif', serif" font-size="14" font-weight="bold" font-style="normal" fill="#1414e6" stroke="#1414e6" stroke-width="0.3" text-anchor="start" >Sp</text>
<text x="310" y="635.5" font-family="'Liberation Serif', serif" font-size="14" font-weight="bold" font-style="normal" fill="#1414e6" stroke="#1414e6" stroke-width="0.3" text-anchor="start" >Sp</text>
<rect x="13" y="453.6" width="499.29999999999995" height="260.4" fill="none" stroke="#262626" stroke-width="1.5" />
<line x1="37.6" y1="453.6" x2="37.6" y2="463.6" stroke="#262626" stroke-width="1.4" />
<line x1="137" y1="453.6" x2="137" y2="463.6" stroke="#262626" stroke-width="1.4" />
<line x1="237" y1="453.6" x2="237" y2="463.6" stroke="#262626" stroke-width="1.4" />
<line x1="336.75" y1="453.6" x2="336.75" y2="463.6" stroke="#262626" stroke-width="1.4" />
<line x1="436.3" y1="453.6" x2="436.3" y2="463.6" stroke="#262626" stroke-width="1.4" />
<line x1="35" y1="704" x2="35" y2="714" stroke="#262626" stroke-width="1.4" />
<line x1="134.5" y1="704" x2="134.5" y2="714" stroke="#262626" stroke-width="1.4" />
<line x1="233.5" y1="704" x2="233.5" y2="714" stroke="#262626" stroke-width="1.4" />
<line x1="334.5" y1="704" x2="334.5" y2="714" stroke="#262626" stroke-width="1.4" />
<line x1="433.4" y1="704" x2="433.4" y2="714" stroke="#262626" stroke-width="1.4" />
<line x1="13" y1="489.5" x2="24" y2="489.5" stroke="#262626" stroke-width="1.4" />
<line x1="13" y1="529.5" x2="24" y2="529.5" stroke="#262626" stroke-width="1.4" />
<line x1="13" y1="569.5" x2="24" y2="569.5" stroke="#262626" stroke-width="1.4" />
<line x1="13" y1="609.5" x2="24" y2="609.5" stroke="#262626" stroke-width="1.4" />
<line x1="13" y1="648.75" x2="24" y2="648.75" stroke="#262626" stroke-width="1.4" />
<line x1="13" y1="688.75" x2="24" y2="688.75" stroke="#262626" stroke-width="1.4" />
<line x1="502.29999999999995" y1="493.25" x2="512.3" y2="493.25" stroke="#262626" stroke-width="1.4" />
<line x1="502.29999999999995" y1="533.5" x2="512.3" y2="533.5" stroke="#262626" stroke-width="1.4" />
<line x1="502.29999999999995" y1="574.5" x2="512.3" y2="574.5" stroke="#262626" stroke-width="1.4" />
<line x1="502.29999999999995" y1="614.5" x2="512.3" y2="614.5" stroke="#262626" stroke-width="1.4" />
<line x1="502.29999999999995" y1="654" x2="512.3" y2="654" stroke="#262626" stroke-width="1.4" />
<line x1="502.29999999999995" y1="694" x2="512.3" y2="694" stroke="#262626" stroke-width="1.4" />
<text x="31" y="452.8" font-family="'Liberation Serif', serif" font-size="16" font-weight="bold" font-style="italic" fill="#000" stroke="#000" stroke-width="0.3" text-anchor="start" >5°</text>
<text x="125.5" y="452.8" font-family="'Liberation Serif', serif" font-size="16" font-weight="bold" font-style="italic" fill="#000" stroke="#000" stroke-width="0.3" text-anchor="start" >5°5′</text>
<text x="220" y="452.8" font-family="'Liberation Serif', serif" font-size="16" font-weight="bold" font-style="italic" fill="#000" stroke="#000" stroke-width="0.3" text-anchor="start" >5°10′</text>
<text x="319" y="452.8" font-family="'Liberation Serif', serif" font-size="16" font-weight="bold" font-style="italic" fill="#000" stroke="#000" stroke-width="0.3" text-anchor="start" >5°15′</text>
<text x="420" y="452.8" font-family="'Liberation Serif', serif" font-size="16" font-weight="bold" font-style="italic" fill="#000" stroke="#000" stroke-width="0.3" text-anchor="start" >5°20′</text>
<text x="27.5" y="731.8" font-family="'Liberation Serif', serif" font-size="16" font-weight="bold" font-style="italic" fill="#000" stroke="#000" stroke-width="0.3" text-anchor="start" >5°</text>
<text x="122.5" y="731.8" font-family="'Liberation Serif', serif" font-size="16" font-weight="bold" font-style="italic" fill="#000" stroke="#000" stroke-width="0.3" text-anchor="start" >5°5′</text>
<text x="215.5" y="731.8" font-family="'Liberation Serif', serif" font-size="16" font-weight="bold" font-style="italic" fill="#000" stroke="#000" stroke-width="0.3" text-anchor="start" >5°10′</text>
<text x="317.5" y="731.8" font-family="'Liberation Serif', serif" font-size="16" font-weight="bold" font-style="italic" fill="#000" stroke="#000" stroke-width="0.3" text-anchor="start" >5°15′</text>
<text x="415.7" y="731.8" font-family="'Liberation Serif', serif" font-size="16" font-weight="bold" font-style="italic" fill="#000" stroke="#000" stroke-width="0.3" text-anchor="start" >5°20′</text>
<text transform="translate(13.8,704) rotate(-90)" font-family="'Liberation Serif', serif" font-size="16" font-weight="bold" font-style="italic" stroke="#000" stroke-width="0.3" textLength="236" lengthAdjust="spacingAndGlyphs">8°40' 8°42' 8°44' 8°46' 8°48' 8°50'</text>
<text transform="translate(514,477.7) rotate(90)" font-family="'Liberation Serif', serif" font-size="16" font-weight="bold" font-style="italic" stroke="#000" stroke-width="0.3" textLength="228" lengthAdjust="spacingAndGlyphs">8°50' 8°48' 8°46' 8°44' 8°42' 8°40'</text>
<text x="206" y="757.5" font-family="'Liberation Serif', serif" font-size="12.6" font-weight="bold" font-style="normal" fill="#000" stroke="#000" stroke-width="0.3" text-anchor="start" >Depth (m)</text>
<rect x="23.50" y="770.2" width="11.17" height="10.299999999999955" fill="#0000f0"/>
<rect x="34.37" y="770.2" width="11.17" height="10.299999999999955" fill="#0a55d8"/>
<rect x="45.25" y="770.2" width="11.17" height="10.299999999999955" fill="#1a78e0"/>
<rect x="56.12" y="770.2" width="11.17" height="10.299999999999955" fill="#0ea0e8"/>
<rect x="67.00" y="770.2" width="11.17" height="10.299999999999955" fill="#10c8f0"/>
<rect x="77.87" y="770.2" width="11.17" height="10.299999999999955" fill="#00e0f8"/>
<rect x="88.75" y="770.2" width="11.17" height="10.299999999999955" fill="#00ffff"/>
<rect x="99.62" y="770.2" width="11.17" height="10.299999999999955" fill="#10f0d0"/>
<rect x="110.49" y="770.2" width="11.17" height="10.299999999999955" fill="#20e8a0"/>
<rect x="121.37" y="770.2" width="11.17" height="10.299999999999955" fill="#00e040"/>
<rect x="132.24" y="770.2" width="11.17" height="10.299999999999955" fill="#00e840"/>
<rect x="143.12" y="770.2" width="11.17" height="10.299999999999955" fill="#00f020"/>
<rect x="153.99" y="770.2" width="11.17" height="10.299999999999955" fill="#10f010"/>
<rect x="164.87" y="770.2" width="11.17" height="10.299999999999955" fill="#40f000"/>
<rect x="175.74" y="770.2" width="11.17" height="10.299999999999955" fill="#60e810"/>
<rect x="186.62" y="770.2" width="11.17" height="10.299999999999955" fill="#70e810"/>
<rect x="197.49" y="770.2" width="11.17" height="10.299999999999955" fill="#80e820"/>
<rect x="208.36" y="770.2" width="11.17" height="10.299999999999955" fill="#b0f020"/>
<rect x="219.24" y="770.2" width="11.17" height="10.299999999999955" fill="#c8f040"/>
<rect x="230.11" y="770.2" width="11.17" height="10.299999999999955" fill="#ffff30"/>
<rect x="240.99" y="770.2" width="11.17" height="10.299999999999955" fill="#f8e020"/>
<rect x="251.86" y="770.2" width="11.17" height="10.299999999999955" fill="#f8c820"/>
<rect x="262.74" y="770.2" width="11.17" height="10.299999999999955" fill="#f8a820"/>
<rect x="273.61" y="770.2" width="11.17" height="10.299999999999955" fill="#ffa810"/>
<rect x="284.48" y="770.2" width="11.17" height="10.299999999999955" fill="#ffa010"/>
<rect x="295.36" y="770.2" width="11.17" height="10.299999999999955" fill="#ff8810"/>
<rect x="306.23" y="770.2" width="11.17" height="10.299999999999955" fill="#ff8010"/>
<rect x="317.11" y="770.2" width="11.17" height="10.299999999999955" fill="#ff8010"/>
<rect x="327.98" y="770.2" width="11.17" height="10.299999999999955" fill="#ff7020"/>
<rect x="338.86" y="770.2" width="11.17" height="10.299999999999955" fill="#ff6010"/>
<rect x="349.73" y="770.2" width="11.17" height="10.299999999999955" fill="#f84010"/>
<rect x="360.61" y="770.2" width="11.17" height="10.299999999999955" fill="#ff2010"/>
<rect x="371.48" y="770.2" width="11.17" height="10.299999999999955" fill="#ff1010"/>
<rect x="382.35" y="770.2" width="11.17" height="10.299999999999955" fill="#ff1030"/>
<rect x="393.23" y="770.2" width="11.17" height="10.299999999999955" fill="#f81040"/>
<rect x="404.10" y="770.2" width="11.17" height="10.299999999999955" fill="#ff1080"/>
<rect x="414.98" y="770.2" width="11.17" height="10.299999999999955" fill="#ff1090"/>
<rect x="425.85" y="770.2" width="11.17" height="10.299999999999955" fill="#f090c0"/>
<rect x="436.73" y="770.2" width="11.17" height="10.299999999999955" fill="#f0a8c8"/>
<line x1="34.37" y1="770.2" x2="34.37" y2="780.5" stroke="#111" stroke-width="1" />
<line x1="77.87" y1="770.2" x2="77.87" y2="780.5" stroke="#111" stroke-width="1" />
<line x1="121.37" y1="770.2" x2="121.37" y2="780.5" stroke="#111" stroke-width="1" />
<line x1="164.87" y1="770.2" x2="164.87" y2="780.5" stroke="#111" stroke-width="1" />
<line x1="208.36" y1="770.2" x2="208.36" y2="780.5" stroke="#111" stroke-width="1" />
<line x1="251.86" y1="770.2" x2="251.86" y2="780.5" stroke="#111" stroke-width="1" />
<line x1="295.36" y1="770.2" x2="295.36" y2="780.5" stroke="#111" stroke-width="1" />
<line x1="338.86" y1="770.2" x2="338.86" y2="780.5" stroke="#111" stroke-width="1" />
<line x1="382.35" y1="770.2" x2="382.35" y2="780.5" stroke="#111" stroke-width="1" />
<line x1="425.85" y1="770.2" x2="425.85" y2="780.5" stroke="#111" stroke-width="1" />
<rect x="23.5" y="770.2" width="424.1" height="10.299999999999955" fill="none" stroke="#111" stroke-width="1.2" />
<text x="34.7" y="767.2" font-family="'Liberation Serif', serif" font-size="13" font-weight="normal" font-style="normal" fill="#000" stroke="#000" stroke-width="0.3" text-anchor="middle" >-397.37</text>
<text x="78.1" y="767.2" font-family="'Liberation Serif', serif" font-size="13" font-weight="normal" font-style="normal" fill="#000" stroke="#000" stroke-width="0.3" text-anchor="middle" >-383.04</text>
<text x="121.6" y="767.2" font-family="'Liberation Serif', serif" font-size="13" font-weight="normal" font-style="normal" fill="#000" stroke="#000" stroke-width="0.3" text-anchor="middle" >-368.12</text>
<text x="165.0" y="767.2" font-family="'Liberation Serif', serif" font-size="13" font-weight="normal" font-style="normal" fill="#000" stroke="#000" stroke-width="0.3" text-anchor="middle" >-354.79</text>
<text x="208.5" y="767.2" font-family="'Liberation Serif', serif" font-size="13" font-weight="normal" font-style="normal" fill="#000" stroke="#000" stroke-width="0.3" text-anchor="middle" >-337.34</text>
<text x="251.9" y="767.2" font-family="'Liberation Serif', serif" font-size="13" font-weight="normal" font-style="normal" fill="#000" stroke="#000" stroke-width="0.3" text-anchor="middle" >-316.36</text>
<text x="295.4" y="767.2" font-family="'Liberation Serif', serif" font-size="13" font-weight="normal" font-style="normal" fill="#000" stroke="#000" stroke-width="0.3" text-anchor="middle" >-296.79</text>
<text x="338.8" y="767.2" font-family="'Liberation Serif', serif" font-size="13" font-weight="normal" font-style="normal" fill="#000" stroke="#000" stroke-width="0.3" text-anchor="middle" >-273.72</text>
<text x="382.3" y="767.2" font-family="'Liberation Serif', serif" font-size="13" font-weight="normal" font-style="normal" fill="#000" stroke="#000" stroke-width="0.3" text-anchor="middle" >-251.19</text>
<text x="425.7" y="767.2" font-family="'Liberation Serif', serif" font-size="13" font-weight="normal" font-style="normal" fill="#000" stroke="#000" stroke-width="0.3" text-anchor="middle" >-212.48</text>
<text x="460.4" y="750.4" font-family="'Liberation Serif', serif" font-size="12.2" font-weight="bold" font-style="normal" fill="#000" stroke="#000" stroke-width="0.3" text-anchor="start" >2500</text>
<text x="495.7" y="750.4" font-family="'Liberation Serif', serif" font-size="12.2" font-weight="bold" font-style="normal" fill="#000" stroke="#000" stroke-width="0.3" text-anchor="start" >0</text>
<text x="512.7" y="750.4" font-family="'Liberation Serif', serif" font-size="13" font-weight="bold" font-style="normal" fill="#000" stroke="#000" stroke-width="0.3" text-anchor="start" >2500</text>
<text x="539.5" y="750.4" font-family="'Liberation Serif', serif" font-size="13" font-weight="bold" font-style="normal" fill="#000" stroke="#000" stroke-width="0.3" text-anchor="start" >5000</text>
<text x="566.3" y="750.4" font-family="'Liberation Serif', serif" font-size="13" font-weight="bold" font-style="normal" fill="#000" stroke="#000" stroke-width="0.3" text-anchor="start" >7500</text>
<rect x="472.2" y="754.8" width="108.30000000000001" height="8.0" fill="#000"/>
<rect x="473.70" y="756.3" width="4.92" height="2.50" fill="#fff"/>
<rect x="479.12" y="758.80" width="4.92" height="2.50" fill="#fff"/>
<rect x="484.53" y="756.3" width="4.92" height="2.50" fill="#fff"/>
<rect x="489.94" y="758.80" width="4.92" height="2.50" fill="#fff"/>
<rect x="495.36" y="756.3" width="4.92" height="2.50" fill="#fff"/>
<rect x="499.27" y="758.80" width="26.08" height="2.50" fill="#fff"/>
<rect x="526.35" y="756.3" width="26.08" height="2.50" fill="#fff"/>
<rect x="553.42" y="758.80" width="26.08" height="2.50" fill="#fff"/>
<text x="503.5" y="776.3" font-family="'Liberation Serif', serif" font-size="12.8" font-weight="bold" font-style="normal" fill="#000" stroke="#000" stroke-width="0.3" text-anchor="start" >(meters)</text>
<text x="456.5" y="789.6" font-family="'Liberation Serif', serif" font-size="13" font-weight="bold" font-style="normal" fill="#000" stroke="#000" stroke-width="0.3" text-anchor="start" >WGS 84 / UTM zone 32N</text>
<line x1="556.1" y1="669.4" x2="556.1" y2="724.5" stroke="#222" stroke-width="1.1" />
<line x1="556.1" y1="716.0" x2="556.1" y2="724.5" stroke="#111" stroke-width="2.2" />
<path d="M556.1 672.9 Q560.1 676.4 559.3000000000001 677.9 L556.1 678.9" fill="none" stroke="#222" stroke-width="1"/>
<line x1="539.9" y1="695" x2="549.2" y2="695" stroke="#333" stroke-width="1.3" />
<line x1="564.5" y1="695" x2="574.3" y2="695" stroke="#333" stroke-width="1.3" />
<rect x="550.8" y="690.64" width="10.4" height="9.75" fill="#fff"/>
<text x="551.8" y="700" font-family="'Liberation Serif', serif" font-size="13" font-style="italic" fill="#fff" stroke="#222" stroke-width="0.8">N</text>
<text x="54.5" y="812" font-family="'Liberation Serif', serif" font-size="13" font-weight="bold" font-style="normal" fill="#1414e6" stroke="#1414e6" stroke-width="0.3" text-anchor="start" >Sp</text>
<text x="81.5" y="812" font-family="'Liberation Serif', serif" font-size="13" font-weight="bold" font-style="normal" fill="#000" stroke="#000" stroke-width="0.3" text-anchor="start" >Sphere</text>
<rect x="226.8" y="800.2" width="8.8" height="13.8" rx="1.2" fill="none" stroke="#f7822c" stroke-width="1.5"/>
<text x="243.9" y="811.3" font-family="'Liberation Serif', serif" font-size="13" font-weight="bold" font-style="normal" fill="#000" stroke="#000" stroke-width="0.3" text-anchor="start" >Pegmatite rich zone</text>
</svg></body></html>
